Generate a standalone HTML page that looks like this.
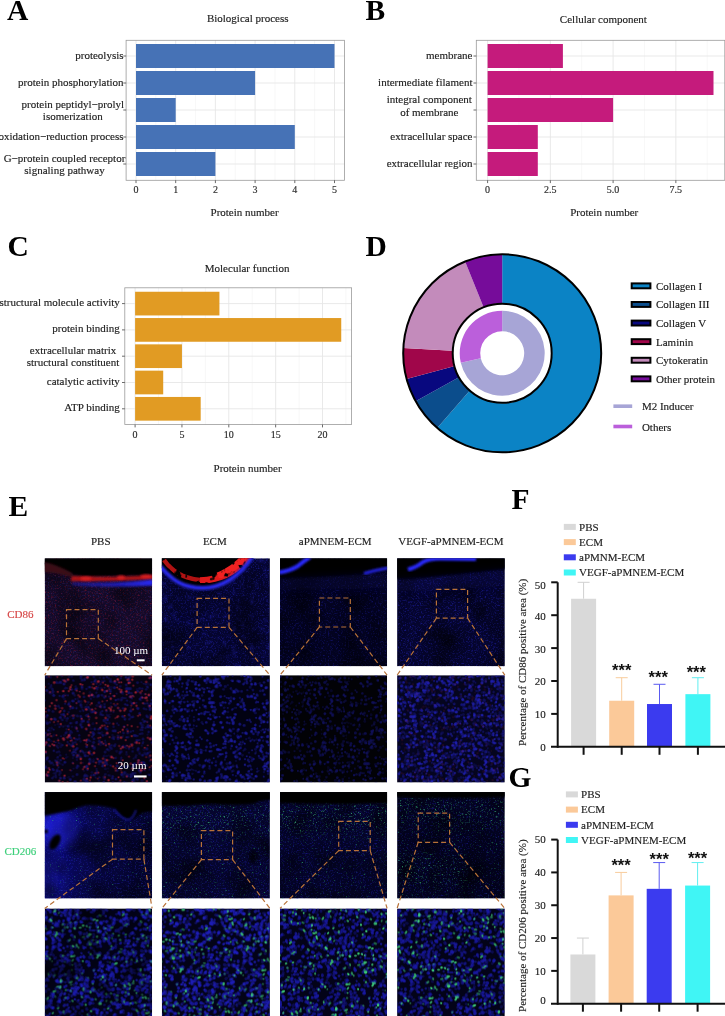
<!DOCTYPE html>
<html><head><meta charset="utf-8"><title>Figure</title>
<style>html,body{margin:0;padding:0;background:#fff;}svg{display:block;}</style></head>
<body><svg width="725" height="1016" viewBox="0 0 725 1016" font-family="'Liberation Serif', 'Times New Roman', serif">
<rect width="725" height="1016" fill="#fff"/>
<text x="7.00" y="20.00" font-size="29.5" font-weight="bold" fill="#000">A</text>
<rect x="126.1" y="40.3" width="218.29999999999998" height="140.0" fill="#fff"/>
<line x1="155.85" y1="40.3" x2="155.85" y2="180.3" stroke="#f2f2f2" stroke-width="0.6"/>
<line x1="195.55" y1="40.3" x2="195.55" y2="180.3" stroke="#f2f2f2" stroke-width="0.6"/>
<line x1="235.25" y1="40.3" x2="235.25" y2="180.3" stroke="#f2f2f2" stroke-width="0.6"/>
<line x1="274.95" y1="40.3" x2="274.95" y2="180.3" stroke="#f2f2f2" stroke-width="0.6"/>
<line x1="314.65" y1="40.3" x2="314.65" y2="180.3" stroke="#f2f2f2" stroke-width="0.6"/>
<line x1="136.00" y1="40.3" x2="136.00" y2="180.3" stroke="#e6e6e6" stroke-width="0.9"/>
<line x1="175.70" y1="40.3" x2="175.70" y2="180.3" stroke="#e6e6e6" stroke-width="0.9"/>
<line x1="215.40" y1="40.3" x2="215.40" y2="180.3" stroke="#e6e6e6" stroke-width="0.9"/>
<line x1="255.10" y1="40.3" x2="255.10" y2="180.3" stroke="#e6e6e6" stroke-width="0.9"/>
<line x1="294.80" y1="40.3" x2="294.80" y2="180.3" stroke="#e6e6e6" stroke-width="0.9"/>
<line x1="334.50" y1="40.3" x2="334.50" y2="180.3" stroke="#e6e6e6" stroke-width="0.9"/>
<line x1="126.1" y1="56.00" x2="344.4" y2="56.00" stroke="#e6e6e6" stroke-width="0.9"/>
<line x1="126.1" y1="83.00" x2="344.4" y2="83.00" stroke="#e6e6e6" stroke-width="0.9"/>
<line x1="126.1" y1="110.00" x2="344.4" y2="110.00" stroke="#e6e6e6" stroke-width="0.9"/>
<line x1="126.1" y1="137.00" x2="344.4" y2="137.00" stroke="#e6e6e6" stroke-width="0.9"/>
<line x1="126.1" y1="164.00" x2="344.4" y2="164.00" stroke="#e6e6e6" stroke-width="0.9"/>
<rect x="136.00" y="44.00" width="198.50" height="24.00" fill="#4672b6"/>
<rect x="136.00" y="71.00" width="119.10" height="24.00" fill="#4672b6"/>
<rect x="136.00" y="98.00" width="39.70" height="24.00" fill="#4672b6"/>
<rect x="136.00" y="125.00" width="158.80" height="24.00" fill="#4672b6"/>
<rect x="136.00" y="152.00" width="79.40" height="24.00" fill="#4672b6"/>
<rect x="126.1" y="40.3" width="218.29999999999998" height="140.0" fill="none" stroke="#9a9a9a" stroke-width="0.8"/>
<line x1="123.3" y1="56.00" x2="126.1" y2="56.00" stroke="#444" stroke-width="0.8"/>
<line x1="123.3" y1="83.00" x2="126.1" y2="83.00" stroke="#444" stroke-width="0.8"/>
<line x1="123.3" y1="110.00" x2="126.1" y2="110.00" stroke="#444" stroke-width="0.8"/>
<line x1="123.3" y1="137.00" x2="126.1" y2="137.00" stroke="#444" stroke-width="0.8"/>
<line x1="123.3" y1="164.00" x2="126.1" y2="164.00" stroke="#444" stroke-width="0.8"/>
<line x1="136.00" y1="180.3" x2="136.00" y2="183.10000000000002" stroke="#444" stroke-width="0.8"/>
<text x="136.00" y="193.30" font-size="10" text-anchor="middle" fill="#2a2a2a" stroke="#2a2a2a" stroke-width="0.15" >0</text>
<line x1="175.70" y1="180.3" x2="175.70" y2="183.10000000000002" stroke="#444" stroke-width="0.8"/>
<text x="175.70" y="193.30" font-size="10" text-anchor="middle" fill="#2a2a2a" stroke="#2a2a2a" stroke-width="0.15" >1</text>
<line x1="215.40" y1="180.3" x2="215.40" y2="183.10000000000002" stroke="#444" stroke-width="0.8"/>
<text x="215.40" y="193.30" font-size="10" text-anchor="middle" fill="#2a2a2a" stroke="#2a2a2a" stroke-width="0.15" >2</text>
<line x1="255.10" y1="180.3" x2="255.10" y2="183.10000000000002" stroke="#444" stroke-width="0.8"/>
<text x="255.10" y="193.30" font-size="10" text-anchor="middle" fill="#2a2a2a" stroke="#2a2a2a" stroke-width="0.15" >3</text>
<line x1="294.80" y1="180.3" x2="294.80" y2="183.10000000000002" stroke="#444" stroke-width="0.8"/>
<text x="294.80" y="193.30" font-size="10" text-anchor="middle" fill="#2a2a2a" stroke="#2a2a2a" stroke-width="0.15" >4</text>
<line x1="334.50" y1="180.3" x2="334.50" y2="183.10000000000002" stroke="#444" stroke-width="0.8"/>
<text x="334.50" y="193.30" font-size="10" text-anchor="middle" fill="#2a2a2a" stroke="#2a2a2a" stroke-width="0.15" >5</text>
<text x="123.50" y="58.50" font-size="11" text-anchor="end" fill="#222" stroke="#222" stroke-width="0.15" >proteolysis</text>
<text x="123.50" y="85.50" font-size="11" text-anchor="end" fill="#222" stroke="#222" stroke-width="0.15" >protein phosphorylation</text>
<text font-size="11" fill="#222" stroke="#222" stroke-width="0.15" text-anchor="middle"><tspan x="72.80" y="107.80">protein peptidyl−prolyl</tspan><tspan x="72.80" y="119.90">isomerization</tspan></text>
<text x="123.50" y="139.50" font-size="11" text-anchor="end" fill="#222" stroke="#222" stroke-width="0.15" >oxidation−reduction process</text>
<text font-size="11" fill="#222" stroke="#222" stroke-width="0.15" text-anchor="middle"><tspan x="64.50" y="161.80">G−protein coupled receptor</tspan><tspan x="64.50" y="173.90">signaling pathway</tspan></text>
<text x="247.70" y="22.30" font-size="11" text-anchor="middle" fill="#222" stroke="#222" stroke-width="0.15" >Biological process</text>
<text x="244.60" y="215.70" font-size="11" text-anchor="middle" fill="#222" stroke="#222" stroke-width="0.15" >Protein number</text>
<text x="365.50" y="19.50" font-size="29.5" font-weight="bold" fill="#000">B</text>
<rect x="476.3" y="40.3" width="248.49999999999994" height="140.0" fill="#fff"/>
<line x1="518.98" y1="40.3" x2="518.98" y2="180.3" stroke="#f2f2f2" stroke-width="0.6"/>
<line x1="581.73" y1="40.3" x2="581.73" y2="180.3" stroke="#f2f2f2" stroke-width="0.6"/>
<line x1="644.48" y1="40.3" x2="644.48" y2="180.3" stroke="#f2f2f2" stroke-width="0.6"/>
<line x1="707.23" y1="40.3" x2="707.23" y2="180.3" stroke="#f2f2f2" stroke-width="0.6"/>
<line x1="487.60" y1="40.3" x2="487.60" y2="180.3" stroke="#e6e6e6" stroke-width="0.9"/>
<line x1="550.35" y1="40.3" x2="550.35" y2="180.3" stroke="#e6e6e6" stroke-width="0.9"/>
<line x1="613.10" y1="40.3" x2="613.10" y2="180.3" stroke="#e6e6e6" stroke-width="0.9"/>
<line x1="675.85" y1="40.3" x2="675.85" y2="180.3" stroke="#e6e6e6" stroke-width="0.9"/>
<line x1="476.3" y1="56.00" x2="724.8" y2="56.00" stroke="#e6e6e6" stroke-width="0.9"/>
<line x1="476.3" y1="83.00" x2="724.8" y2="83.00" stroke="#e6e6e6" stroke-width="0.9"/>
<line x1="476.3" y1="110.00" x2="724.8" y2="110.00" stroke="#e6e6e6" stroke-width="0.9"/>
<line x1="476.3" y1="137.00" x2="724.8" y2="137.00" stroke="#e6e6e6" stroke-width="0.9"/>
<line x1="476.3" y1="164.00" x2="724.8" y2="164.00" stroke="#e6e6e6" stroke-width="0.9"/>
<rect x="487.60" y="44.00" width="75.30" height="24.00" fill="#c51b7c"/>
<rect x="487.60" y="71.00" width="225.90" height="24.00" fill="#c51b7c"/>
<rect x="487.60" y="98.00" width="125.50" height="24.00" fill="#c51b7c"/>
<rect x="487.60" y="125.00" width="50.20" height="24.00" fill="#c51b7c"/>
<rect x="487.60" y="152.00" width="50.20" height="24.00" fill="#c51b7c"/>
<rect x="476.3" y="40.3" width="248.49999999999994" height="140.0" fill="none" stroke="#9a9a9a" stroke-width="0.8"/>
<line x1="473.5" y1="56.00" x2="476.3" y2="56.00" stroke="#444" stroke-width="0.8"/>
<line x1="473.5" y1="83.00" x2="476.3" y2="83.00" stroke="#444" stroke-width="0.8"/>
<line x1="473.5" y1="110.00" x2="476.3" y2="110.00" stroke="#444" stroke-width="0.8"/>
<line x1="473.5" y1="137.00" x2="476.3" y2="137.00" stroke="#444" stroke-width="0.8"/>
<line x1="473.5" y1="164.00" x2="476.3" y2="164.00" stroke="#444" stroke-width="0.8"/>
<line x1="487.60" y1="180.3" x2="487.60" y2="183.10000000000002" stroke="#444" stroke-width="0.8"/>
<text x="487.60" y="193.30" font-size="10" text-anchor="middle" fill="#2a2a2a" stroke="#2a2a2a" stroke-width="0.15" >0</text>
<line x1="550.35" y1="180.3" x2="550.35" y2="183.10000000000002" stroke="#444" stroke-width="0.8"/>
<text x="550.35" y="193.30" font-size="10" text-anchor="middle" fill="#2a2a2a" stroke="#2a2a2a" stroke-width="0.15" >2.5</text>
<line x1="613.10" y1="180.3" x2="613.10" y2="183.10000000000002" stroke="#444" stroke-width="0.8"/>
<text x="613.10" y="193.30" font-size="10" text-anchor="middle" fill="#2a2a2a" stroke="#2a2a2a" stroke-width="0.15" >5.0</text>
<line x1="675.85" y1="180.3" x2="675.85" y2="183.10000000000002" stroke="#444" stroke-width="0.8"/>
<text x="675.85" y="193.30" font-size="10" text-anchor="middle" fill="#2a2a2a" stroke="#2a2a2a" stroke-width="0.15" >7.5</text>
<text x="472.50" y="58.50" font-size="11" text-anchor="end" fill="#222" stroke="#222" stroke-width="0.15" >membrane</text>
<text x="472.50" y="85.50" font-size="11" text-anchor="end" fill="#222" stroke="#222" stroke-width="0.15" >intermediate filament</text>
<text font-size="11" fill="#222" stroke="#222" stroke-width="0.15" text-anchor="middle"><tspan x="429.30" y="102.80">integral component</tspan><tspan x="429.30" y="115.60">of membrane</tspan></text>
<text x="472.50" y="139.50" font-size="11" text-anchor="end" fill="#222" stroke="#222" stroke-width="0.15" >extracellular space</text>
<text x="472.50" y="166.50" font-size="11" text-anchor="end" fill="#222" stroke="#222" stroke-width="0.15" >extracellular region</text>
<text x="603.40" y="22.50" font-size="11" text-anchor="middle" fill="#222" stroke="#222" stroke-width="0.15" >Cellular component</text>
<text x="604.20" y="215.70" font-size="11" text-anchor="middle" fill="#222" stroke="#222" stroke-width="0.15" >Protein number</text>
<text x="7.50" y="256.00" font-size="29.5" font-weight="bold" fill="#000">C</text>
<rect x="124.8" y="287.8" width="226.8" height="136.8" fill="#fff"/>
<line x1="158.52" y1="287.8" x2="158.52" y2="424.6" stroke="#f2f2f2" stroke-width="0.6"/>
<line x1="205.38" y1="287.8" x2="205.38" y2="424.6" stroke="#f2f2f2" stroke-width="0.6"/>
<line x1="252.22" y1="287.8" x2="252.22" y2="424.6" stroke="#f2f2f2" stroke-width="0.6"/>
<line x1="299.07" y1="287.8" x2="299.07" y2="424.6" stroke="#f2f2f2" stroke-width="0.6"/>
<line x1="345.92" y1="287.8" x2="345.92" y2="424.6" stroke="#f2f2f2" stroke-width="0.6"/>
<line x1="135.10" y1="287.8" x2="135.10" y2="424.6" stroke="#e6e6e6" stroke-width="0.9"/>
<line x1="181.95" y1="287.8" x2="181.95" y2="424.6" stroke="#e6e6e6" stroke-width="0.9"/>
<line x1="228.80" y1="287.8" x2="228.80" y2="424.6" stroke="#e6e6e6" stroke-width="0.9"/>
<line x1="275.65" y1="287.8" x2="275.65" y2="424.6" stroke="#e6e6e6" stroke-width="0.9"/>
<line x1="322.50" y1="287.8" x2="322.50" y2="424.6" stroke="#e6e6e6" stroke-width="0.9"/>
<line x1="124.8" y1="303.60" x2="351.6" y2="303.60" stroke="#e6e6e6" stroke-width="0.9"/>
<line x1="124.8" y1="329.90" x2="351.6" y2="329.90" stroke="#e6e6e6" stroke-width="0.9"/>
<line x1="124.8" y1="356.20" x2="351.6" y2="356.20" stroke="#e6e6e6" stroke-width="0.9"/>
<line x1="124.8" y1="382.50" x2="351.6" y2="382.50" stroke="#e6e6e6" stroke-width="0.9"/>
<line x1="124.8" y1="408.80" x2="351.6" y2="408.80" stroke="#e6e6e6" stroke-width="0.9"/>
<rect x="135.10" y="291.75" width="84.33" height="23.70" fill="#e19b23"/>
<rect x="135.10" y="318.05" width="206.14" height="23.70" fill="#e19b23"/>
<rect x="135.10" y="344.35" width="46.85" height="23.70" fill="#e19b23"/>
<rect x="135.10" y="370.65" width="28.11" height="23.70" fill="#e19b23"/>
<rect x="135.10" y="396.95" width="65.59" height="23.70" fill="#e19b23"/>
<rect x="124.8" y="287.8" width="226.8" height="136.8" fill="none" stroke="#9a9a9a" stroke-width="0.8"/>
<line x1="122.0" y1="303.60" x2="124.8" y2="303.60" stroke="#444" stroke-width="0.8"/>
<line x1="122.0" y1="329.90" x2="124.8" y2="329.90" stroke="#444" stroke-width="0.8"/>
<line x1="122.0" y1="356.20" x2="124.8" y2="356.20" stroke="#444" stroke-width="0.8"/>
<line x1="122.0" y1="382.50" x2="124.8" y2="382.50" stroke="#444" stroke-width="0.8"/>
<line x1="122.0" y1="408.80" x2="124.8" y2="408.80" stroke="#444" stroke-width="0.8"/>
<line x1="135.10" y1="424.6" x2="135.10" y2="427.40000000000003" stroke="#444" stroke-width="0.8"/>
<text x="135.10" y="437.60" font-size="10" text-anchor="middle" fill="#2a2a2a" stroke="#2a2a2a" stroke-width="0.15" >0</text>
<line x1="181.95" y1="424.6" x2="181.95" y2="427.40000000000003" stroke="#444" stroke-width="0.8"/>
<text x="181.95" y="437.60" font-size="10" text-anchor="middle" fill="#2a2a2a" stroke="#2a2a2a" stroke-width="0.15" >5</text>
<line x1="228.80" y1="424.6" x2="228.80" y2="427.40000000000003" stroke="#444" stroke-width="0.8"/>
<text x="228.80" y="437.60" font-size="10" text-anchor="middle" fill="#2a2a2a" stroke="#2a2a2a" stroke-width="0.15" >10</text>
<line x1="275.65" y1="424.6" x2="275.65" y2="427.40000000000003" stroke="#444" stroke-width="0.8"/>
<text x="275.65" y="437.60" font-size="10" text-anchor="middle" fill="#2a2a2a" stroke="#2a2a2a" stroke-width="0.15" >15</text>
<line x1="322.50" y1="424.6" x2="322.50" y2="427.40000000000003" stroke="#444" stroke-width="0.8"/>
<text x="322.50" y="437.60" font-size="10" text-anchor="middle" fill="#2a2a2a" stroke="#2a2a2a" stroke-width="0.15" >20</text>
<text x="119.80" y="306.10" font-size="11" text-anchor="end" fill="#222" stroke="#222" stroke-width="0.15" >structural molecule activity</text>
<text x="119.80" y="332.40" font-size="11" text-anchor="end" fill="#222" stroke="#222" stroke-width="0.15" >protein binding</text>
<text font-size="11" fill="#222" stroke="#222" stroke-width="0.15" text-anchor="middle"><tspan x="73.00" y="354.00">extracellular matrix</tspan><tspan x="73.00" y="366.10">structural constituent</tspan></text>
<text x="119.80" y="385.00" font-size="11" text-anchor="end" fill="#222" stroke="#222" stroke-width="0.15" >catalytic activity</text>
<text x="119.80" y="411.30" font-size="11" text-anchor="end" fill="#222" stroke="#222" stroke-width="0.15" >ATP binding</text>
<text x="247.10" y="272.40" font-size="11" text-anchor="middle" fill="#222" stroke="#222" stroke-width="0.15" >Molecular function</text>
<text x="247.60" y="472.00" font-size="11" text-anchor="middle" fill="#222" stroke="#222" stroke-width="0.15" >Protein number</text>
<text x="365.50" y="255.60" font-size="29.5" font-weight="bold" fill="#000">D</text>
<path d="M502.20,254.30 A99,99 0 1 1 437.25,428.02 L469.40,391.04 A50,50 0 1 0 502.20,303.30 Z" fill="#0b83c5"/>
<path d="M437.25,428.02 A99,99 0 0 1 415.61,401.30 L458.47,377.54 A50,50 0 0 0 469.40,391.04 Z" fill="#0b4d8c"/>
<path d="M415.61,401.30 A99,99 0 0 1 406.57,378.92 L453.90,366.24 A50,50 0 0 0 458.47,377.54 Z" fill="#08087f"/>
<path d="M406.57,378.92 A99,99 0 0 1 403.34,348.12 L452.27,350.68 A50,50 0 0 0 453.90,366.24 Z" fill="#a0064a"/>
<path d="M403.34,348.12 A99,99 0 0 1 465.11,261.51 L483.47,306.94 A50,50 0 0 0 452.27,350.68 Z" fill="#c38bbb"/>
<path d="M465.11,261.51 A99,99 0 0 1 502.20,254.30 L502.20,303.30 A50,50 0 0 0 483.47,306.94 Z" fill="#760c9a"/>
<circle cx="502.2" cy="353.3" r="99" fill="none" stroke="#000" stroke-width="2"/>
<circle cx="502.2" cy="353.3" r="49.5" fill="#fff" stroke="#000" stroke-width="2"/>
<path d="M502.20,310.80 A42.5,42.5 0 1 1 460.79,362.86 L480.76,358.25 A22,22 0 1 0 502.20,331.30 Z" fill="#a7a5d6"/>
<path d="M460.79,362.86 A42.5,42.5 0 0 1 502.20,310.80 L502.20,331.30 A22,22 0 0 0 480.76,358.25 Z" fill="#bb5fdb"/>
<rect x="631.7" y="283.40" width="18.7" height="4.9" fill="#0b83c5" stroke="#000" stroke-width="2"/>
<text x="656.00" y="289.80" font-size="11" text-anchor="start" fill="#1a1a1a" stroke="#1a1a1a" stroke-width="0.15" >Collagen I</text>
<rect x="631.7" y="302.00" width="18.7" height="4.9" fill="#0b4d8c" stroke="#000" stroke-width="2"/>
<text x="656.00" y="308.40" font-size="11" text-anchor="start" fill="#1a1a1a" stroke="#1a1a1a" stroke-width="0.15" >Collagen III</text>
<rect x="631.7" y="320.60" width="18.7" height="4.9" fill="#08087f" stroke="#000" stroke-width="2"/>
<text x="656.00" y="327.00" font-size="11" text-anchor="start" fill="#1a1a1a" stroke="#1a1a1a" stroke-width="0.15" >Collagen V</text>
<rect x="631.7" y="339.20" width="18.7" height="4.9" fill="#a0064a" stroke="#000" stroke-width="2"/>
<text x="656.00" y="345.60" font-size="11" text-anchor="start" fill="#1a1a1a" stroke="#1a1a1a" stroke-width="0.15" >Laminin</text>
<rect x="631.7" y="357.80" width="18.7" height="4.9" fill="#c38bbb" stroke="#000" stroke-width="2"/>
<text x="656.00" y="364.20" font-size="11" text-anchor="start" fill="#1a1a1a" stroke="#1a1a1a" stroke-width="0.15" >Cytokeratin</text>
<rect x="631.7" y="376.40" width="18.7" height="4.9" fill="#760c9a" stroke="#000" stroke-width="2"/>
<text x="656.00" y="382.80" font-size="11" text-anchor="start" fill="#1a1a1a" stroke="#1a1a1a" stroke-width="0.15" >Other protein</text>
<rect x="613.4" y="404.40" width="18.8" height="3.6" fill="#a7a5d6"/>
<text x="641.90" y="410.20" font-size="11" text-anchor="start" fill="#1a1a1a" stroke="#1a1a1a" stroke-width="0.15" >M2 Inducer</text>
<rect x="613.4" y="424.70" width="18.8" height="3.6" fill="#bb5fdb"/>
<text x="641.90" y="430.50" font-size="11" text-anchor="start" fill="#1a1a1a" stroke="#1a1a1a" stroke-width="0.15" >Others</text>
<text x="511.50" y="509.00" font-size="29.5" font-weight="bold" fill="#000">F</text>
<rect x="563.8" y="523.90" width="12" height="6" fill="#d9d9d9"/>
<text x="579.10" y="530.70" font-size="11" text-anchor="start" fill="#222" stroke="#222" stroke-width="0.15" >PBS</text>
<rect x="563.8" y="539.10" width="12" height="6" fill="#fbc999"/>
<text x="579.10" y="545.90" font-size="11" text-anchor="start" fill="#222" stroke="#222" stroke-width="0.15" >ECM</text>
<rect x="563.8" y="554.30" width="12" height="6" fill="#3b3bef"/>
<text x="579.10" y="561.10" font-size="11" text-anchor="start" fill="#222" stroke="#222" stroke-width="0.15" >aPMNM-ECM</text>
<rect x="563.8" y="569.50" width="12" height="6" fill="#40f5f5"/>
<text x="579.10" y="576.30" font-size="11" text-anchor="start" fill="#222" stroke="#222" stroke-width="0.15" >VEGF-aPMNEM-ECM</text>
<line x1="583.60" y1="582.30" x2="583.60" y2="598.75" stroke="#d0d0d0" stroke-width="1"/>
<line x1="577.60" y1="582.30" x2="589.60" y2="582.30" stroke="#d0d0d0" stroke-width="1"/>
<rect x="571.10" y="598.75" width="25" height="148.05" fill="#d9d9d9"/>
<line x1="621.70" y1="677.71" x2="621.70" y2="700.74" stroke="#f8cc9c" stroke-width="1"/>
<line x1="615.70" y1="677.71" x2="627.70" y2="677.71" stroke="#f8cc9c" stroke-width="1"/>
<rect x="609.20" y="700.74" width="25" height="46.06" fill="#fbc999"/>
<text x="621.70" y="676.30" font-family="&quot;Liberation Sans&quot;, Arial, sans-serif" font-weight="bold" font-size="16.5" text-anchor="middle" fill="#111">***</text>
<line x1="659.50" y1="684.29" x2="659.50" y2="704.03" stroke="#5a5af0" stroke-width="1"/>
<line x1="653.50" y1="684.29" x2="665.50" y2="684.29" stroke="#5a5af0" stroke-width="1"/>
<rect x="647.00" y="704.03" width="25" height="42.77" fill="#3b3bef"/>
<text x="658.20" y="683.30" font-family="&quot;Liberation Sans&quot;, Arial, sans-serif" font-weight="bold" font-size="16.5" text-anchor="middle" fill="#111">***</text>
<line x1="697.90" y1="677.71" x2="697.90" y2="694.16" stroke="#60eef0" stroke-width="1"/>
<line x1="691.90" y1="677.71" x2="703.90" y2="677.71" stroke="#60eef0" stroke-width="1"/>
<rect x="685.40" y="694.16" width="25" height="52.64" fill="#40f5f5"/>
<text x="696.30" y="678.30" font-family="&quot;Liberation Sans&quot;, Arial, sans-serif" font-weight="bold" font-size="16.5" text-anchor="middle" fill="#111">***</text>
<line x1="557.7" y1="582.30" x2="557.7" y2="747.80" stroke="#111" stroke-width="2"/>
<line x1="551" y1="746.80" x2="725" y2="746.80" stroke="#111" stroke-width="2"/>
<text x="545.80" y="750.60" font-size="11" text-anchor="end" fill="#222" stroke="#222" stroke-width="0.15" >0</text>
<line x1="551.2" y1="713.90" x2="557.7" y2="713.90" stroke="#111" stroke-width="2"/>
<text x="545.80" y="717.70" font-size="11" text-anchor="end" fill="#222" stroke="#222" stroke-width="0.15" >10</text>
<line x1="551.2" y1="681.00" x2="557.7" y2="681.00" stroke="#111" stroke-width="2"/>
<text x="545.80" y="684.80" font-size="11" text-anchor="end" fill="#222" stroke="#222" stroke-width="0.15" >20</text>
<line x1="551.2" y1="648.10" x2="557.7" y2="648.10" stroke="#111" stroke-width="2"/>
<text x="545.80" y="652.90" font-size="11" text-anchor="end" fill="#222" stroke="#222" stroke-width="0.15" >30</text>
<line x1="551.2" y1="615.20" x2="557.7" y2="615.20" stroke="#111" stroke-width="2"/>
<text x="545.80" y="620.40" font-size="11" text-anchor="end" fill="#222" stroke="#222" stroke-width="0.15" >40</text>
<line x1="551.2" y1="582.30" x2="557.7" y2="582.30" stroke="#111" stroke-width="2"/>
<text x="545.80" y="588.90" font-size="11" text-anchor="end" fill="#222" stroke="#222" stroke-width="0.15" >50</text>
<line x1="583.60" y1="746.80" x2="583.60" y2="754.80" stroke="#111" stroke-width="2"/>
<line x1="621.70" y1="746.80" x2="621.70" y2="754.80" stroke="#111" stroke-width="2"/>
<line x1="659.50" y1="746.80" x2="659.50" y2="754.80" stroke="#111" stroke-width="2"/>
<line x1="697.90" y1="746.80" x2="697.90" y2="754.80" stroke="#111" stroke-width="2"/>
<text transform="translate(526.3,662.40) rotate(-90)" font-size="11" text-anchor="middle" fill="#222" stroke="#222" stroke-width="0.15">Percentage of CD86 positive area (%)</text>
<text x="508.50" y="786.50" font-size="29.5" font-weight="bold" fill="#000">G</text>
<rect x="565.9" y="791.40" width="12" height="6" fill="#d9d9d9"/>
<text x="581.10" y="798.20" font-size="11" text-anchor="start" fill="#222" stroke="#222" stroke-width="0.15" >PBS</text>
<rect x="565.9" y="806.60" width="12" height="6" fill="#fbc999"/>
<text x="581.10" y="813.40" font-size="11" text-anchor="start" fill="#222" stroke="#222" stroke-width="0.15" >ECM</text>
<rect x="565.9" y="821.80" width="12" height="6" fill="#3b3bef"/>
<text x="581.10" y="828.60" font-size="11" text-anchor="start" fill="#222" stroke="#222" stroke-width="0.15" >aPMNEM-ECM</text>
<rect x="565.9" y="837.00" width="12" height="6" fill="#40f5f5"/>
<text x="581.10" y="843.80" font-size="11" text-anchor="start" fill="#222" stroke="#222" stroke-width="0.15" >VEGF-aPMNEM-ECM</text>
<line x1="582.90" y1="938.06" x2="582.90" y2="954.47" stroke="#d0d0d0" stroke-width="1"/>
<line x1="576.90" y1="938.06" x2="588.90" y2="938.06" stroke="#d0d0d0" stroke-width="1"/>
<rect x="570.40" y="954.47" width="25" height="49.23" fill="#d9d9d9"/>
<line x1="621.10" y1="872.42" x2="621.10" y2="895.39" stroke="#f8cc9c" stroke-width="1"/>
<line x1="615.10" y1="872.42" x2="627.10" y2="872.42" stroke="#f8cc9c" stroke-width="1"/>
<rect x="608.60" y="895.39" width="25" height="108.31" fill="#fbc999"/>
<text x="621.10" y="871.40" font-family="&quot;Liberation Sans&quot;, Arial, sans-serif" font-weight="bold" font-size="16.5" text-anchor="middle" fill="#111">***</text>
<line x1="659.20" y1="862.57" x2="659.20" y2="888.83" stroke="#5a5af0" stroke-width="1"/>
<line x1="653.20" y1="862.57" x2="665.20" y2="862.57" stroke="#5a5af0" stroke-width="1"/>
<rect x="646.70" y="888.83" width="25" height="114.87" fill="#3b3bef"/>
<text x="659.20" y="865.00" font-family="&quot;Liberation Sans&quot;, Arial, sans-serif" font-weight="bold" font-size="16.5" text-anchor="middle" fill="#111">***</text>
<line x1="697.60" y1="862.57" x2="697.60" y2="885.55" stroke="#60eef0" stroke-width="1"/>
<line x1="691.60" y1="862.57" x2="703.60" y2="862.57" stroke="#60eef0" stroke-width="1"/>
<rect x="685.10" y="885.55" width="25" height="118.15" fill="#40f5f5"/>
<text x="697.60" y="863.70" font-family="&quot;Liberation Sans&quot;, Arial, sans-serif" font-weight="bold" font-size="16.5" text-anchor="middle" fill="#111">***</text>
<line x1="557.7" y1="839.60" x2="557.7" y2="1004.70" stroke="#111" stroke-width="2"/>
<line x1="551" y1="1003.70" x2="725" y2="1003.70" stroke="#111" stroke-width="2"/>
<text x="545.80" y="1003.90" font-size="11" text-anchor="end" fill="#222" stroke="#222" stroke-width="0.15" >0</text>
<line x1="551.2" y1="970.88" x2="557.7" y2="970.88" stroke="#111" stroke-width="2"/>
<text x="545.80" y="974.68" font-size="11" text-anchor="end" fill="#222" stroke="#222" stroke-width="0.15" >10</text>
<line x1="551.2" y1="938.06" x2="557.7" y2="938.06" stroke="#111" stroke-width="2"/>
<text x="545.80" y="941.86" font-size="11" text-anchor="end" fill="#222" stroke="#222" stroke-width="0.15" >20</text>
<line x1="551.2" y1="905.24" x2="557.7" y2="905.24" stroke="#111" stroke-width="2"/>
<text x="545.80" y="909.04" font-size="11" text-anchor="end" fill="#222" stroke="#222" stroke-width="0.15" >30</text>
<line x1="551.2" y1="872.42" x2="557.7" y2="872.42" stroke="#111" stroke-width="2"/>
<text x="545.80" y="876.22" font-size="11" text-anchor="end" fill="#222" stroke="#222" stroke-width="0.15" >40</text>
<line x1="551.2" y1="839.60" x2="557.7" y2="839.60" stroke="#111" stroke-width="2"/>
<text x="545.80" y="843.40" font-size="11" text-anchor="end" fill="#222" stroke="#222" stroke-width="0.15" >50</text>
<line x1="582.90" y1="1003.70" x2="582.90" y2="1011.70" stroke="#111" stroke-width="2"/>
<line x1="621.10" y1="1003.70" x2="621.10" y2="1011.70" stroke="#111" stroke-width="2"/>
<line x1="659.20" y1="1003.70" x2="659.20" y2="1011.70" stroke="#111" stroke-width="2"/>
<line x1="697.60" y1="1003.70" x2="697.60" y2="1011.70" stroke="#111" stroke-width="2"/>
<text transform="translate(526.3,925.70) rotate(-90)" font-size="11" text-anchor="middle" fill="#222" stroke="#222" stroke-width="0.15">Percentage of CD206 positive area (%)</text>
<text x="8.50" y="515.90" font-size="29.5" font-weight="bold" fill="#000">E</text>
<text x="100.75" y="544.50" font-size="11" text-anchor="middle" fill="#222" stroke="#222" stroke-width="0.15" >PBS</text>
<text x="214.80" y="544.50" font-size="11" text-anchor="middle" fill="#222" stroke="#222" stroke-width="0.15" >ECM</text>
<text x="335.20" y="544.50" font-size="11" text-anchor="middle" fill="#222" stroke="#222" stroke-width="0.15" >aPMNEM-ECM</text>
<text x="450.90" y="544.50" font-size="11" text-anchor="middle" fill="#222" stroke="#222" stroke-width="0.15" >VEGF-aPMNEM-ECM</text>
<text x="7.20" y="618.30" font-size="11" text-anchor="start" fill="#d64545" stroke="#d64545" stroke-width="0.15" >CD86</text>
<text x="4.50" y="854.80" font-size="11" text-anchor="start" fill="#3ccf7a" stroke="#3ccf7a" stroke-width="0.15" >CD206</text>
<defs><filter id="blur1" x="-20%" y="-20%" width="140%" height="140%"><feGaussianBlur stdDeviation="1"/></filter><filter id="blur2" x="-20%" y="-20%" width="140%" height="140%"><feGaussianBlur stdDeviation="2.2"/></filter><filter id="blur6" x="-50%" y="-50%" width="200%" height="200%"><feGaussianBlur stdDeviation="8"/></filter><filter id="blur4" x="-50%" y="-50%" width="200%" height="200%"><feGaussianBlur stdDeviation="5"/></filter><linearGradient id="g20" x1="0" y1="0" x2="1" y2="0.2"><stop offset="0" stop-color="#0c0c80"/><stop offset="0.5" stop-color="#070748"/><stop offset="1" stop-color="#04042c"/></linearGradient><linearGradient id="bandg" x1="0" y1="0" x2="1" y2="0"><stop offset="0" stop-color="#2020c8" stop-opacity="0.45"/><stop offset="0.5" stop-color="#2020d0" stop-opacity="0.75"/><stop offset="1" stop-color="#2828f0"/></linearGradient><filter id="clump" x="-10%" y="-10%" width="120%" height="120%" color-interpolation-filters="sRGB"><feTurbulence type="fractalNoise" baseFrequency="0.17" numOctaves="2" seed="9" result="n"/><feColorMatrix in="n" type="matrix" values="0 0 0 0 0 0 0 0 0 0 0 0 0 0 0 6 0 0 0 -1.9" result="m"/><feComposite in="SourceGraphic" in2="m" operator="in" result="c"/><feGaussianBlur in="c" stdDeviation="0.7"/></filter><linearGradient id="fadeg" x1="0" y1="0" x2="0" y2="1"><stop offset="0" stop-color="#fff" stop-opacity="0"/><stop offset="0.2" stop-color="#fff"/><stop offset="0.5" stop-color="#fff"/><stop offset="1" stop-color="#fff" stop-opacity="0"/></linearGradient><mask id="fadem" maskContentUnits="objectBoundingBox"><rect width="1" height="1" fill="url(#fadeg)"/></mask><filter id="bdot" x="0" y="0" width="1" height="1"><feGaussianBlur stdDeviation="0.55"/></filter><clipPath id="c00"><rect x="44.7" y="558.3" width="107.40" height="107.90"/></clipPath><filter id="n1" x="0" y="0" width="1" height="1" color-interpolation-filters="sRGB"><feTurbulence type="fractalNoise" baseFrequency="0.6" numOctaves="2" seed="18"/><feColorMatrix type="matrix" values="0 0 0 0 0.188 0 0 0 0 0.188 0 0 0 0 0.627 1.3 0 0 0 -0.676"/><feGaussianBlur stdDeviation="0.5"/></filter><filter id="n2" x="0" y="0" width="1" height="1" color-interpolation-filters="sRGB"><feTurbulence type="fractalNoise" baseFrequency="0.6" numOctaves="2" seed="31"/><feColorMatrix type="matrix" values="0 0 0 0 0.627 0 0 0 0 0.094 0 0 0 0 0.188 1.8 0 0 0 -0.990"/><feGaussianBlur stdDeviation="0.5"/></filter><filter id="n3" x="0" y="0" width="1" height="1" color-interpolation-filters="sRGB"><feTurbulence type="fractalNoise" baseFrequency="0.035" numOctaves="2" seed="44"/><feColorMatrix type="matrix" values="0 0 0 0 0.0 0 0 0 0 0.0 0 0 0 0 0.0 1.4 0 0 0 -0.588"/><feGaussianBlur stdDeviation="1"/></filter><clipPath id="c01"><rect x="161.8" y="558.3" width="108.10" height="107.90"/></clipPath><filter id="n4" x="0" y="0" width="1" height="1" color-interpolation-filters="sRGB"><feTurbulence type="fractalNoise" baseFrequency="0.6" numOctaves="2" seed="57"/><feColorMatrix type="matrix" values="0 0 0 0 0.133 0 0 0 0 0.133 0 0 0 0 0.69 1.8 0 0 0 -0.900"/><feGaussianBlur stdDeviation="0.5"/></filter><filter id="n5" x="0" y="0" width="1" height="1" color-interpolation-filters="sRGB"><feTurbulence type="fractalNoise" baseFrequency="0.22" numOctaves="1" seed="70"/><feColorMatrix type="matrix" values="0 0 0 0 0.157 0 0 0 0 0.157 0 0 0 0 0.816 2.5 0 0 0 -1.500"/><feGaussianBlur stdDeviation="1.0"/></filter><filter id="n6" x="0" y="0" width="1" height="1" color-interpolation-filters="sRGB"><feTurbulence type="fractalNoise" baseFrequency="0.035" numOctaves="2" seed="83"/><feColorMatrix type="matrix" values="0 0 0 0 0.0 0 0 0 0 0.0 0 0 0 0 0.0 1.4 0 0 0 -0.588"/><feGaussianBlur stdDeviation="1"/></filter><clipPath id="c02"><rect x="280.0" y="558.3" width="107.10" height="107.90"/></clipPath><filter id="n7" x="0" y="0" width="1" height="1" color-interpolation-filters="sRGB"><feTurbulence type="fractalNoise" baseFrequency="0.6" numOctaves="2" seed="96"/><feColorMatrix type="matrix" values="0 0 0 0 0.11 0 0 0 0 0.11 0 0 0 0 0.596 1.6 0 0 0 -0.832"/><feGaussianBlur stdDeviation="0.5"/></filter><filter id="n8" x="0" y="0" width="1" height="1" color-interpolation-filters="sRGB"><feTurbulence type="fractalNoise" baseFrequency="0.035" numOctaves="2" seed="109"/><feColorMatrix type="matrix" values="0 0 0 0 0.0 0 0 0 0 0.0 0 0 0 0 0.0 1.4 0 0 0 -0.588"/><feGaussianBlur stdDeviation="1"/></filter><clipPath id="c03"><rect x="397.1" y="558.3" width="107.70" height="107.90"/></clipPath><filter id="n9" x="0" y="0" width="1" height="1" color-interpolation-filters="sRGB"><feTurbulence type="fractalNoise" baseFrequency="0.6" numOctaves="2" seed="122"/><feColorMatrix type="matrix" values="0 0 0 0 0.141 0 0 0 0 0.141 0 0 0 0 0.722 1.8 0 0 0 -0.900"/><feGaussianBlur stdDeviation="0.5"/></filter><filter id="n10" x="0" y="0" width="1" height="1" color-interpolation-filters="sRGB"><feTurbulence type="fractalNoise" baseFrequency="0.035" numOctaves="2" seed="135"/><feColorMatrix type="matrix" values="0 0 0 0 0.0 0 0 0 0 0.0 0 0 0 0 0.0 1.4 0 0 0 -0.588"/><feGaussianBlur stdDeviation="1"/></filter><clipPath id="c10"><rect x="44.7" y="675.2" width="107.40" height="107.40"/></clipPath><pattern id="dpb" width="108" height="108" patternUnits="userSpaceOnUse"><g fill="#1e1eb4"><circle cx="48.9" cy="60.5" r="1.5" opacity="0.60"/><circle cx="20.5" cy="86.8" r="1.2" opacity="0.70"/><circle cx="32.8" cy="9.8" r="1.4" opacity="0.75"/><circle cx="104.2" cy="70.6" r="1.3" opacity="0.40"/><circle cx="6.8" cy="3.9" r="1.4" opacity="0.69"/><circle cx="47.6" cy="91.0" r="1.2" opacity="0.72"/><circle cx="9.2" cy="70.7" r="1.1" opacity="0.66"/><circle cx="76.4" cy="34.0" r="1.0" opacity="0.49"/><circle cx="43.2" cy="91.4" r="1.1" opacity="0.92"/><circle cx="23.1" cy="100.1" r="0.9" opacity="0.54"/><circle cx="7.9" cy="68.0" r="1.4" opacity="0.48"/><circle cx="1.6" cy="44.3" r="1.5" opacity="0.39"/><circle cx="109.6" cy="44.3" r="1.5" opacity="0.39"/><circle cx="6.5" cy="86.1" r="1.0" opacity="0.66"/><circle cx="-1.6" cy="83.1" r="1.2" opacity="0.55"/><circle cx="106.4" cy="83.1" r="1.2" opacity="0.55"/><circle cx="0.1" cy="93.3" r="1.5" opacity="0.69"/><circle cx="108.1" cy="93.3" r="1.5" opacity="0.69"/><circle cx="22.8" cy="42.6" r="1.4" opacity="0.72"/><circle cx="23.0" cy="27.9" r="1.4" opacity="0.51"/><circle cx="8.0" cy="22.5" r="1.3" opacity="0.31"/><circle cx="48.9" cy="103.6" r="1.2" opacity="0.67"/><circle cx="67.7" cy="33.6" r="1.0" opacity="0.70"/><circle cx="79.9" cy="101.6" r="1.0" opacity="0.92"/><circle cx="8.5" cy="5.1" r="1.0" opacity="0.63"/><circle cx="27.8" cy="89.0" r="1.3" opacity="0.49"/><circle cx="13.7" cy="51.8" r="1.3" opacity="0.70"/><circle cx="99.1" cy="22.0" r="0.9" opacity="0.47"/><circle cx="5.0" cy="30.5" r="1.2" opacity="0.93"/><circle cx="96.2" cy="105.9" r="1.3" opacity="0.75"/><circle cx="63.7" cy="99.7" r="1.2" opacity="0.53"/><circle cx="2.3" cy="68.7" r="1.2" opacity="0.77"/><circle cx="8.1" cy="59.0" r="1.3" opacity="0.89"/><circle cx="85.7" cy="98.8" r="1.1" opacity="0.75"/><circle cx="102.0" cy="3.3" r="1.2" opacity="0.31"/><circle cx="62.9" cy="65.8" r="0.9" opacity="0.72"/><circle cx="78.6" cy="42.0" r="1.3" opacity="0.68"/><circle cx="9.0" cy="81.0" r="0.9" opacity="0.69"/><circle cx="103.4" cy="12.2" r="1.4" opacity="0.73"/><circle cx="39.7" cy="15.5" r="1.3" opacity="0.64"/><circle cx="71.3" cy="47.7" r="1.4" opacity="0.51"/><circle cx="68.5" cy="86.8" r="1.4" opacity="0.43"/><circle cx="63.0" cy="34.2" r="1.0" opacity="0.62"/><circle cx="76.8" cy="102.6" r="1.1" opacity="0.41"/><circle cx="100.0" cy="89.7" r="1.1" opacity="0.64"/><circle cx="48.9" cy="8.1" r="0.9" opacity="0.87"/><circle cx="61.6" cy="33.4" r="1.4" opacity="0.31"/><circle cx="20.5" cy="83.1" r="1.1" opacity="0.81"/><circle cx="12.5" cy="11.8" r="1.2" opacity="0.72"/><circle cx="73.9" cy="21.5" r="1.2" opacity="0.42"/><circle cx="57.8" cy="3.9" r="1.0" opacity="0.81"/><circle cx="54.0" cy="-0.3" r="1.0" opacity="0.85"/><circle cx="54.0" cy="107.7" r="1.0" opacity="0.85"/><circle cx="9.4" cy="100.7" r="1.3" opacity="0.38"/><circle cx="95.8" cy="0.7" r="1.2" opacity="0.72"/><circle cx="95.8" cy="108.7" r="1.2" opacity="0.72"/><circle cx="50.1" cy="70.3" r="1.0" opacity="0.77"/><circle cx="99.8" cy="13.3" r="1.0" opacity="0.55"/><circle cx="58.0" cy="85.4" r="1.1" opacity="0.89"/><circle cx="54.5" cy="4.0" r="1.1" opacity="0.57"/><circle cx="23.6" cy="93.7" r="1.2" opacity="0.32"/><circle cx="85.1" cy="15.2" r="1.0" opacity="0.64"/><circle cx="74.5" cy="102.1" r="1.2" opacity="0.92"/><circle cx="47.5" cy="60.3" r="1.4" opacity="0.66"/><circle cx="91.1" cy="60.5" r="1.1" opacity="0.55"/><circle cx="22.5" cy="91.9" r="1.5" opacity="0.64"/><circle cx="44.4" cy="12.3" r="0.9" opacity="0.55"/><circle cx="55.7" cy="43.3" r="1.4" opacity="0.67"/><circle cx="18.0" cy="100.5" r="1.2" opacity="0.90"/><circle cx="29.1" cy="51.1" r="1.0" opacity="0.58"/><circle cx="56.7" cy="11.7" r="1.2" opacity="0.32"/><circle cx="84.2" cy="2.5" r="1.0" opacity="0.45"/><circle cx="78.1" cy="26.4" r="1.2" opacity="0.62"/><circle cx="67.3" cy="77.5" r="1.3" opacity="0.87"/><circle cx="44.6" cy="57.2" r="1.0" opacity="0.43"/><circle cx="23.6" cy="23.3" r="1.2" opacity="0.68"/><circle cx="87.5" cy="97.5" r="1.1" opacity="0.50"/><circle cx="84.1" cy="21.0" r="1.0" opacity="0.88"/><circle cx="28.0" cy="10.5" r="1.4" opacity="0.57"/><circle cx="21.7" cy="67.8" r="1.4" opacity="0.36"/><circle cx="98.4" cy="104.6" r="1.0" opacity="0.63"/><circle cx="-0.2" cy="90.0" r="1.4" opacity="0.61"/><circle cx="107.8" cy="90.0" r="1.4" opacity="0.61"/><circle cx="66.2" cy="97.8" r="1.2" opacity="0.42"/><circle cx="90.7" cy="-1.0" r="1.5" opacity="0.36"/><circle cx="90.7" cy="107.0" r="1.5" opacity="0.36"/><circle cx="49.9" cy="82.6" r="1.1" opacity="0.60"/><circle cx="22.7" cy="40.3" r="1.3" opacity="0.33"/><circle cx="49.0" cy="79.8" r="1.1" opacity="0.43"/><circle cx="85.6" cy="35.0" r="1.0" opacity="0.85"/><circle cx="101.5" cy="61.5" r="1.0" opacity="0.68"/><circle cx="30.2" cy="12.6" r="1.3" opacity="0.40"/><circle cx="96.8" cy="95.0" r="1.3" opacity="0.80"/><circle cx="22.3" cy="20.0" r="1.4" opacity="0.50"/><circle cx="-1.0" cy="97.5" r="0.9" opacity="0.48"/><circle cx="107.0" cy="97.5" r="0.9" opacity="0.48"/><circle cx="36.5" cy="71.3" r="1.2" opacity="0.65"/><circle cx="69.4" cy="75.7" r="1.4" opacity="0.94"/><circle cx="11.7" cy="25.6" r="1.2" opacity="0.63"/><circle cx="40.6" cy="10.6" r="1.1" opacity="0.89"/><circle cx="44.9" cy="56.2" r="1.4" opacity="0.36"/><circle cx="8.2" cy="64.5" r="1.4" opacity="0.33"/><circle cx="41.7" cy="104.8" r="1.4" opacity="0.65"/><circle cx="102.1" cy="45.4" r="1.2" opacity="0.69"/><circle cx="52.2" cy="29.1" r="1.5" opacity="0.73"/><circle cx="1.5" cy="26.5" r="0.9" opacity="0.40"/><circle cx="5.7" cy="34.0" r="1.1" opacity="0.68"/><circle cx="7.9" cy="97.8" r="1.2" opacity="0.61"/><circle cx="4.9" cy="10.6" r="1.4" opacity="0.89"/><circle cx="65.2" cy="12.4" r="1.3" opacity="0.60"/><circle cx="38.5" cy="16.7" r="1.1" opacity="0.39"/><circle cx="28.3" cy="62.9" r="1.2" opacity="0.81"/><circle cx="102.9" cy="79.3" r="1.0" opacity="0.37"/><circle cx="67.5" cy="38.8" r="1.1" opacity="0.75"/><circle cx="20.5" cy="30.1" r="1.0" opacity="0.92"/><circle cx="98.9" cy="94.9" r="0.9" opacity="0.34"/><circle cx="2.9" cy="4.1" r="1.0" opacity="0.48"/><circle cx="17.4" cy="25.4" r="1.5" opacity="0.61"/><circle cx="37.1" cy="80.4" r="1.4" opacity="0.35"/><circle cx="90.5" cy="83.0" r="1.2" opacity="0.79"/><circle cx="39.8" cy="70.6" r="1.5" opacity="0.51"/><circle cx="46.2" cy="39.9" r="1.0" opacity="0.87"/><circle cx="46.7" cy="61.3" r="1.4" opacity="0.60"/><circle cx="8.2" cy="23.0" r="1.3" opacity="0.35"/><circle cx="35.4" cy="95.2" r="1.0" opacity="0.73"/><circle cx="34.8" cy="47.6" r="1.3" opacity="0.89"/><circle cx="47.3" cy="86.7" r="1.1" opacity="0.51"/><circle cx="26.8" cy="39.1" r="1.1" opacity="0.54"/><circle cx="86.0" cy="79.8" r="1.1" opacity="0.55"/><circle cx="60.8" cy="19.1" r="1.4" opacity="0.87"/><circle cx="23.9" cy="6.2" r="1.0" opacity="0.49"/><circle cx="6.9" cy="59.1" r="1.4" opacity="0.35"/><circle cx="97.1" cy="9.1" r="1.3" opacity="0.39"/><circle cx="45.6" cy="76.9" r="1.2" opacity="0.89"/><circle cx="42.6" cy="36.5" r="1.5" opacity="0.74"/><circle cx="86.9" cy="7.8" r="1.3" opacity="0.33"/><circle cx="37.7" cy="0.4" r="1.1" opacity="0.36"/><circle cx="37.7" cy="108.4" r="1.1" opacity="0.36"/><circle cx="69.1" cy="56.6" r="1.3" opacity="0.82"/><circle cx="98.9" cy="26.5" r="1.0" opacity="0.71"/><circle cx="22.1" cy="45.9" r="1.1" opacity="0.93"/><circle cx="78.9" cy="32.8" r="1.0" opacity="0.90"/><circle cx="1.9" cy="52.0" r="1.4" opacity="0.50"/><circle cx="109.9" cy="52.0" r="1.4" opacity="0.50"/><circle cx="23.5" cy="25.4" r="1.3" opacity="0.69"/><circle cx="96.6" cy="43.5" r="1.4" opacity="0.91"/><circle cx="51.8" cy="28.1" r="1.4" opacity="0.89"/><circle cx="83.3" cy="10.0" r="1.4" opacity="0.56"/><circle cx="86.6" cy="41.6" r="1.2" opacity="0.64"/><circle cx="71.0" cy="25.7" r="0.9" opacity="0.61"/><circle cx="77.0" cy="65.5" r="1.0" opacity="0.40"/><circle cx="98.1" cy="87.5" r="1.0" opacity="0.78"/><circle cx="57.7" cy="16.3" r="1.4" opacity="0.30"/><circle cx="88.8" cy="8.9" r="1.1" opacity="0.77"/><circle cx="74.9" cy="8.9" r="1.3" opacity="0.65"/><circle cx="85.2" cy="45.0" r="1.5" opacity="0.36"/><circle cx="4.0" cy="44.6" r="1.2" opacity="0.92"/><circle cx="33.6" cy="8.2" r="1.1" opacity="0.60"/><circle cx="8.0" cy="15.2" r="1.3" opacity="0.74"/><circle cx="70.6" cy="1.3" r="1.1" opacity="0.76"/><circle cx="70.6" cy="109.3" r="1.1" opacity="0.76"/><circle cx="12.2" cy="83.4" r="1.4" opacity="0.85"/><circle cx="16.4" cy="67.8" r="1.5" opacity="0.79"/><circle cx="60.0" cy="9.4" r="1.0" opacity="0.54"/><circle cx="102.1" cy="60.8" r="1.3" opacity="0.52"/><circle cx="11.0" cy="67.1" r="1.0" opacity="0.71"/><circle cx="43.4" cy="90.4" r="1.3" opacity="0.36"/><circle cx="-1.4" cy="46.9" r="1.4" opacity="0.52"/><circle cx="106.6" cy="46.9" r="1.4" opacity="0.52"/><circle cx="15.0" cy="22.2" r="1.0" opacity="0.75"/><circle cx="67.3" cy="78.5" r="1.3" opacity="0.51"/><circle cx="71.3" cy="65.7" r="0.9" opacity="0.52"/><circle cx="47.7" cy="60.2" r="1.0" opacity="0.52"/><circle cx="66.0" cy="17.1" r="1.4" opacity="0.89"/><circle cx="66.1" cy="55.5" r="1.2" opacity="0.43"/><circle cx="61.3" cy="2.9" r="1.3" opacity="0.80"/><circle cx="62.3" cy="75.3" r="1.1" opacity="0.90"/><circle cx="95.4" cy="48.8" r="1.3" opacity="0.46"/><circle cx="60.6" cy="60.5" r="1.1" opacity="0.89"/><circle cx="65.0" cy="13.2" r="1.4" opacity="0.49"/><circle cx="81.9" cy="39.2" r="1.0" opacity="0.69"/><circle cx="3.5" cy="19.4" r="1.5" opacity="0.91"/><circle cx="81.7" cy="91.5" r="1.4" opacity="0.70"/><circle cx="17.1" cy="44.5" r="0.9" opacity="0.64"/><circle cx="18.8" cy="56.1" r="1.1" opacity="0.67"/><circle cx="84.7" cy="77.9" r="1.4" opacity="0.56"/><circle cx="50.8" cy="44.4" r="1.3" opacity="0.75"/><circle cx="52.5" cy="-0.6" r="1.4" opacity="0.86"/><circle cx="52.5" cy="107.4" r="1.4" opacity="0.86"/><circle cx="12.7" cy="12.4" r="1.5" opacity="0.51"/><circle cx="97.7" cy="34.6" r="0.9" opacity="0.77"/><circle cx="64.5" cy="81.2" r="1.1" opacity="0.69"/><circle cx="91.2" cy="26.2" r="1.4" opacity="0.93"/><circle cx="56.8" cy="25.8" r="1.1" opacity="0.56"/><circle cx="-0.1" cy="78.9" r="1.4" opacity="0.54"/><circle cx="107.9" cy="78.9" r="1.4" opacity="0.54"/><circle cx="87.0" cy="24.0" r="1.3" opacity="0.67"/><circle cx="56.1" cy="14.0" r="1.4" opacity="0.67"/><circle cx="26.3" cy="32.3" r="1.1" opacity="0.34"/><circle cx="42.9" cy="38.5" r="1.3" opacity="0.33"/><circle cx="33.2" cy="53.8" r="1.5" opacity="0.94"/><circle cx="21.9" cy="92.8" r="1.3" opacity="0.34"/><circle cx="97.1" cy="1.7" r="1.3" opacity="0.75"/><circle cx="97.1" cy="109.7" r="1.3" opacity="0.75"/><circle cx="68.3" cy="20.7" r="1.4" opacity="0.33"/><circle cx="103.8" cy="29.6" r="1.2" opacity="0.87"/><circle cx="44.8" cy="18.3" r="1.4" opacity="0.38"/><circle cx="19.5" cy="25.4" r="1.3" opacity="0.81"/><circle cx="56.6" cy="12.5" r="1.2" opacity="0.94"/><circle cx="72.0" cy="29.9" r="1.3" opacity="0.36"/><circle cx="99.1" cy="8.0" r="1.4" opacity="0.30"/><circle cx="27.1" cy="86.7" r="1.0" opacity="0.49"/><circle cx="19.4" cy="79.3" r="0.9" opacity="0.81"/><circle cx="67.2" cy="99.0" r="1.3" opacity="0.30"/><circle cx="19.4" cy="60.0" r="1.3" opacity="0.53"/><circle cx="55.8" cy="54.6" r="1.4" opacity="0.74"/><circle cx="18.8" cy="84.2" r="1.0" opacity="0.70"/><circle cx="59.2" cy="27.7" r="1.3" opacity="0.77"/><circle cx="23.9" cy="62.6" r="1.2" opacity="0.32"/><circle cx="61.8" cy="94.3" r="1.0" opacity="0.40"/><circle cx="87.1" cy="54.4" r="1.3" opacity="0.86"/><circle cx="98.0" cy="61.4" r="1.2" opacity="0.81"/><circle cx="5.8" cy="45.9" r="1.3" opacity="0.83"/><circle cx="82.7" cy="53.8" r="1.3" opacity="0.63"/><circle cx="17.3" cy="74.6" r="1.4" opacity="0.81"/><circle cx="50.4" cy="75.5" r="1.3" opacity="0.92"/><circle cx="-1.5" cy="15.6" r="1.2" opacity="0.78"/><circle cx="106.5" cy="15.6" r="1.2" opacity="0.78"/><circle cx="44.3" cy="56.8" r="1.0" opacity="0.66"/><circle cx="104.9" cy="73.4" r="1.3" opacity="0.93"/><circle cx="27.3" cy="59.6" r="1.0" opacity="0.60"/><circle cx="33.4" cy="102.2" r="1.5" opacity="0.44"/><circle cx="70.2" cy="6.3" r="1.1" opacity="0.75"/><circle cx="99.8" cy="19.1" r="1.4" opacity="0.91"/><circle cx="84.4" cy="23.3" r="1.1" opacity="0.42"/><circle cx="51.9" cy="43.2" r="1.3" opacity="0.79"/><circle cx="-0.7" cy="73.4" r="1.4" opacity="0.43"/><circle cx="107.3" cy="73.4" r="1.4" opacity="0.43"/><circle cx="5.1" cy="29.9" r="1.5" opacity="0.70"/><circle cx="55.3" cy="61.3" r="1.3" opacity="0.44"/><circle cx="16.6" cy="101.2" r="1.1" opacity="0.80"/><circle cx="2.2" cy="34.8" r="1.1" opacity="0.35"/><circle cx="27.7" cy="94.9" r="1.3" opacity="0.50"/><circle cx="4.4" cy="16.3" r="1.3" opacity="0.32"/><circle cx="51.7" cy="75.0" r="1.2" opacity="0.66"/><circle cx="71.9" cy="15.9" r="1.0" opacity="0.48"/><circle cx="14.8" cy="55.8" r="1.1" opacity="0.37"/><circle cx="23.3" cy="4.4" r="0.9" opacity="0.71"/><circle cx="71.3" cy="7.2" r="1.4" opacity="0.66"/><circle cx="103.2" cy="93.8" r="1.0" opacity="0.71"/><circle cx="12.9" cy="53.2" r="1.2" opacity="0.90"/><circle cx="23.9" cy="100.0" r="1.0" opacity="0.80"/><circle cx="56.2" cy="80.2" r="1.4" opacity="0.82"/><circle cx="75.7" cy="59.7" r="1.3" opacity="0.31"/><circle cx="98.2" cy="98.5" r="1.1" opacity="0.55"/><circle cx="50.6" cy="35.2" r="1.1" opacity="0.32"/><circle cx="61.1" cy="28.3" r="1.3" opacity="0.42"/><circle cx="36.9" cy="97.0" r="0.9" opacity="0.76"/><circle cx="67.8" cy="67.0" r="1.1" opacity="0.57"/><circle cx="95.0" cy="41.2" r="1.4" opacity="0.32"/><circle cx="29.5" cy="53.5" r="1.2" opacity="0.31"/><circle cx="24.7" cy="73.5" r="1.0" opacity="0.30"/><circle cx="0.4" cy="59.1" r="1.4" opacity="0.80"/><circle cx="108.4" cy="59.1" r="1.4" opacity="0.80"/><circle cx="95.5" cy="74.6" r="1.4" opacity="0.47"/><circle cx="33.8" cy="77.3" r="1.3" opacity="0.75"/><circle cx="17.2" cy="67.1" r="1.2" opacity="0.67"/><circle cx="39.6" cy="72.1" r="1.2" opacity="0.72"/><circle cx="99.1" cy="79.7" r="1.4" opacity="0.94"/><circle cx="12.2" cy="48.8" r="1.4" opacity="0.61"/><circle cx="93.9" cy="5.8" r="1.1" opacity="0.63"/><circle cx="27.3" cy="68.6" r="1.1" opacity="0.74"/><circle cx="91.0" cy="89.5" r="1.2" opacity="0.57"/><circle cx="79.9" cy="29.0" r="1.0" opacity="0.43"/><circle cx="25.0" cy="19.9" r="0.9" opacity="0.68"/><circle cx="28.9" cy="29.3" r="1.1" opacity="0.73"/><circle cx="-1.2" cy="5.3" r="1.3" opacity="0.38"/><circle cx="106.8" cy="5.3" r="1.3" opacity="0.38"/><circle cx="38.5" cy="58.2" r="1.4" opacity="0.56"/><circle cx="92.4" cy="18.5" r="0.9" opacity="0.59"/><circle cx="30.6" cy="42.3" r="1.3" opacity="0.80"/><circle cx="72.9" cy="23.4" r="1.1" opacity="0.86"/><circle cx="60.1" cy="96.8" r="1.4" opacity="0.58"/><circle cx="29.2" cy="61.4" r="1.1" opacity="0.56"/><circle cx="52.1" cy="39.5" r="1.1" opacity="0.33"/><circle cx="72.4" cy="0.4" r="1.1" opacity="0.39"/><circle cx="72.4" cy="108.4" r="1.1" opacity="0.39"/><circle cx="52.3" cy="44.8" r="1.4" opacity="0.56"/><circle cx="66.6" cy="89.3" r="1.1" opacity="0.42"/><circle cx="-0.6" cy="47.9" r="1.4" opacity="0.77"/><circle cx="107.4" cy="47.9" r="1.4" opacity="0.77"/><circle cx="102.0" cy="58.2" r="1.3" opacity="0.48"/><circle cx="33.5" cy="55.5" r="0.9" opacity="0.44"/><circle cx="82.8" cy="28.6" r="1.0" opacity="0.90"/><circle cx="86.7" cy="89.4" r="1.4" opacity="0.94"/><circle cx="43.4" cy="76.2" r="1.1" opacity="0.89"/><circle cx="15.2" cy="35.0" r="1.3" opacity="0.63"/><circle cx="67.7" cy="48.6" r="1.1" opacity="0.34"/><circle cx="10.2" cy="36.2" r="1.3" opacity="0.44"/><circle cx="32.9" cy="22.2" r="1.1" opacity="0.40"/><circle cx="46.5" cy="1.0" r="1.2" opacity="0.56"/><circle cx="46.5" cy="109.0" r="1.2" opacity="0.56"/><circle cx="90.7" cy="82.2" r="0.9" opacity="0.41"/><circle cx="11.7" cy="-1.3" r="1.2" opacity="0.93"/><circle cx="11.7" cy="106.7" r="1.2" opacity="0.93"/><circle cx="84.3" cy="95.9" r="1.4" opacity="0.35"/><circle cx="95.2" cy="84.0" r="1.2" opacity="0.31"/><circle cx="40.8" cy="69.5" r="1.0" opacity="0.70"/><circle cx="45.8" cy="104.7" r="1.5" opacity="0.38"/><circle cx="47.1" cy="50.5" r="1.4" opacity="0.63"/><circle cx="61.9" cy="55.6" r="0.9" opacity="0.71"/><circle cx="5.0" cy="5.9" r="1.1" opacity="0.65"/><circle cx="79.7" cy="33.8" r="1.3" opacity="0.94"/><circle cx="81.3" cy="96.9" r="1.0" opacity="0.42"/><circle cx="89.6" cy="86.1" r="1.2" opacity="0.95"/><circle cx="76.9" cy="27.1" r="1.4" opacity="0.60"/><circle cx="21.2" cy="30.2" r="1.3" opacity="0.35"/><circle cx="94.7" cy="7.8" r="1.2" opacity="0.34"/><circle cx="86.1" cy="16.4" r="1.1" opacity="0.37"/><circle cx="103.2" cy="23.7" r="1.1" opacity="0.57"/><circle cx="91.7" cy="66.6" r="1.4" opacity="0.35"/><circle cx="57.5" cy="34.2" r="1.5" opacity="0.93"/><circle cx="40.8" cy="88.2" r="1.3" opacity="0.85"/><circle cx="65.1" cy="75.0" r="1.0" opacity="0.38"/><circle cx="4.5" cy="30.0" r="1.1" opacity="0.52"/><circle cx="21.2" cy="-0.6" r="1.3" opacity="0.78"/><circle cx="21.2" cy="107.4" r="1.3" opacity="0.78"/><circle cx="83.1" cy="21.6" r="0.9" opacity="0.47"/><circle cx="44.2" cy="49.3" r="1.2" opacity="0.91"/><circle cx="25.4" cy="62.6" r="1.1" opacity="0.87"/><circle cx="73.1" cy="49.1" r="1.5" opacity="0.55"/><circle cx="23.8" cy="69.1" r="1.1" opacity="0.52"/><circle cx="103.1" cy="31.6" r="1.3" opacity="0.74"/><circle cx="40.5" cy="64.1" r="1.4" opacity="0.55"/><circle cx="88.6" cy="91.8" r="1.3" opacity="0.65"/><circle cx="9.5" cy="39.3" r="1.1" opacity="0.77"/><circle cx="-1.1" cy="88.1" r="1.4" opacity="0.73"/><circle cx="106.9" cy="88.1" r="1.4" opacity="0.73"/><circle cx="39.1" cy="50.2" r="1.1" opacity="0.74"/><circle cx="105.5" cy="-0.8" r="1.1" opacity="0.84"/><circle cx="105.5" cy="107.2" r="1.1" opacity="0.84"/><circle cx="11.9" cy="6.2" r="1.5" opacity="0.73"/><circle cx="55.9" cy="63.1" r="1.2" opacity="0.84"/><circle cx="80.1" cy="9.0" r="1.0" opacity="0.72"/><circle cx="71.6" cy="104.7" r="1.2" opacity="0.87"/><circle cx="1.7" cy="92.8" r="1.5" opacity="0.88"/><circle cx="109.7" cy="92.8" r="1.5" opacity="0.88"/><circle cx="44.6" cy="60.6" r="1.5" opacity="0.80"/><circle cx="60.9" cy="7.3" r="1.0" opacity="0.73"/><circle cx="31.7" cy="84.0" r="1.0" opacity="0.57"/><circle cx="63.6" cy="18.4" r="1.0" opacity="0.39"/><circle cx="16.7" cy="104.8" r="1.2" opacity="0.56"/><circle cx="44.6" cy="1.2" r="1.0" opacity="0.83"/><circle cx="44.6" cy="109.2" r="1.0" opacity="0.83"/><circle cx="16.9" cy="57.4" r="0.9" opacity="0.37"/><circle cx="69.4" cy="91.5" r="0.9" opacity="0.57"/><circle cx="58.0" cy="71.0" r="1.2" opacity="0.88"/><circle cx="102.2" cy="61.3" r="1.2" opacity="0.89"/><circle cx="28.9" cy="64.8" r="1.0" opacity="0.35"/><circle cx="38.7" cy="46.5" r="1.2" opacity="0.33"/><circle cx="17.6" cy="41.3" r="1.1" opacity="0.83"/><circle cx="3.5" cy="38.8" r="1.5" opacity="0.64"/><circle cx="40.3" cy="64.1" r="1.0" opacity="0.75"/><circle cx="39.5" cy="64.6" r="1.1" opacity="0.50"/><circle cx="6.1" cy="19.8" r="1.0" opacity="0.79"/><circle cx="23.0" cy="63.7" r="1.4" opacity="0.91"/><circle cx="43.4" cy="30.9" r="1.3" opacity="0.36"/><circle cx="35.4" cy="34.3" r="1.4" opacity="0.81"/><circle cx="-0.0" cy="53.0" r="1.1" opacity="0.35"/><circle cx="108.0" cy="53.0" r="1.1" opacity="0.35"/><circle cx="69.0" cy="2.4" r="1.5" opacity="0.79"/><circle cx="89.0" cy="51.8" r="1.1" opacity="0.71"/><circle cx="18.6" cy="9.0" r="1.3" opacity="0.39"/><circle cx="47.2" cy="12.7" r="1.1" opacity="0.78"/><circle cx="103.3" cy="38.4" r="1.4" opacity="0.76"/><circle cx="33.5" cy="103.0" r="1.2" opacity="0.90"/><circle cx="35.0" cy="15.1" r="1.5" opacity="0.40"/><circle cx="3.4" cy="46.6" r="1.1" opacity="0.74"/><circle cx="47.2" cy="86.3" r="1.2" opacity="0.61"/><circle cx="83.5" cy="35.0" r="0.9" opacity="0.84"/><circle cx="63.9" cy="56.2" r="1.1" opacity="0.67"/><circle cx="83.3" cy="16.0" r="1.3" opacity="0.56"/><circle cx="25.2" cy="28.2" r="1.3" opacity="0.67"/><circle cx="86.7" cy="27.5" r="1.0" opacity="0.44"/><circle cx="60.4" cy="105.4" r="1.4" opacity="0.60"/><circle cx="20.1" cy="67.0" r="1.3" opacity="0.63"/><circle cx="38.0" cy="17.2" r="1.2" opacity="0.62"/><circle cx="87.0" cy="10.5" r="1.4" opacity="0.44"/><circle cx="79.7" cy="37.2" r="1.0" opacity="0.42"/><circle cx="74.4" cy="39.3" r="1.5" opacity="0.77"/><circle cx="11.9" cy="38.7" r="1.0" opacity="0.88"/><circle cx="27.3" cy="14.2" r="1.2" opacity="0.48"/><circle cx="101.9" cy="16.4" r="1.1" opacity="0.83"/><circle cx="65.8" cy="58.7" r="1.3" opacity="0.65"/><circle cx="83.7" cy="28.1" r="0.9" opacity="0.91"/><circle cx="25.2" cy="48.9" r="1.1" opacity="0.77"/><circle cx="29.2" cy="78.5" r="1.4" opacity="0.35"/><circle cx="101.6" cy="71.0" r="0.9" opacity="0.89"/><circle cx="103.8" cy="21.1" r="1.1" opacity="0.53"/><circle cx="71.8" cy="15.2" r="1.1" opacity="0.39"/><circle cx="58.6" cy="47.2" r="1.3" opacity="0.36"/><circle cx="53.9" cy="21.3" r="1.3" opacity="0.57"/><circle cx="74.9" cy="3.2" r="1.5" opacity="0.88"/><circle cx="27.7" cy="23.7" r="1.1" opacity="0.40"/><circle cx="92.7" cy="101.0" r="0.9" opacity="0.62"/><circle cx="61.7" cy="97.0" r="1.1" opacity="0.41"/><circle cx="103.6" cy="3.4" r="1.0" opacity="0.86"/><circle cx="44.7" cy="16.1" r="1.0" opacity="0.69"/><circle cx="87.2" cy="0.1" r="0.9" opacity="0.82"/><circle cx="87.2" cy="108.1" r="0.9" opacity="0.82"/><circle cx="44.0" cy="36.2" r="1.1" opacity="0.31"/><circle cx="5.2" cy="39.9" r="1.3" opacity="0.64"/><circle cx="25.3" cy="95.2" r="1.0" opacity="0.40"/><circle cx="23.9" cy="99.2" r="1.0" opacity="0.74"/><circle cx="56.5" cy="27.5" r="1.4" opacity="0.42"/><circle cx="55.0" cy="79.9" r="1.0" opacity="0.32"/><circle cx="8.5" cy="82.5" r="1.0" opacity="0.44"/><circle cx="40.0" cy="38.5" r="1.4" opacity="0.94"/><circle cx="45.3" cy="72.4" r="1.0" opacity="0.95"/><circle cx="60.7" cy="101.9" r="0.9" opacity="0.93"/><circle cx="53.9" cy="41.1" r="0.9" opacity="0.89"/><circle cx="17.3" cy="53.2" r="1.0" opacity="0.51"/><circle cx="15.3" cy="77.2" r="1.5" opacity="0.43"/><circle cx="25.6" cy="91.7" r="1.4" opacity="0.73"/><circle cx="99.8" cy="15.8" r="1.4" opacity="0.94"/><circle cx="5.3" cy="33.2" r="1.0" opacity="0.38"/><circle cx="88.1" cy="47.8" r="1.4" opacity="0.47"/><circle cx="24.1" cy="8.3" r="1.1" opacity="0.79"/><circle cx="20.1" cy="104.2" r="1.3" opacity="0.37"/><circle cx="49.7" cy="65.1" r="1.4" opacity="0.60"/><circle cx="105.6" cy="2.6" r="1.4" opacity="0.56"/><circle cx="4.9" cy="43.3" r="1.4" opacity="0.92"/><circle cx="86.3" cy="53.9" r="1.3" opacity="0.60"/><circle cx="18.0" cy="105.0" r="1.1" opacity="0.85"/><circle cx="51.1" cy="67.4" r="1.1" opacity="0.53"/><circle cx="66.1" cy="46.4" r="1.3" opacity="0.47"/><circle cx="25.2" cy="101.1" r="1.4" opacity="0.87"/><circle cx="60.6" cy="99.3" r="1.4" opacity="0.91"/><circle cx="63.0" cy="17.0" r="1.5" opacity="0.48"/><circle cx="0.3" cy="51.8" r="1.0" opacity="0.78"/><circle cx="108.3" cy="51.8" r="1.0" opacity="0.78"/><circle cx="40.9" cy="0.2" r="1.2" opacity="0.47"/><circle cx="40.9" cy="108.2" r="1.2" opacity="0.47"/><circle cx="61.4" cy="6.1" r="1.1" opacity="0.72"/><circle cx="104.8" cy="30.3" r="1.2" opacity="0.36"/><circle cx="63.0" cy="43.0" r="0.9" opacity="0.43"/><circle cx="46.0" cy="60.0" r="1.5" opacity="0.62"/><circle cx="34.1" cy="71.9" r="1.2" opacity="0.90"/><circle cx="90.1" cy="86.8" r="1.5" opacity="0.90"/><circle cx="87.4" cy="86.5" r="1.0" opacity="0.83"/><circle cx="4.8" cy="87.3" r="1.5" opacity="0.73"/><circle cx="65.9" cy="98.4" r="1.5" opacity="0.72"/><circle cx="17.3" cy="28.0" r="1.1" opacity="0.55"/><circle cx="75.0" cy="81.9" r="1.5" opacity="0.70"/><circle cx="6.3" cy="93.7" r="1.4" opacity="0.81"/><circle cx="28.6" cy="53.3" r="1.5" opacity="0.45"/><circle cx="2.5" cy="17.4" r="1.4" opacity="0.45"/><circle cx="75.0" cy="55.7" r="1.1" opacity="0.48"/><circle cx="28.8" cy="83.3" r="1.0" opacity="0.51"/><circle cx="31.4" cy="102.8" r="1.3" opacity="0.93"/><circle cx="11.8" cy="23.5" r="1.5" opacity="0.34"/><circle cx="5.4" cy="81.7" r="1.2" opacity="0.49"/><circle cx="26.1" cy="35.4" r="0.9" opacity="0.33"/><circle cx="92.9" cy="92.5" r="1.2" opacity="0.44"/><circle cx="99.0" cy="8.5" r="1.2" opacity="0.61"/><circle cx="59.9" cy="69.2" r="1.5" opacity="0.89"/><circle cx="45.3" cy="1.3" r="1.0" opacity="0.42"/><circle cx="45.3" cy="109.3" r="1.0" opacity="0.42"/><circle cx="16.2" cy="59.5" r="1.1" opacity="0.77"/><circle cx="29.0" cy="86.1" r="0.9" opacity="0.34"/><circle cx="102.8" cy="20.9" r="1.1" opacity="0.89"/><circle cx="29.1" cy="75.0" r="1.2" opacity="0.38"/><circle cx="84.7" cy="26.4" r="1.4" opacity="0.46"/><circle cx="5.0" cy="76.7" r="1.0" opacity="0.34"/><circle cx="41.4" cy="80.2" r="1.3" opacity="0.70"/><circle cx="92.0" cy="52.6" r="1.3" opacity="0.51"/><circle cx="36.3" cy="2.4" r="1.4" opacity="0.77"/><circle cx="93.9" cy="20.7" r="0.9" opacity="0.36"/><circle cx="39.5" cy="47.2" r="1.2" opacity="0.51"/><circle cx="94.2" cy="67.2" r="1.0" opacity="0.78"/><circle cx="49.1" cy="40.6" r="1.4" opacity="0.93"/><circle cx="95.7" cy="8.1" r="1.0" opacity="0.45"/><circle cx="70.8" cy="72.2" r="1.2" opacity="0.72"/><circle cx="58.2" cy="105.8" r="1.1" opacity="0.76"/><circle cx="37.2" cy="46.1" r="1.0" opacity="0.55"/><circle cx="-0.7" cy="21.2" r="1.4" opacity="0.34"/><circle cx="107.3" cy="21.2" r="1.4" opacity="0.34"/><circle cx="90.4" cy="42.3" r="1.3" opacity="0.76"/><circle cx="62.5" cy="27.2" r="1.3" opacity="0.66"/><circle cx="14.7" cy="84.3" r="1.1" opacity="0.77"/><circle cx="81.7" cy="37.1" r="1.5" opacity="0.51"/><circle cx="71.6" cy="31.2" r="1.4" opacity="0.57"/><circle cx="5.2" cy="50.0" r="1.2" opacity="0.59"/><circle cx="38.1" cy="82.0" r="0.9" opacity="0.50"/><circle cx="39.3" cy="23.3" r="1.3" opacity="0.40"/><circle cx="2.6" cy="40.4" r="1.3" opacity="0.40"/><circle cx="27.0" cy="19.2" r="1.0" opacity="0.36"/><circle cx="28.6" cy="52.8" r="1.3" opacity="0.32"/><circle cx="22.8" cy="76.0" r="1.3" opacity="0.52"/><circle cx="91.3" cy="75.7" r="0.9" opacity="0.90"/><circle cx="65.8" cy="-1.4" r="1.0" opacity="0.44"/><circle cx="65.8" cy="106.6" r="1.0" opacity="0.44"/><circle cx="69.9" cy="99.5" r="1.4" opacity="0.88"/><circle cx="98.9" cy="73.1" r="1.0" opacity="0.53"/><circle cx="83.1" cy="34.4" r="1.4" opacity="0.61"/><circle cx="77.6" cy="5.1" r="1.3" opacity="0.34"/><circle cx="101.6" cy="2.6" r="1.1" opacity="0.69"/><circle cx="64.8" cy="93.1" r="0.9" opacity="0.37"/><circle cx="66.4" cy="59.8" r="0.9" opacity="0.40"/><circle cx="50.5" cy="31.2" r="1.2" opacity="0.53"/><circle cx="99.8" cy="32.4" r="0.9" opacity="0.54"/><circle cx="29.0" cy="12.2" r="1.4" opacity="0.60"/><circle cx="58.9" cy="95.1" r="1.4" opacity="0.82"/><circle cx="26.4" cy="88.2" r="1.1" opacity="0.47"/><circle cx="57.6" cy="85.2" r="1.4" opacity="0.45"/><circle cx="42.3" cy="70.0" r="0.9" opacity="0.60"/><circle cx="93.8" cy="90.3" r="1.3" opacity="0.75"/><circle cx="9.8" cy="54.1" r="1.0" opacity="0.68"/><circle cx="8.0" cy="26.7" r="1.5" opacity="0.65"/><circle cx="4.2" cy="31.3" r="1.1" opacity="0.92"/><circle cx="1.4" cy="16.0" r="1.1" opacity="0.72"/><circle cx="109.4" cy="16.0" r="1.1" opacity="0.72"/><circle cx="-1.1" cy="96.8" r="1.3" opacity="0.66"/><circle cx="106.9" cy="96.8" r="1.3" opacity="0.66"/><circle cx="7.4" cy="80.4" r="1.0" opacity="0.62"/><circle cx="58.7" cy="36.4" r="1.2" opacity="0.71"/><circle cx="77.9" cy="99.9" r="1.3" opacity="0.46"/><circle cx="103.4" cy="60.3" r="1.0" opacity="0.71"/><circle cx="81.9" cy="6.2" r="0.9" opacity="0.82"/><circle cx="68.5" cy="79.9" r="1.4" opacity="0.72"/><circle cx="97.3" cy="80.1" r="1.1" opacity="0.37"/><circle cx="4.7" cy="60.8" r="1.1" opacity="0.84"/><circle cx="20.0" cy="53.5" r="1.5" opacity="0.46"/><circle cx="72.8" cy="7.1" r="1.0" opacity="0.45"/><circle cx="75.7" cy="105.8" r="1.3" opacity="0.71"/><circle cx="53.3" cy="6.4" r="1.2" opacity="0.55"/><circle cx="12.6" cy="38.9" r="1.3" opacity="0.66"/><circle cx="69.5" cy="65.7" r="1.0" opacity="0.31"/><circle cx="61.0" cy="25.8" r="1.0" opacity="0.77"/><circle cx="14.0" cy="41.4" r="1.0" opacity="0.58"/><circle cx="82.2" cy="78.0" r="0.9" opacity="0.84"/><circle cx="66.4" cy="96.8" r="1.0" opacity="0.72"/><circle cx="15.0" cy="37.0" r="1.5" opacity="0.82"/><circle cx="31.0" cy="20.6" r="1.0" opacity="0.43"/><circle cx="7.6" cy="89.3" r="1.4" opacity="0.57"/><circle cx="10.4" cy="0.6" r="1.1" opacity="0.94"/><circle cx="10.4" cy="108.6" r="1.1" opacity="0.94"/><circle cx="101.0" cy="45.7" r="1.4" opacity="0.85"/><circle cx="101.5" cy="14.3" r="1.1" opacity="0.76"/><circle cx="98.1" cy="4.4" r="1.1" opacity="0.49"/><circle cx="75.5" cy="99.9" r="1.0" opacity="0.56"/><circle cx="12.2" cy="105.8" r="1.3" opacity="0.86"/><circle cx="73.1" cy="62.3" r="1.4" opacity="0.88"/><circle cx="90.6" cy="70.8" r="1.5" opacity="0.39"/><circle cx="9.7" cy="83.9" r="1.3" opacity="0.58"/><circle cx="34.9" cy="65.5" r="1.0" opacity="0.59"/><circle cx="28.4" cy="39.5" r="1.3" opacity="0.42"/><circle cx="41.1" cy="65.6" r="1.3" opacity="0.37"/><circle cx="35.4" cy="29.7" r="1.5" opacity="0.71"/><circle cx="86.5" cy="19.2" r="1.2" opacity="0.61"/><circle cx="34.3" cy="42.9" r="1.1" opacity="0.78"/><circle cx="66.8" cy="98.8" r="1.3" opacity="0.92"/><circle cx="17.5" cy="3.8" r="1.1" opacity="0.42"/><circle cx="72.7" cy="38.7" r="1.3" opacity="0.54"/><circle cx="49.6" cy="89.0" r="1.3" opacity="0.66"/><circle cx="101.6" cy="6.2" r="1.3" opacity="0.61"/><circle cx="17.5" cy="6.9" r="1.2" opacity="0.38"/><circle cx="99.2" cy="40.3" r="1.3" opacity="0.54"/><circle cx="62.9" cy="93.2" r="1.3" opacity="0.93"/><circle cx="68.3" cy="50.6" r="0.9" opacity="0.61"/><circle cx="98.3" cy="16.9" r="1.1" opacity="0.65"/><circle cx="73.7" cy="-1.0" r="1.4" opacity="0.49"/><circle cx="73.7" cy="107.0" r="1.4" opacity="0.49"/><circle cx="45.4" cy="30.2" r="1.5" opacity="0.75"/><circle cx="51.8" cy="38.6" r="1.5" opacity="0.33"/><circle cx="103.9" cy="102.9" r="1.2" opacity="0.67"/><circle cx="82.5" cy="48.0" r="1.1" opacity="0.54"/><circle cx="78.7" cy="0.4" r="1.0" opacity="0.39"/><circle cx="78.7" cy="108.4" r="1.0" opacity="0.39"/><circle cx="96.2" cy="80.9" r="0.9" opacity="0.74"/><circle cx="19.8" cy="106.0" r="1.1" opacity="0.33"/><circle cx="84.3" cy="11.8" r="0.9" opacity="0.72"/><circle cx="89.5" cy="98.4" r="1.0" opacity="0.62"/><circle cx="22.5" cy="69.5" r="0.9" opacity="0.90"/><circle cx="19.5" cy="6.5" r="1.2" opacity="0.90"/><circle cx="25.8" cy="91.2" r="1.2" opacity="0.66"/><circle cx="59.6" cy="34.3" r="1.0" opacity="0.78"/><circle cx="72.8" cy="93.8" r="1.5" opacity="0.45"/><circle cx="10.3" cy="18.3" r="1.4" opacity="0.62"/><circle cx="21.4" cy="8.3" r="1.0" opacity="0.69"/><circle cx="75.9" cy="64.6" r="1.3" opacity="0.80"/><circle cx="43.9" cy="70.0" r="1.1" opacity="0.57"/><circle cx="27.0" cy="50.3" r="1.2" opacity="0.47"/><circle cx="91.1" cy="41.7" r="1.3" opacity="0.46"/><circle cx="104.7" cy="18.8" r="1.4" opacity="0.68"/><circle cx="15.4" cy="68.9" r="1.4" opacity="0.35"/><circle cx="24.4" cy="94.8" r="1.1" opacity="0.61"/><circle cx="100.7" cy="87.1" r="1.1" opacity="0.61"/><circle cx="86.7" cy="35.2" r="1.0" opacity="0.38"/><circle cx="59.8" cy="26.2" r="1.2" opacity="0.62"/><circle cx="45.5" cy="38.2" r="1.5" opacity="0.53"/><circle cx="62.0" cy="13.6" r="1.4" opacity="0.36"/><circle cx="54.4" cy="19.3" r="1.3" opacity="0.49"/><circle cx="96.9" cy="103.3" r="1.4" opacity="0.72"/><circle cx="72.3" cy="17.1" r="1.2" opacity="0.57"/><circle cx="65.7" cy="88.7" r="1.4" opacity="0.59"/><circle cx="93.1" cy="103.9" r="1.4" opacity="0.37"/><circle cx="61.0" cy="30.2" r="1.4" opacity="0.52"/><circle cx="0.1" cy="59.2" r="1.0" opacity="0.87"/><circle cx="108.1" cy="59.2" r="1.0" opacity="0.87"/><circle cx="70.0" cy="72.1" r="1.4" opacity="0.42"/><circle cx="22.0" cy="49.9" r="1.1" opacity="0.74"/><circle cx="64.4" cy="61.2" r="1.2" opacity="0.62"/><circle cx="90.2" cy="41.0" r="1.0" opacity="0.84"/><circle cx="75.9" cy="94.2" r="1.2" opacity="0.68"/><circle cx="17.8" cy="25.0" r="1.4" opacity="0.89"/><circle cx="98.1" cy="9.8" r="1.1" opacity="0.85"/><circle cx="47.2" cy="49.3" r="1.2" opacity="0.54"/><circle cx="102.7" cy="94.6" r="1.5" opacity="0.75"/><circle cx="41.8" cy="38.8" r="0.9" opacity="0.35"/><circle cx="90.5" cy="3.3" r="1.1" opacity="0.54"/><circle cx="6.4" cy="74.1" r="1.3" opacity="0.52"/><circle cx="1.6" cy="82.7" r="1.0" opacity="0.77"/><circle cx="21.6" cy="40.9" r="1.2" opacity="0.36"/><circle cx="48.8" cy="38.4" r="1.2" opacity="0.82"/><circle cx="99.4" cy="64.9" r="1.5" opacity="0.91"/><circle cx="21.7" cy="86.9" r="1.0" opacity="0.50"/><circle cx="73.5" cy="22.0" r="1.4" opacity="0.86"/><circle cx="31.9" cy="98.6" r="1.4" opacity="0.56"/><circle cx="7.7" cy="26.5" r="1.3" opacity="0.52"/><circle cx="83.7" cy="33.2" r="1.1" opacity="0.49"/><circle cx="31.4" cy="1.8" r="1.3" opacity="0.52"/><circle cx="10.0" cy="67.2" r="0.9" opacity="0.79"/><circle cx="3.2" cy="51.9" r="0.9" opacity="0.87"/><circle cx="57.9" cy="17.6" r="1.2" opacity="0.56"/><circle cx="53.3" cy="37.1" r="1.4" opacity="0.63"/><circle cx="96.5" cy="78.4" r="1.3" opacity="0.60"/><circle cx="90.3" cy="55.7" r="1.5" opacity="0.90"/><circle cx="58.0" cy="60.3" r="1.4" opacity="0.69"/><circle cx="102.4" cy="17.8" r="1.2" opacity="0.39"/><circle cx="12.1" cy="68.5" r="1.4" opacity="0.58"/><circle cx="94.9" cy="83.9" r="1.1" opacity="0.35"/><circle cx="63.6" cy="75.7" r="0.9" opacity="0.59"/><circle cx="11.3" cy="95.6" r="1.5" opacity="0.38"/><circle cx="59.7" cy="54.1" r="1.0" opacity="0.55"/><circle cx="47.0" cy="64.4" r="1.5" opacity="0.91"/><circle cx="24.7" cy="26.4" r="1.2" opacity="0.72"/><circle cx="70.9" cy="31.8" r="1.3" opacity="0.38"/><circle cx="71.1" cy="10.8" r="1.0" opacity="0.35"/><circle cx="11.1" cy="104.4" r="1.5" opacity="0.77"/><circle cx="82.9" cy="55.0" r="1.1" opacity="0.64"/><circle cx="80.1" cy="14.7" r="1.1" opacity="0.92"/><circle cx="102.6" cy="99.9" r="1.4" opacity="0.85"/><circle cx="73.5" cy="95.3" r="1.5" opacity="0.78"/><circle cx="6.6" cy="78.9" r="1.2" opacity="0.88"/><circle cx="92.3" cy="21.5" r="1.1" opacity="0.58"/><circle cx="82.2" cy="40.9" r="1.3" opacity="0.56"/><circle cx="48.7" cy="73.5" r="1.2" opacity="0.37"/><circle cx="99.3" cy="90.2" r="1.0" opacity="0.93"/><circle cx="98.6" cy="73.1" r="0.9" opacity="0.86"/><circle cx="66.3" cy="38.3" r="1.1" opacity="0.35"/><circle cx="91.7" cy="59.4" r="0.9" opacity="0.60"/><circle cx="103.6" cy="87.8" r="1.5" opacity="0.60"/><circle cx="65.0" cy="18.4" r="1.4" opacity="0.54"/><circle cx="89.7" cy="67.5" r="1.5" opacity="0.69"/><circle cx="-1.0" cy="49.9" r="1.4" opacity="0.56"/><circle cx="107.0" cy="49.9" r="1.4" opacity="0.56"/><circle cx="99.1" cy="6.5" r="1.2" opacity="0.51"/><circle cx="62.2" cy="80.4" r="1.3" opacity="0.36"/><circle cx="86.6" cy="36.7" r="1.5" opacity="0.43"/><circle cx="35.0" cy="56.5" r="1.1" opacity="0.75"/><circle cx="66.0" cy="75.3" r="1.1" opacity="0.57"/><circle cx="-0.5" cy="14.4" r="1.1" opacity="0.55"/><circle cx="107.5" cy="14.4" r="1.1" opacity="0.55"/><circle cx="80.8" cy="90.7" r="1.5" opacity="0.80"/><circle cx="11.7" cy="47.3" r="1.2" opacity="0.55"/><circle cx="6.4" cy="47.6" r="1.4" opacity="0.78"/><circle cx="23.6" cy="32.7" r="1.3" opacity="0.51"/><circle cx="-1.0" cy="96.0" r="1.5" opacity="0.46"/><circle cx="107.0" cy="96.0" r="1.5" opacity="0.46"/><circle cx="64.8" cy="87.5" r="1.2" opacity="0.63"/><circle cx="77.5" cy="56.9" r="0.9" opacity="0.82"/><circle cx="92.6" cy="53.5" r="1.2" opacity="0.47"/><circle cx="99.9" cy="73.2" r="1.0" opacity="0.77"/><circle cx="77.7" cy="90.8" r="1.0" opacity="0.64"/><circle cx="74.3" cy="31.7" r="1.0" opacity="0.56"/><circle cx="10.8" cy="9.8" r="1.5" opacity="0.80"/><circle cx="17.6" cy="5.3" r="1.3" opacity="0.70"/><circle cx="29.3" cy="9.1" r="0.9" opacity="0.85"/><circle cx="45.4" cy="39.7" r="1.5" opacity="0.50"/><circle cx="46.5" cy="50.0" r="1.1" opacity="0.70"/><circle cx="75.8" cy="25.1" r="1.3" opacity="0.84"/><circle cx="31.9" cy="54.3" r="1.2" opacity="0.37"/><circle cx="5.5" cy="39.8" r="1.4" opacity="0.34"/><circle cx="0.3" cy="99.1" r="1.4" opacity="0.86"/><circle cx="108.3" cy="99.1" r="1.4" opacity="0.86"/><circle cx="25.8" cy="92.1" r="1.0" opacity="0.53"/><circle cx="47.7" cy="87.3" r="1.1" opacity="0.83"/><circle cx="89.0" cy="28.6" r="1.2" opacity="0.54"/><circle cx="102.4" cy="75.0" r="1.0" opacity="0.43"/><circle cx="24.1" cy="-1.3" r="1.2" opacity="0.52"/><circle cx="24.1" cy="106.7" r="1.2" opacity="0.52"/><circle cx="13.0" cy="101.0" r="1.4" opacity="0.87"/><circle cx="18.4" cy="78.4" r="1.5" opacity="0.44"/><circle cx="50.8" cy="37.4" r="1.4" opacity="0.84"/><circle cx="1.6" cy="30.6" r="0.9" opacity="0.47"/><circle cx="14.8" cy="32.8" r="1.0" opacity="0.62"/><circle cx="73.6" cy="87.3" r="1.2" opacity="0.89"/><circle cx="34.2" cy="21.8" r="1.2" opacity="0.60"/><circle cx="31.3" cy="46.6" r="1.4" opacity="0.93"/><circle cx="32.7" cy="59.6" r="1.5" opacity="0.88"/><circle cx="15.7" cy="61.5" r="0.9" opacity="0.60"/><circle cx="51.8" cy="22.5" r="1.0" opacity="0.55"/><circle cx="102.3" cy="13.2" r="1.3" opacity="0.84"/><circle cx="14.8" cy="54.9" r="1.3" opacity="0.37"/><circle cx="65.9" cy="93.6" r="1.2" opacity="0.40"/><circle cx="63.2" cy="69.8" r="1.3" opacity="0.33"/><circle cx="10.4" cy="80.9" r="1.0" opacity="0.34"/><circle cx="60.4" cy="44.2" r="1.5" opacity="0.43"/><circle cx="44.5" cy="10.0" r="1.4" opacity="0.56"/><circle cx="62.2" cy="26.6" r="1.3" opacity="0.89"/><circle cx="78.6" cy="60.7" r="1.1" opacity="0.43"/><circle cx="22.8" cy="59.4" r="1.0" opacity="0.66"/><circle cx="4.0" cy="79.3" r="1.4" opacity="0.68"/><circle cx="10.8" cy="83.9" r="1.0" opacity="0.79"/><circle cx="95.6" cy="0.1" r="1.3" opacity="0.77"/><circle cx="95.6" cy="108.1" r="1.3" opacity="0.77"/><circle cx="101.0" cy="67.2" r="1.2" opacity="0.51"/><circle cx="30.7" cy="-1.1" r="1.1" opacity="0.41"/><circle cx="30.7" cy="106.9" r="1.1" opacity="0.41"/><circle cx="3.0" cy="39.6" r="1.2" opacity="0.85"/><circle cx="96.2" cy="88.6" r="0.9" opacity="0.41"/><circle cx="25.5" cy="13.3" r="1.2" opacity="0.88"/><circle cx="2.3" cy="42.8" r="1.5" opacity="0.61"/><circle cx="9.2" cy="24.6" r="1.1" opacity="0.43"/><circle cx="19.3" cy="77.4" r="1.3" opacity="0.74"/><circle cx="50.9" cy="15.2" r="1.2" opacity="0.64"/><circle cx="79.2" cy="63.2" r="1.5" opacity="0.70"/><circle cx="31.1" cy="40.2" r="1.2" opacity="0.78"/><circle cx="38.5" cy="15.8" r="1.2" opacity="0.64"/><circle cx="41.5" cy="9.4" r="0.9" opacity="0.68"/><circle cx="24.8" cy="82.8" r="1.5" opacity="0.62"/><circle cx="59.2" cy="72.0" r="1.2" opacity="0.36"/><circle cx="46.2" cy="104.8" r="1.2" opacity="0.41"/><circle cx="32.2" cy="2.9" r="1.0" opacity="0.83"/><circle cx="55.8" cy="-0.3" r="1.0" opacity="0.86"/><circle cx="55.8" cy="107.7" r="1.0" opacity="0.86"/><circle cx="98.1" cy="48.4" r="1.3" opacity="0.60"/><circle cx="39.9" cy="30.9" r="1.4" opacity="0.70"/><circle cx="0.4" cy="61.0" r="1.2" opacity="0.42"/><circle cx="108.4" cy="61.0" r="1.2" opacity="0.42"/><circle cx="29.3" cy="59.1" r="1.4" opacity="0.33"/><circle cx="37.2" cy="53.3" r="1.2" opacity="0.44"/><circle cx="65.0" cy="29.2" r="1.3" opacity="0.61"/><circle cx="25.6" cy="105.5" r="1.2" opacity="0.52"/><circle cx="53.7" cy="-0.8" r="1.3" opacity="0.70"/><circle cx="53.7" cy="107.2" r="1.3" opacity="0.70"/><circle cx="42.5" cy="45.7" r="1.0" opacity="0.89"/><circle cx="102.6" cy="80.2" r="1.0" opacity="0.94"/><circle cx="94.4" cy="98.0" r="1.5" opacity="0.81"/><circle cx="91.1" cy="2.1" r="1.0" opacity="0.31"/><circle cx="51.2" cy="88.7" r="1.3" opacity="0.77"/><circle cx="98.3" cy="72.7" r="1.0" opacity="0.54"/><circle cx="44.8" cy="46.2" r="1.0" opacity="0.40"/><circle cx="29.5" cy="63.5" r="1.0" opacity="0.46"/><circle cx="42.9" cy="11.0" r="0.9" opacity="0.91"/><circle cx="36.0" cy="-0.4" r="1.2" opacity="0.63"/><circle cx="36.0" cy="107.6" r="1.2" opacity="0.63"/><circle cx="80.2" cy="-1.0" r="1.4" opacity="0.37"/><circle cx="80.2" cy="107.0" r="1.4" opacity="0.37"/><circle cx="21.2" cy="28.4" r="1.4" opacity="0.59"/><circle cx="93.2" cy="59.9" r="1.0" opacity="0.77"/><circle cx="84.8" cy="26.8" r="1.4" opacity="0.37"/><circle cx="24.1" cy="67.4" r="1.1" opacity="0.31"/><circle cx="48.9" cy="83.0" r="1.2" opacity="0.56"/><circle cx="83.4" cy="35.2" r="1.1" opacity="0.34"/><circle cx="23.6" cy="38.2" r="1.4" opacity="0.50"/><circle cx="79.1" cy="27.4" r="1.1" opacity="0.46"/><circle cx="77.2" cy="58.5" r="1.2" opacity="0.54"/><circle cx="53.1" cy="27.3" r="1.1" opacity="0.92"/><circle cx="16.8" cy="68.0" r="1.0" opacity="0.44"/><circle cx="14.7" cy="60.2" r="1.1" opacity="0.77"/><circle cx="71.6" cy="4.9" r="1.4" opacity="0.34"/><circle cx="82.9" cy="25.3" r="1.2" opacity="0.82"/><circle cx="56.4" cy="24.2" r="1.4" opacity="0.49"/><circle cx="49.7" cy="68.7" r="1.2" opacity="0.72"/><circle cx="39.5" cy="21.6" r="1.0" opacity="0.86"/><circle cx="57.0" cy="63.3" r="0.9" opacity="0.49"/><circle cx="59.3" cy="65.6" r="1.2" opacity="0.46"/><circle cx="0.7" cy="14.9" r="1.2" opacity="0.63"/><circle cx="108.7" cy="14.9" r="1.2" opacity="0.63"/><circle cx="68.3" cy="81.6" r="1.4" opacity="0.83"/><circle cx="48.5" cy="48.2" r="1.3" opacity="0.50"/><circle cx="25.1" cy="86.7" r="1.2" opacity="0.48"/><circle cx="51.4" cy="102.7" r="1.0" opacity="0.89"/><circle cx="30.2" cy="2.1" r="1.4" opacity="0.34"/><circle cx="72.8" cy="89.0" r="1.4" opacity="0.42"/><circle cx="81.6" cy="24.3" r="1.1" opacity="0.78"/><circle cx="48.8" cy="82.8" r="1.5" opacity="0.69"/><circle cx="45.3" cy="101.2" r="1.3" opacity="0.67"/><circle cx="56.3" cy="80.9" r="0.9" opacity="0.86"/><circle cx="5.0" cy="102.0" r="1.2" opacity="0.43"/><circle cx="14.6" cy="64.6" r="1.1" opacity="0.68"/><circle cx="38.0" cy="62.7" r="1.0" opacity="0.46"/><circle cx="69.1" cy="49.1" r="1.3" opacity="0.83"/><circle cx="71.1" cy="30.9" r="1.4" opacity="0.53"/><circle cx="21.1" cy="46.8" r="1.1" opacity="0.36"/><circle cx="41.6" cy="40.9" r="1.1" opacity="0.54"/><circle cx="71.3" cy="31.3" r="1.4" opacity="0.47"/><circle cx="95.0" cy="76.2" r="1.4" opacity="0.89"/><circle cx="18.2" cy="49.5" r="0.9" opacity="0.67"/><circle cx="0.8" cy="81.5" r="0.9" opacity="0.57"/><circle cx="108.8" cy="81.5" r="0.9" opacity="0.57"/><circle cx="68.3" cy="15.9" r="1.3" opacity="0.45"/><circle cx="62.3" cy="80.6" r="1.0" opacity="0.64"/><circle cx="37.6" cy="26.2" r="1.2" opacity="0.74"/><circle cx="89.0" cy="68.4" r="1.4" opacity="0.83"/><circle cx="67.2" cy="67.8" r="1.1" opacity="0.45"/><circle cx="12.3" cy="2.8" r="1.2" opacity="0.79"/><circle cx="99.6" cy="52.4" r="1.2" opacity="0.74"/><circle cx="84.8" cy="54.7" r="1.2" opacity="0.54"/><circle cx="42.1" cy="89.3" r="1.0" opacity="0.58"/><circle cx="76.8" cy="49.2" r="1.4" opacity="0.47"/><circle cx="79.1" cy="64.9" r="1.2" opacity="0.41"/><circle cx="-0.1" cy="57.5" r="0.9" opacity="0.67"/><circle cx="107.9" cy="57.5" r="0.9" opacity="0.67"/><circle cx="51.7" cy="30.9" r="1.4" opacity="0.64"/><circle cx="50.5" cy="39.5" r="1.3" opacity="0.55"/><circle cx="58.8" cy="101.6" r="1.2" opacity="0.74"/><circle cx="85.9" cy="67.8" r="1.0" opacity="0.89"/><circle cx="22.5" cy="52.9" r="1.2" opacity="0.64"/><circle cx="80.0" cy="67.3" r="1.5" opacity="0.93"/><circle cx="79.3" cy="83.2" r="1.5" opacity="0.55"/><circle cx="2.8" cy="50.6" r="1.1" opacity="0.66"/><circle cx="54.7" cy="74.7" r="0.9" opacity="0.73"/><circle cx="84.8" cy="31.1" r="0.9" opacity="0.88"/><circle cx="55.7" cy="4.2" r="1.3" opacity="0.84"/><circle cx="51.1" cy="11.7" r="1.4" opacity="0.41"/><circle cx="28.8" cy="20.1" r="1.0" opacity="0.33"/><circle cx="22.8" cy="78.9" r="1.3" opacity="0.90"/><circle cx="70.1" cy="50.3" r="1.3" opacity="0.78"/><circle cx="30.6" cy="9.2" r="1.3" opacity="0.34"/><circle cx="18.9" cy="86.2" r="1.3" opacity="0.71"/><circle cx="78.7" cy="61.0" r="1.3" opacity="0.55"/><circle cx="68.0" cy="24.8" r="0.9" opacity="0.84"/><circle cx="86.9" cy="42.2" r="1.2" opacity="0.84"/><circle cx="79.8" cy="40.5" r="1.0" opacity="0.58"/><circle cx="92.2" cy="104.8" r="1.4" opacity="0.67"/><circle cx="61.0" cy="91.5" r="1.2" opacity="0.60"/><circle cx="48.2" cy="68.8" r="1.4" opacity="0.68"/><circle cx="47.4" cy="53.5" r="1.4" opacity="0.80"/><circle cx="66.9" cy="103.7" r="1.2" opacity="0.77"/><circle cx="-1.0" cy="76.7" r="1.5" opacity="0.85"/><circle cx="107.0" cy="76.7" r="1.5" opacity="0.85"/><circle cx="59.6" cy="34.6" r="0.9" opacity="0.81"/><circle cx="84.9" cy="6.8" r="1.1" opacity="0.60"/><circle cx="68.1" cy="38.8" r="1.2" opacity="0.44"/><circle cx="65.3" cy="58.6" r="0.9" opacity="0.66"/><circle cx="13.9" cy="60.1" r="1.2" opacity="0.47"/><circle cx="106.0" cy="20.8" r="1.2" opacity="0.54"/><circle cx="54.6" cy="40.7" r="1.3" opacity="0.70"/><circle cx="85.6" cy="38.7" r="1.1" opacity="0.71"/><circle cx="99.2" cy="72.7" r="1.5" opacity="0.79"/><circle cx="53.2" cy="40.4" r="1.5" opacity="0.46"/><circle cx="32.2" cy="0.9" r="1.5" opacity="0.55"/><circle cx="32.2" cy="108.9" r="1.5" opacity="0.55"/><circle cx="91.5" cy="97.4" r="1.1" opacity="0.34"/><circle cx="10.3" cy="66.7" r="1.3" opacity="0.78"/><circle cx="101.7" cy="98.9" r="1.2" opacity="0.36"/><circle cx="7.8" cy="23.2" r="1.2" opacity="0.86"/><circle cx="8.8" cy="46.7" r="1.1" opacity="0.92"/><circle cx="12.9" cy="11.1" r="1.5" opacity="0.44"/><circle cx="23.4" cy="16.0" r="1.4" opacity="0.66"/><circle cx="64.9" cy="88.4" r="0.9" opacity="0.58"/><circle cx="67.1" cy="21.3" r="1.2" opacity="0.31"/><circle cx="34.1" cy="43.0" r="1.3" opacity="0.68"/><circle cx="42.4" cy="98.2" r="1.2" opacity="0.69"/><circle cx="31.4" cy="67.8" r="1.0" opacity="0.89"/></g></pattern><pattern id="q1" href="#dpb" patternTransform="translate(81.7 736.2)"/><pattern id="dpr" width="108" height="108" patternUnits="userSpaceOnUse"><g fill="#d02838"><circle cx="102.6" cy="68.8" r="0.9" opacity="0.81"/><circle cx="27.5" cy="68.0" r="1.1" opacity="0.50"/><circle cx="3.0" cy="75.0" r="1.2" opacity="0.90"/><circle cx="85.3" cy="73.5" r="1.1" opacity="0.75"/><circle cx="43.2" cy="52.4" r="0.9" opacity="0.64"/><circle cx="94.7" cy="103.6" r="0.9" opacity="0.98"/><circle cx="45.7" cy="46.1" r="0.9" opacity="0.88"/><circle cx="1.9" cy="48.4" r="1.0" opacity="0.62"/><circle cx="54.0" cy="86.6" r="1.0" opacity="0.88"/><circle cx="15.3" cy="13.9" r="1.2" opacity="0.91"/><circle cx="77.6" cy="27.2" r="1.0" opacity="0.90"/><circle cx="78.4" cy="74.8" r="1.2" opacity="0.85"/><circle cx="87.6" cy="100.0" r="1.0" opacity="0.68"/><circle cx="20.5" cy="54.1" r="1.0" opacity="0.86"/><circle cx="34.5" cy="19.1" r="1.2" opacity="0.75"/><circle cx="12.0" cy="74.5" r="1.3" opacity="0.55"/><circle cx="89.4" cy="17.5" r="1.1" opacity="0.63"/><circle cx="28.1" cy="91.9" r="1.0" opacity="0.97"/><circle cx="4.0" cy="40.7" r="1.1" opacity="0.89"/><circle cx="78.0" cy="63.4" r="1.2" opacity="0.96"/><circle cx="31.5" cy="66.4" r="1.2" opacity="0.65"/><circle cx="85.5" cy="105.5" r="0.8" opacity="0.81"/><circle cx="78.4" cy="30.3" r="0.9" opacity="0.59"/><circle cx="66.0" cy="39.9" r="0.8" opacity="0.69"/><circle cx="13.3" cy="55.5" r="1.3" opacity="0.68"/><circle cx="2.6" cy="94.3" r="1.2" opacity="0.87"/><circle cx="98.3" cy="54.8" r="1.1" opacity="0.90"/><circle cx="58.9" cy="-0.6" r="0.8" opacity="0.62"/><circle cx="58.9" cy="107.4" r="0.8" opacity="0.62"/><circle cx="5.6" cy="21.5" r="1.1" opacity="0.86"/><circle cx="6.6" cy="19.7" r="1.3" opacity="0.79"/><circle cx="69.7" cy="103.0" r="1.1" opacity="0.96"/><circle cx="75.5" cy="20.3" r="1.2" opacity="0.93"/><circle cx="103.2" cy="14.8" r="1.0" opacity="0.54"/><circle cx="1.6" cy="91.3" r="1.1" opacity="0.71"/><circle cx="109.6" cy="91.3" r="1.1" opacity="0.71"/><circle cx="29.0" cy="56.2" r="0.8" opacity="0.89"/><circle cx="-0.6" cy="43.6" r="0.8" opacity="0.76"/><circle cx="107.4" cy="43.6" r="0.8" opacity="0.76"/><circle cx="56.7" cy="48.3" r="1.2" opacity="0.70"/><circle cx="22.6" cy="79.7" r="1.0" opacity="0.61"/><circle cx="52.1" cy="69.2" r="1.1" opacity="0.61"/><circle cx="89.6" cy="48.3" r="0.9" opacity="0.86"/><circle cx="31.4" cy="36.5" r="0.9" opacity="0.79"/><circle cx="92.4" cy="73.4" r="1.2" opacity="0.58"/><circle cx="14.3" cy="20.3" r="1.0" opacity="0.75"/><circle cx="1.9" cy="3.0" r="1.0" opacity="0.71"/><circle cx="66.1" cy="1.5" r="1.1" opacity="0.71"/><circle cx="66.1" cy="109.5" r="1.1" opacity="0.71"/><circle cx="91.6" cy="12.2" r="1.0" opacity="0.61"/><circle cx="77.1" cy="79.5" r="1.0" opacity="0.99"/><circle cx="81.6" cy="57.0" r="1.0" opacity="0.55"/><circle cx="-0.2" cy="88.2" r="0.9" opacity="0.99"/><circle cx="107.8" cy="88.2" r="0.9" opacity="0.99"/><circle cx="96.3" cy="71.0" r="1.3" opacity="0.84"/><circle cx="2.5" cy="101.2" r="0.9" opacity="0.89"/><circle cx="9.6" cy="98.2" r="1.2" opacity="0.50"/><circle cx="18.9" cy="37.7" r="1.0" opacity="0.52"/><circle cx="78.2" cy="46.2" r="1.2" opacity="0.57"/><circle cx="96.5" cy="43.9" r="1.3" opacity="0.81"/><circle cx="36.5" cy="86.4" r="1.0" opacity="0.93"/><circle cx="8.6" cy="98.8" r="1.1" opacity="0.59"/><circle cx="14.0" cy="95.3" r="1.3" opacity="0.68"/><circle cx="62.4" cy="74.3" r="1.0" opacity="0.68"/><circle cx="-1.3" cy="14.8" r="1.0" opacity="0.58"/><circle cx="106.7" cy="14.8" r="1.0" opacity="0.58"/><circle cx="84.3" cy="77.0" r="1.0" opacity="0.72"/><circle cx="13.0" cy="47.1" r="1.0" opacity="0.88"/><circle cx="95.5" cy="21.0" r="1.0" opacity="0.65"/><circle cx="-0.9" cy="98.3" r="1.2" opacity="0.99"/><circle cx="107.1" cy="98.3" r="1.2" opacity="0.99"/><circle cx="78.2" cy="6.6" r="1.2" opacity="0.96"/><circle cx="26.3" cy="8.8" r="1.1" opacity="0.67"/><circle cx="13.8" cy="98.7" r="1.0" opacity="0.54"/><circle cx="19.3" cy="26.7" r="0.9" opacity="0.79"/><circle cx="85.8" cy="34.0" r="1.0" opacity="0.72"/><circle cx="30.1" cy="5.7" r="1.3" opacity="0.84"/><circle cx="56.8" cy="24.9" r="0.9" opacity="0.69"/><circle cx="4.0" cy="58.2" r="1.2" opacity="0.64"/><circle cx="106.4" cy="106.3" r="0.9" opacity="0.95"/><circle cx="83.3" cy="63.7" r="1.2" opacity="0.92"/><circle cx="9.1" cy="42.2" r="1.1" opacity="0.67"/><circle cx="103.6" cy="6.8" r="1.1" opacity="0.97"/><circle cx="98.4" cy="0.1" r="0.9" opacity="0.55"/><circle cx="98.4" cy="108.1" r="0.9" opacity="0.55"/><circle cx="70.3" cy="73.8" r="1.3" opacity="0.57"/><circle cx="78.9" cy="64.7" r="1.1" opacity="0.51"/><circle cx="40.5" cy="30.1" r="1.3" opacity="0.79"/><circle cx="58.0" cy="40.3" r="0.9" opacity="0.92"/><circle cx="35.5" cy="53.2" r="1.2" opacity="0.75"/><circle cx="72.2" cy="80.1" r="0.9" opacity="0.76"/><circle cx="87.0" cy="89.6" r="1.0" opacity="0.52"/><circle cx="23.6" cy="8.4" r="0.9" opacity="0.97"/><circle cx="59.6" cy="0.4" r="0.9" opacity="0.87"/><circle cx="59.6" cy="108.4" r="0.9" opacity="0.87"/><circle cx="104.1" cy="99.9" r="1.2" opacity="0.66"/><circle cx="97.2" cy="104.8" r="1.2" opacity="0.89"/><circle cx="81.4" cy="106.2" r="1.0" opacity="0.52"/><circle cx="94.1" cy="76.6" r="1.0" opacity="0.97"/><circle cx="82.6" cy="102.9" r="1.2" opacity="0.72"/><circle cx="91.6" cy="1.3" r="1.0" opacity="0.65"/><circle cx="91.6" cy="109.3" r="1.0" opacity="0.65"/><circle cx="13.5" cy="92.8" r="0.8" opacity="0.84"/><circle cx="59.5" cy="80.9" r="1.0" opacity="0.54"/><circle cx="79.9" cy="88.4" r="1.1" opacity="0.84"/><circle cx="17.0" cy="3.2" r="1.2" opacity="0.91"/><circle cx="17.8" cy="16.7" r="1.1" opacity="0.81"/><circle cx="53.5" cy="69.7" r="0.8" opacity="0.71"/><circle cx="98.9" cy="47.9" r="1.0" opacity="0.62"/><circle cx="66.7" cy="66.4" r="1.2" opacity="0.53"/><circle cx="102.6" cy="34.7" r="1.1" opacity="0.71"/><circle cx="53.3" cy="86.6" r="0.8" opacity="0.58"/><circle cx="2.5" cy="2.4" r="1.0" opacity="0.69"/><circle cx="25.9" cy="80.1" r="1.0" opacity="0.88"/><circle cx="10.3" cy="67.5" r="1.1" opacity="0.63"/><circle cx="43.4" cy="56.1" r="1.2" opacity="0.84"/><circle cx="1.6" cy="21.6" r="1.2" opacity="0.80"/><circle cx="109.6" cy="21.6" r="1.2" opacity="0.80"/><circle cx="75.5" cy="39.8" r="1.2" opacity="0.75"/><circle cx="97.8" cy="91.0" r="1.2" opacity="0.92"/><circle cx="46.3" cy="73.5" r="1.2" opacity="0.60"/><circle cx="60.8" cy="104.0" r="0.9" opacity="0.65"/><circle cx="92.8" cy="54.3" r="0.9" opacity="0.69"/><circle cx="3.0" cy="83.3" r="1.0" opacity="0.67"/><circle cx="19.3" cy="73.4" r="1.1" opacity="0.70"/><circle cx="54.4" cy="27.1" r="0.8" opacity="0.60"/><circle cx="13.6" cy="79.5" r="1.1" opacity="0.82"/><circle cx="54.8" cy="12.2" r="1.2" opacity="0.60"/><circle cx="0.6" cy="0.0" r="1.1" opacity="0.75"/><circle cx="0.6" cy="108.0" r="1.1" opacity="0.75"/><circle cx="108.6" cy="0.0" r="1.1" opacity="0.75"/><circle cx="108.6" cy="108.0" r="1.1" opacity="0.75"/><circle cx="50.1" cy="34.9" r="1.1" opacity="0.82"/><circle cx="2.1" cy="59.5" r="1.1" opacity="0.82"/><circle cx="37.1" cy="45.5" r="1.2" opacity="0.51"/><circle cx="66.0" cy="55.2" r="0.9" opacity="0.58"/><circle cx="59.8" cy="106.0" r="1.2" opacity="0.77"/><circle cx="37.4" cy="83.0" r="1.2" opacity="0.89"/><circle cx="38.9" cy="80.4" r="1.0" opacity="0.85"/><circle cx="43.3" cy="32.9" r="0.9" opacity="0.72"/><circle cx="10.5" cy="57.5" r="1.2" opacity="0.71"/><circle cx="32.2" cy="27.2" r="0.9" opacity="0.78"/><circle cx="4.2" cy="57.7" r="0.9" opacity="0.70"/><circle cx="22.3" cy="81.3" r="1.3" opacity="0.94"/><circle cx="24.2" cy="14.1" r="1.1" opacity="0.67"/><circle cx="85.5" cy="28.7" r="1.3" opacity="0.59"/><circle cx="76.2" cy="89.4" r="1.0" opacity="0.82"/><circle cx="7.9" cy="5.5" r="0.8" opacity="0.91"/><circle cx="53.1" cy="50.6" r="1.3" opacity="0.58"/><circle cx="59.6" cy="17.2" r="1.0" opacity="0.91"/><circle cx="62.5" cy="26.5" r="1.3" opacity="0.55"/><circle cx="5.9" cy="26.6" r="0.9" opacity="0.92"/><circle cx="91.2" cy="52.7" r="1.0" opacity="0.61"/><circle cx="39.2" cy="57.0" r="1.0" opacity="0.65"/><circle cx="5.4" cy="37.8" r="0.9" opacity="0.96"/><circle cx="48.9" cy="23.0" r="1.3" opacity="0.56"/><circle cx="98.4" cy="18.8" r="1.1" opacity="0.79"/><circle cx="65.8" cy="14.1" r="1.0" opacity="0.57"/><circle cx="92.3" cy="101.5" r="0.9" opacity="0.73"/><circle cx="63.3" cy="48.9" r="1.0" opacity="0.69"/><circle cx="21.6" cy="3.4" r="1.2" opacity="0.64"/><circle cx="76.5" cy="55.8" r="0.9" opacity="0.95"/><circle cx="26.0" cy="58.6" r="0.9" opacity="0.97"/><circle cx="45.8" cy="11.0" r="1.2" opacity="0.60"/><circle cx="21.4" cy="25.7" r="1.0" opacity="0.71"/><circle cx="106.1" cy="28.2" r="0.9" opacity="0.76"/><circle cx="60.9" cy="51.3" r="1.0" opacity="0.57"/><circle cx="33.7" cy="1.9" r="0.9" opacity="0.62"/><circle cx="38.2" cy="95.4" r="0.9" opacity="0.61"/><circle cx="32.2" cy="70.7" r="1.1" opacity="0.83"/><circle cx="73.3" cy="51.2" r="0.9" opacity="0.93"/><circle cx="33.3" cy="27.5" r="1.2" opacity="0.82"/><circle cx="94.9" cy="7.1" r="0.8" opacity="0.80"/><circle cx="30.8" cy="78.2" r="0.9" opacity="0.88"/><circle cx="91.4" cy="36.6" r="1.2" opacity="0.76"/><circle cx="69.1" cy="7.7" r="1.1" opacity="0.71"/><circle cx="13.0" cy="36.9" r="1.2" opacity="0.61"/><circle cx="93.9" cy="36.3" r="1.1" opacity="0.53"/><circle cx="52.6" cy="1.9" r="1.2" opacity="0.95"/><circle cx="39.4" cy="2.9" r="1.1" opacity="0.55"/><circle cx="92.3" cy="69.5" r="1.2" opacity="0.64"/><circle cx="99.5" cy="4.5" r="0.8" opacity="0.94"/><circle cx="84.6" cy="83.9" r="1.1" opacity="0.56"/><circle cx="70.1" cy="91.4" r="0.9" opacity="0.78"/><circle cx="51.9" cy="93.4" r="1.3" opacity="0.70"/><circle cx="62.6" cy="57.3" r="1.2" opacity="0.80"/><circle cx="7.7" cy="2.2" r="1.2" opacity="1.00"/><circle cx="104.9" cy="81.6" r="0.9" opacity="0.66"/><circle cx="43.5" cy="101.4" r="1.3" opacity="0.78"/><circle cx="46.6" cy="95.8" r="0.9" opacity="0.90"/><circle cx="1.4" cy="42.7" r="0.8" opacity="0.95"/><circle cx="0.3" cy="101.3" r="0.9" opacity="0.83"/><circle cx="108.3" cy="101.3" r="0.9" opacity="0.83"/><circle cx="102.4" cy="77.3" r="1.1" opacity="0.91"/><circle cx="44.2" cy="16.5" r="1.1" opacity="0.67"/><circle cx="34.2" cy="105.7" r="1.0" opacity="0.72"/><circle cx="13.3" cy="98.6" r="1.0" opacity="0.81"/><circle cx="105.9" cy="73.9" r="0.9" opacity="0.83"/><circle cx="49.9" cy="21.8" r="0.9" opacity="0.94"/><circle cx="79.8" cy="43.3" r="1.1" opacity="0.65"/><circle cx="94.3" cy="88.0" r="1.0" opacity="0.63"/><circle cx="23.2" cy="1.8" r="1.0" opacity="0.69"/><circle cx="87.6" cy="48.9" r="1.1" opacity="0.53"/><circle cx="65.9" cy="38.4" r="0.8" opacity="0.57"/><circle cx="-0.7" cy="27.3" r="1.2" opacity="0.67"/><circle cx="107.3" cy="27.3" r="1.2" opacity="0.67"/><circle cx="104.8" cy="79.3" r="1.2" opacity="0.60"/><circle cx="30.5" cy="97.0" r="1.1" opacity="0.71"/><circle cx="17.9" cy="53.4" r="1.3" opacity="0.81"/><circle cx="51.2" cy="80.9" r="0.8" opacity="0.84"/><circle cx="75.2" cy="54.7" r="0.9" opacity="0.52"/><circle cx="13.0" cy="56.5" r="1.2" opacity="0.58"/><circle cx="35.0" cy="62.7" r="1.2" opacity="0.79"/><circle cx="31.1" cy="16.8" r="1.0" opacity="0.94"/><circle cx="12.5" cy="16.4" r="1.0" opacity="0.59"/><circle cx="87.5" cy="100.5" r="1.3" opacity="0.82"/><circle cx="7.0" cy="51.0" r="1.1" opacity="0.73"/><circle cx="2.5" cy="48.5" r="1.2" opacity="0.69"/><circle cx="101.4" cy="93.9" r="1.0" opacity="0.66"/><circle cx="25.6" cy="88.8" r="1.0" opacity="0.94"/><circle cx="4.0" cy="71.1" r="0.9" opacity="0.94"/><circle cx="81.2" cy="5.7" r="1.3" opacity="0.87"/><circle cx="101.0" cy="17.9" r="0.9" opacity="0.69"/><circle cx="95.2" cy="56.3" r="0.9" opacity="0.79"/><circle cx="31.5" cy="49.9" r="1.3" opacity="0.87"/><circle cx="39.2" cy="17.2" r="1.1" opacity="0.64"/><circle cx="78.1" cy="35.9" r="1.3" opacity="0.87"/><circle cx="74.7" cy="12.6" r="1.1" opacity="0.69"/><circle cx="34.3" cy="55.7" r="1.1" opacity="0.77"/><circle cx="81.4" cy="20.5" r="1.1" opacity="0.94"/><circle cx="8.8" cy="35.9" r="0.9" opacity="0.70"/><circle cx="39.6" cy="44.6" r="0.8" opacity="0.57"/><circle cx="40.4" cy="47.0" r="1.1" opacity="0.67"/><circle cx="100.8" cy="67.9" r="1.3" opacity="0.91"/><circle cx="91.4" cy="0.6" r="1.1" opacity="0.89"/><circle cx="91.4" cy="108.6" r="1.1" opacity="0.89"/><circle cx="72.9" cy="4.3" r="1.2" opacity="0.52"/><circle cx="41.1" cy="14.0" r="1.3" opacity="0.68"/><circle cx="54.6" cy="6.5" r="0.8" opacity="0.54"/><circle cx="32.8" cy="76.7" r="0.9" opacity="0.73"/><circle cx="84.7" cy="19.5" r="1.1" opacity="0.52"/><circle cx="41.5" cy="55.1" r="0.9" opacity="0.88"/><circle cx="76.8" cy="96.2" r="1.3" opacity="0.98"/><circle cx="103.0" cy="21.5" r="0.9" opacity="0.67"/><circle cx="2.2" cy="80.5" r="0.9" opacity="0.64"/><circle cx="8.0" cy="87.4" r="1.1" opacity="0.67"/><circle cx="73.8" cy="77.5" r="0.9" opacity="0.84"/><circle cx="75.3" cy="51.3" r="1.1" opacity="0.97"/><circle cx="100.3" cy="21.5" r="1.1" opacity="0.74"/><circle cx="28.4" cy="11.4" r="1.1" opacity="0.58"/><circle cx="32.1" cy="96.4" r="1.2" opacity="0.80"/><circle cx="59.2" cy="61.5" r="0.9" opacity="0.58"/><circle cx="27.5" cy="100.8" r="1.2" opacity="0.69"/><circle cx="58.0" cy="2.1" r="1.0" opacity="0.82"/><circle cx="0.5" cy="56.8" r="1.1" opacity="0.59"/><circle cx="108.5" cy="56.8" r="1.1" opacity="0.59"/><circle cx="96.3" cy="11.5" r="0.8" opacity="0.94"/><circle cx="69.0" cy="2.5" r="0.8" opacity="0.92"/><circle cx="73.2" cy="78.5" r="0.9" opacity="0.54"/><circle cx="35.0" cy="22.6" r="0.9" opacity="0.75"/><circle cx="22.7" cy="73.7" r="1.0" opacity="0.96"/><circle cx="100.0" cy="9.5" r="1.2" opacity="0.84"/><circle cx="81.0" cy="14.2" r="1.1" opacity="0.81"/><circle cx="87.6" cy="83.6" r="1.0" opacity="0.77"/><circle cx="53.5" cy="99.4" r="1.2" opacity="0.83"/><circle cx="26.9" cy="5.0" r="0.9" opacity="0.76"/><circle cx="89.6" cy="38.4" r="1.0" opacity="0.99"/><circle cx="74.0" cy="11.4" r="0.9" opacity="0.74"/><circle cx="8.3" cy="56.5" r="0.8" opacity="0.85"/><circle cx="83.6" cy="-0.8" r="1.2" opacity="0.92"/><circle cx="83.6" cy="107.2" r="1.2" opacity="0.92"/><circle cx="70.9" cy="29.7" r="0.9" opacity="1.00"/><circle cx="104.5" cy="29.1" r="0.9" opacity="0.53"/><circle cx="47.1" cy="2.7" r="0.9" opacity="0.89"/><circle cx="9.9" cy="101.9" r="1.1" opacity="0.99"/><circle cx="54.7" cy="100.6" r="1.0" opacity="0.62"/><circle cx="47.3" cy="32.3" r="1.0" opacity="0.65"/><circle cx="47.5" cy="51.2" r="1.0" opacity="0.89"/><circle cx="32.2" cy="29.2" r="1.2" opacity="0.98"/><circle cx="69.7" cy="61.9" r="0.8" opacity="0.59"/><circle cx="51.4" cy="19.1" r="1.3" opacity="0.61"/><circle cx="29.1" cy="48.6" r="1.2" opacity="0.65"/><circle cx="71.8" cy="103.6" r="0.9" opacity="0.83"/><circle cx="87.0" cy="70.0" r="1.1" opacity="0.78"/><circle cx="67.6" cy="6.2" r="1.1" opacity="0.57"/><circle cx="70.1" cy="69.7" r="1.3" opacity="0.91"/><circle cx="76.0" cy="50.3" r="0.9" opacity="0.86"/><circle cx="-0.8" cy="48.1" r="0.9" opacity="0.51"/><circle cx="107.2" cy="48.1" r="0.9" opacity="0.51"/><circle cx="27.7" cy="8.5" r="1.2" opacity="1.00"/><circle cx="79.5" cy="15.6" r="0.9" opacity="0.51"/><circle cx="84.7" cy="23.7" r="1.2" opacity="0.88"/><circle cx="96.2" cy="1.9" r="1.1" opacity="0.89"/><circle cx="81.9" cy="93.8" r="0.9" opacity="0.60"/><circle cx="96.8" cy="37.3" r="0.9" opacity="0.75"/><circle cx="79.2" cy="91.2" r="0.9" opacity="0.71"/><circle cx="19.1" cy="75.3" r="0.8" opacity="0.92"/><circle cx="56.1" cy="56.3" r="1.1" opacity="0.87"/><circle cx="94.9" cy="28.8" r="1.3" opacity="0.68"/><circle cx="19.9" cy="71.2" r="1.3" opacity="0.70"/><circle cx="48.6" cy="91.6" r="1.1" opacity="0.82"/><circle cx="35.7" cy="85.0" r="0.8" opacity="0.88"/><circle cx="44.7" cy="19.5" r="1.2" opacity="0.70"/><circle cx="2.6" cy="0.9" r="1.1" opacity="0.73"/><circle cx="2.6" cy="108.9" r="1.1" opacity="0.73"/><circle cx="14.6" cy="104.6" r="1.0" opacity="0.74"/><circle cx="59.7" cy="51.8" r="0.8" opacity="0.86"/><circle cx="11.9" cy="7.5" r="1.3" opacity="0.72"/><circle cx="46.8" cy="76.3" r="1.0" opacity="0.65"/><circle cx="52.5" cy="49.2" r="1.2" opacity="0.79"/><circle cx="-0.7" cy="18.8" r="1.2" opacity="0.60"/><circle cx="107.3" cy="18.8" r="1.2" opacity="0.60"/><circle cx="13.9" cy="6.6" r="0.8" opacity="0.82"/><circle cx="38.3" cy="78.9" r="1.0" opacity="0.64"/><circle cx="28.4" cy="33.0" r="0.8" opacity="0.62"/><circle cx="15.0" cy="7.4" r="0.9" opacity="0.57"/><circle cx="56.9" cy="93.2" r="1.2" opacity="0.53"/><circle cx="57.3" cy="98.4" r="1.2" opacity="0.95"/><circle cx="87.8" cy="55.1" r="0.9" opacity="0.59"/><circle cx="100.0" cy="20.1" r="1.2" opacity="0.85"/><circle cx="11.4" cy="101.7" r="0.9" opacity="0.88"/><circle cx="58.2" cy="46.4" r="1.3" opacity="0.93"/></g></pattern><pattern id="q2" href="#dpr" patternTransform="translate(118.7 689.2)"/><clipPath id="c11"><rect x="161.8" y="675.2" width="108.10" height="107.40"/></clipPath><pattern id="q3" href="#dpb" patternTransform="translate(164.8 750.2)"/><clipPath id="c12"><rect x="280.0" y="675.2" width="107.10" height="107.40"/></clipPath><pattern id="q4" href="#dpb" patternTransform="translate(320.0 703.2)"/><clipPath id="c13"><rect x="397.1" y="675.2" width="107.70" height="107.40"/></clipPath><pattern id="q5" href="#dpb" patternTransform="translate(474.1 764.2)"/><pattern id="q6" href="#dpb" patternTransform="translate(403.1 717.2)"/><pattern id="q7" href="#dpr" patternTransform="translate(440.1 778.2)"/><clipPath id="c20"><rect x="44.7" y="792.1" width="107.40" height="106.50"/></clipPath><filter id="n11" x="0" y="0" width="1" height="1" color-interpolation-filters="sRGB"><feTurbulence type="fractalNoise" baseFrequency="0.6" numOctaves="2" seed="148"/><feColorMatrix type="matrix" values="0 0 0 0 0.165 0 0 0 0 0.165 0 0 0 0 0.816 1.6 0 0 0 -0.848"/><feGaussianBlur stdDeviation="0.5"/></filter><filter id="n12" x="0" y="0" width="1" height="1" color-interpolation-filters="sRGB"><feTurbulence type="fractalNoise" baseFrequency="0.5" numOctaves="2" seed="161"/><feColorMatrix type="matrix" values="0 0 0 0 0.188 0 0 0 0 0.753 0 0 0 0 0.439 4 0 0 0 -2.800"/><feGaussianBlur stdDeviation="0.5"/></filter><filter id="n13" x="0" y="0" width="1" height="1" color-interpolation-filters="sRGB"><feTurbulence type="fractalNoise" baseFrequency="0.035" numOctaves="2" seed="174"/><feColorMatrix type="matrix" values="0 0 0 0 0.0 0 0 0 0 0.0 0 0 0 0 0.0 1.4 0 0 0 -0.588"/><feGaussianBlur stdDeviation="1"/></filter><clipPath id="c21"><rect x="161.8" y="792.1" width="108.10" height="106.50"/></clipPath><filter id="n14" x="0" y="0" width="1" height="1" color-interpolation-filters="sRGB"><feTurbulence type="fractalNoise" baseFrequency="0.6" numOctaves="2" seed="187"/><feColorMatrix type="matrix" values="0 0 0 0 0.141 0 0 0 0 0.141 0 0 0 0 0.753 1.6 0 0 0 -0.832"/><feGaussianBlur stdDeviation="0.5"/></filter><filter id="n15" x="0" y="0" width="1" height="1" color-interpolation-filters="sRGB"><feTurbulence type="fractalNoise" baseFrequency="0.5" numOctaves="2" seed="200"/><feColorMatrix type="matrix" values="0 0 0 0 0.188 0 0 0 0 0.753 0 0 0 0 0.439 4 0 0 0 -2.720"/><feGaussianBlur stdDeviation="0.5"/></filter><filter id="n16" x="0" y="0" width="1" height="1" color-interpolation-filters="sRGB"><feTurbulence type="fractalNoise" baseFrequency="0.035" numOctaves="2" seed="213"/><feColorMatrix type="matrix" values="0 0 0 0 0.0 0 0 0 0 0.0 0 0 0 0 0.0 1.4 0 0 0 -0.588"/><feGaussianBlur stdDeviation="1"/></filter><filter id="n17" x="0" y="0" width="1" height="1" color-interpolation-filters="sRGB"><feTurbulence type="fractalNoise" baseFrequency="0.55" numOctaves="2" seed="226"/><feColorMatrix type="matrix" values="0 0 0 0 0.251 0 0 0 0 0.753 0 0 0 0 0.502 3 0 0 0 -1.890"/><feGaussianBlur stdDeviation="0.5"/></filter><clipPath id="c22"><rect x="280.0" y="792.1" width="107.10" height="106.50"/></clipPath><filter id="n18" x="0" y="0" width="1" height="1" color-interpolation-filters="sRGB"><feTurbulence type="fractalNoise" baseFrequency="0.6" numOctaves="2" seed="239"/><feColorMatrix type="matrix" values="0 0 0 0 0.141 0 0 0 0 0.141 0 0 0 0 0.753 1.6 0 0 0 -0.848"/><feGaussianBlur stdDeviation="0.5"/></filter><filter id="n19" x="0" y="0" width="1" height="1" color-interpolation-filters="sRGB"><feTurbulence type="fractalNoise" baseFrequency="0.5" numOctaves="2" seed="252"/><feColorMatrix type="matrix" values="0 0 0 0 0.188 0 0 0 0 0.753 0 0 0 0 0.439 4 0 0 0 -2.720"/><feGaussianBlur stdDeviation="0.5"/></filter><filter id="n20" x="0" y="0" width="1" height="1" color-interpolation-filters="sRGB"><feTurbulence type="fractalNoise" baseFrequency="0.035" numOctaves="2" seed="265"/><feColorMatrix type="matrix" values="0 0 0 0 0.0 0 0 0 0 0.0 0 0 0 0 0.0 1.4 0 0 0 -0.588"/><feGaussianBlur stdDeviation="1"/></filter><filter id="n21" x="0" y="0" width="1" height="1" color-interpolation-filters="sRGB"><feTurbulence type="fractalNoise" baseFrequency="0.55" numOctaves="2" seed="278"/><feColorMatrix type="matrix" values="0 0 0 0 0.251 0 0 0 0 0.753 0 0 0 0 0.502 3 0 0 0 -1.860"/><feGaussianBlur stdDeviation="0.5"/></filter><clipPath id="c23"><rect x="397.1" y="792.1" width="107.70" height="106.50"/></clipPath><filter id="n22" x="0" y="0" width="1" height="1" color-interpolation-filters="sRGB"><feTurbulence type="fractalNoise" baseFrequency="0.6" numOctaves="2" seed="291"/><feColorMatrix type="matrix" values="0 0 0 0 0.125 0 0 0 0 0.125 0 0 0 0 0.69 1.6 0 0 0 -0.864"/><feGaussianBlur stdDeviation="0.5"/></filter><filter id="n23" x="0" y="0" width="1" height="1" color-interpolation-filters="sRGB"><feTurbulence type="fractalNoise" baseFrequency="0.5" numOctaves="2" seed="304"/><feColorMatrix type="matrix" values="0 0 0 0 0.188 0 0 0 0 0.753 0 0 0 0 0.439 4 0 0 0 -2.680"/><feGaussianBlur stdDeviation="0.5"/></filter><filter id="n24" x="0" y="0" width="1" height="1" color-interpolation-filters="sRGB"><feTurbulence type="fractalNoise" baseFrequency="0.035" numOctaves="2" seed="317"/><feColorMatrix type="matrix" values="0 0 0 0 0.0 0 0 0 0 0.0 0 0 0 0 0.0 1.4 0 0 0 -0.588"/><feGaussianBlur stdDeviation="1"/></filter><filter id="n25" x="0" y="0" width="1" height="1" color-interpolation-filters="sRGB"><feTurbulence type="fractalNoise" baseFrequency="0.55" numOctaves="2" seed="330"/><feColorMatrix type="matrix" values="0 0 0 0 0.251 0 0 0 0 0.753 0 0 0 0 0.502 3 0 0 0 -1.890"/><feGaussianBlur stdDeviation="0.5"/></filter><filter id="n26" x="0" y="0" width="1" height="1" color-interpolation-filters="sRGB"><feTurbulence type="fractalNoise" baseFrequency="0.55" numOctaves="2" seed="343"/><feColorMatrix type="matrix" values="0 0 0 0 0.251 0 0 0 0 0.753 0 0 0 0 0.502 3 0 0 0 -1.890"/><feGaussianBlur stdDeviation="0.5"/></filter><clipPath id="c30"><rect x="44.7" y="908.4" width="107.40" height="107.60"/></clipPath><pattern id="dpb4" width="108" height="108" patternUnits="userSpaceOnUse"><g fill="#1c1cbc"><ellipse cx="51.0" cy="25.7" rx="1.3" ry="1.1" transform="rotate(121 51.0 25.7)" opacity="0.82"/><ellipse cx="72.5" cy="0.7" rx="1.6" ry="1.3" transform="rotate(57 72.5 0.7)" opacity="0.75"/><ellipse cx="72.5" cy="108.7" rx="1.6" ry="1.3" transform="rotate(57 72.5 108.7)" opacity="0.75"/><ellipse cx="54.7" cy="95.6" rx="1.7" ry="1.4" transform="rotate(61 54.7 95.6)" opacity="0.33"/><ellipse cx="20.3" cy="23.5" rx="1.5" ry="1.4" transform="rotate(79 20.3 23.5)" opacity="0.88"/><ellipse cx="89.7" cy="4.8" rx="1.2" ry="1.0" transform="rotate(73 89.7 4.8)" opacity="0.95"/><ellipse cx="93.0" cy="32.8" rx="1.3" ry="1.0" transform="rotate(102 93.0 32.8)" opacity="0.86"/><ellipse cx="6.0" cy="6.9" rx="1.4" ry="1.4" transform="rotate(19 6.0 6.9)" opacity="0.71"/><ellipse cx="74.4" cy="38.8" rx="1.4" ry="1.1" transform="rotate(136 74.4 38.8)" opacity="0.63"/><ellipse cx="13.6" cy="48.4" rx="1.5" ry="1.4" transform="rotate(154 13.6 48.4)" opacity="0.53"/><ellipse cx="51.0" cy="101.7" rx="1.5" ry="1.2" transform="rotate(142 51.0 101.7)" opacity="0.45"/><ellipse cx="25.5" cy="32.3" rx="1.3" ry="1.3" transform="rotate(141 25.5 32.3)" opacity="0.34"/><ellipse cx="4.8" cy="0.3" rx="1.4" ry="1.4" transform="rotate(32 4.8 0.3)" opacity="0.44"/><ellipse cx="4.8" cy="108.3" rx="1.4" ry="1.4" transform="rotate(32 4.8 108.3)" opacity="0.44"/><ellipse cx="70.8" cy="80.2" rx="1.7" ry="1.6" transform="rotate(6 70.8 80.2)" opacity="0.93"/><ellipse cx="74.8" cy="84.0" rx="1.4" ry="1.4" transform="rotate(90 74.8 84.0)" opacity="0.51"/><ellipse cx="87.7" cy="84.9" rx="1.7" ry="1.4" transform="rotate(151 87.7 84.9)" opacity="0.66"/><ellipse cx="58.5" cy="90.6" rx="1.4" ry="1.2" transform="rotate(50 58.5 90.6)" opacity="0.53"/><ellipse cx="30.1" cy="77.1" rx="1.8" ry="1.6" transform="rotate(127 30.1 77.1)" opacity="0.59"/><ellipse cx="51.9" cy="63.1" rx="1.6" ry="1.6" transform="rotate(163 51.9 63.1)" opacity="0.74"/><ellipse cx="42.2" cy="70.2" rx="1.2" ry="1.0" transform="rotate(84 42.2 70.2)" opacity="0.44"/><ellipse cx="14.6" cy="41.8" rx="1.4" ry="1.3" transform="rotate(64 14.6 41.8)" opacity="0.34"/><ellipse cx="-1.2" cy="23.5" rx="1.7" ry="1.3" transform="rotate(78 -1.2 23.5)" opacity="0.53"/><ellipse cx="106.8" cy="23.5" rx="1.7" ry="1.3" transform="rotate(78 106.8 23.5)" opacity="0.53"/><ellipse cx="22.3" cy="46.2" rx="1.2" ry="1.1" transform="rotate(73 22.3 46.2)" opacity="0.91"/><ellipse cx="60.3" cy="4.6" rx="2.2" ry="1.7" transform="rotate(4 60.3 4.6)" opacity="0.58"/><ellipse cx="82.8" cy="74.8" rx="1.4" ry="1.1" transform="rotate(11 82.8 74.8)" opacity="0.76"/><ellipse cx="29.2" cy="21.9" rx="1.6" ry="1.5" transform="rotate(169 29.2 21.9)" opacity="0.57"/><ellipse cx="43.7" cy="93.9" rx="1.5" ry="1.2" transform="rotate(8 43.7 93.9)" opacity="0.84"/><ellipse cx="50.8" cy="68.0" rx="1.3" ry="1.0" transform="rotate(22 50.8 68.0)" opacity="0.67"/><ellipse cx="93.0" cy="87.0" rx="1.8" ry="1.6" transform="rotate(152 93.0 87.0)" opacity="0.77"/><ellipse cx="36.2" cy="78.2" rx="1.2" ry="1.1" transform="rotate(117 36.2 78.2)" opacity="0.31"/><ellipse cx="59.0" cy="47.0" rx="1.7" ry="1.4" transform="rotate(131 59.0 47.0)" opacity="0.76"/><ellipse cx="76.6" cy="26.4" rx="1.0" ry="1.0" transform="rotate(129 76.6 26.4)" opacity="0.38"/><ellipse cx="28.8" cy="97.9" rx="1.3" ry="1.3" transform="rotate(99 28.8 97.9)" opacity="0.45"/><ellipse cx="38.8" cy="52.3" rx="1.4" ry="1.2" transform="rotate(31 38.8 52.3)" opacity="0.39"/><ellipse cx="100.4" cy="32.6" rx="1.8" ry="1.7" transform="rotate(64 100.4 32.6)" opacity="0.37"/><ellipse cx="26.0" cy="104.7" rx="1.8" ry="1.4" transform="rotate(168 26.0 104.7)" opacity="0.82"/><ellipse cx="38.8" cy="77.9" rx="1.1" ry="1.1" transform="rotate(166 38.8 77.9)" opacity="0.95"/><ellipse cx="43.6" cy="6.6" rx="1.6" ry="1.3" transform="rotate(88 43.6 6.6)" opacity="0.73"/><ellipse cx="9.3" cy="96.0" rx="1.5" ry="1.2" transform="rotate(33 9.3 96.0)" opacity="0.41"/><ellipse cx="70.2" cy="68.7" rx="1.1" ry="1.0" transform="rotate(143 70.2 68.7)" opacity="0.63"/><ellipse cx="6.0" cy="97.2" rx="1.8" ry="1.5" transform="rotate(43 6.0 97.2)" opacity="0.83"/><ellipse cx="35.9" cy="5.6" rx="1.5" ry="1.4" transform="rotate(65 35.9 5.6)" opacity="0.86"/><ellipse cx="71.9" cy="105.5" rx="1.5" ry="1.4" transform="rotate(31 71.9 105.5)" opacity="0.59"/><ellipse cx="13.4" cy="36.9" rx="1.9" ry="1.6" transform="rotate(160 13.4 36.9)" opacity="0.33"/><ellipse cx="25.6" cy="41.5" rx="1.0" ry="1.0" transform="rotate(74 25.6 41.5)" opacity="0.73"/><ellipse cx="23.6" cy="86.7" rx="1.3" ry="1.0" transform="rotate(64 23.6 86.7)" opacity="0.65"/><ellipse cx="61.1" cy="37.0" rx="1.8" ry="1.6" transform="rotate(68 61.1 37.0)" opacity="0.43"/><ellipse cx="6.6" cy="53.0" rx="1.4" ry="1.3" transform="rotate(127 6.6 53.0)" opacity="0.49"/><ellipse cx="18.9" cy="97.6" rx="1.3" ry="1.1" transform="rotate(171 18.9 97.6)" opacity="0.68"/><ellipse cx="76.7" cy="44.9" rx="1.7" ry="1.4" transform="rotate(143 76.7 44.9)" opacity="0.68"/><ellipse cx="22.1" cy="21.3" rx="2.1" ry="1.7" transform="rotate(10 22.1 21.3)" opacity="0.66"/><ellipse cx="6.2" cy="4.2" rx="1.6" ry="1.4" transform="rotate(152 6.2 4.2)" opacity="0.61"/><ellipse cx="96.8" cy="100.2" rx="1.7" ry="1.5" transform="rotate(117 96.8 100.2)" opacity="0.59"/><ellipse cx="25.4" cy="3.5" rx="1.7" ry="1.6" transform="rotate(113 25.4 3.5)" opacity="0.38"/><ellipse cx="27.6" cy="106.3" rx="1.1" ry="1.0" transform="rotate(168 27.6 106.3)" opacity="0.44"/><ellipse cx="72.5" cy="33.3" rx="1.3" ry="1.1" transform="rotate(164 72.5 33.3)" opacity="0.74"/><ellipse cx="91.2" cy="69.0" rx="1.6" ry="1.4" transform="rotate(89 91.2 69.0)" opacity="0.49"/><ellipse cx="18.1" cy="41.4" rx="2.1" ry="1.7" transform="rotate(17 18.1 41.4)" opacity="0.93"/><ellipse cx="17.0" cy="94.5" rx="2.0" ry="1.6" transform="rotate(17 17.0 94.5)" opacity="0.43"/><ellipse cx="97.0" cy="10.0" rx="1.2" ry="1.1" transform="rotate(89 97.0 10.0)" opacity="0.82"/><ellipse cx="51.9" cy="7.3" rx="2.1" ry="1.7" transform="rotate(160 51.9 7.3)" opacity="0.54"/><ellipse cx="7.6" cy="44.5" rx="1.3" ry="1.3" transform="rotate(56 7.6 44.5)" opacity="0.45"/><ellipse cx="60.8" cy="102.4" rx="1.9" ry="1.7" transform="rotate(106 60.8 102.4)" opacity="0.91"/><ellipse cx="1.6" cy="58.1" rx="1.9" ry="1.5" transform="rotate(165 1.6 58.1)" opacity="0.88"/><ellipse cx="109.6" cy="58.1" rx="1.9" ry="1.5" transform="rotate(165 109.6 58.1)" opacity="0.88"/><ellipse cx="57.5" cy="29.4" rx="1.7" ry="1.4" transform="rotate(163 57.5 29.4)" opacity="0.70"/><ellipse cx="9.7" cy="5.6" rx="1.2" ry="1.0" transform="rotate(159 9.7 5.6)" opacity="0.74"/><ellipse cx="84.7" cy="30.0" rx="1.5" ry="1.2" transform="rotate(144 84.7 30.0)" opacity="0.74"/><ellipse cx="24.7" cy="12.3" rx="1.9" ry="1.5" transform="rotate(47 24.7 12.3)" opacity="0.94"/><ellipse cx="0.9" cy="16.8" rx="1.8" ry="1.4" transform="rotate(7 0.9 16.8)" opacity="0.65"/><ellipse cx="108.9" cy="16.8" rx="1.8" ry="1.4" transform="rotate(7 108.9 16.8)" opacity="0.65"/><ellipse cx="74.5" cy="91.5" rx="1.3" ry="1.3" transform="rotate(57 74.5 91.5)" opacity="0.92"/><ellipse cx="83.4" cy="-1.6" rx="1.7" ry="1.6" transform="rotate(163 83.4 -1.6)" opacity="0.81"/><ellipse cx="83.4" cy="106.4" rx="1.7" ry="1.6" transform="rotate(163 83.4 106.4)" opacity="0.81"/><ellipse cx="54.1" cy="67.2" rx="2.0" ry="1.6" transform="rotate(27 54.1 67.2)" opacity="0.82"/><ellipse cx="69.9" cy="105.3" rx="1.7" ry="1.6" transform="rotate(128 69.9 105.3)" opacity="0.82"/><ellipse cx="79.3" cy="84.3" rx="1.8" ry="1.5" transform="rotate(47 79.3 84.3)" opacity="0.39"/><ellipse cx="105.4" cy="36.5" rx="1.6" ry="1.4" transform="rotate(163 105.4 36.5)" opacity="0.55"/><ellipse cx="36.5" cy="83.4" rx="1.6" ry="1.4" transform="rotate(145 36.5 83.4)" opacity="0.71"/><ellipse cx="-1.5" cy="55.9" rx="1.7" ry="1.6" transform="rotate(28 -1.5 55.9)" opacity="0.93"/><ellipse cx="106.5" cy="55.9" rx="1.7" ry="1.6" transform="rotate(28 106.5 55.9)" opacity="0.93"/><ellipse cx="41.6" cy="88.3" rx="1.4" ry="1.2" transform="rotate(89 41.6 88.3)" opacity="0.55"/><ellipse cx="19.1" cy="50.5" rx="1.5" ry="1.3" transform="rotate(163 19.1 50.5)" opacity="0.91"/><ellipse cx="51.0" cy="104.9" rx="1.7" ry="1.4" transform="rotate(142 51.0 104.9)" opacity="0.73"/><ellipse cx="58.3" cy="34.8" rx="1.1" ry="1.0" transform="rotate(95 58.3 34.8)" opacity="0.90"/><ellipse cx="72.7" cy="52.2" rx="1.5" ry="1.4" transform="rotate(114 72.7 52.2)" opacity="0.86"/><ellipse cx="6.6" cy="49.9" rx="1.7" ry="1.3" transform="rotate(108 6.6 49.9)" opacity="0.63"/><ellipse cx="-0.9" cy="5.0" rx="1.3" ry="1.3" transform="rotate(52 -0.9 5.0)" opacity="0.53"/><ellipse cx="107.1" cy="5.0" rx="1.3" ry="1.3" transform="rotate(52 107.1 5.0)" opacity="0.53"/><ellipse cx="60.8" cy="59.4" rx="1.4" ry="1.3" transform="rotate(8 60.8 59.4)" opacity="0.95"/><ellipse cx="40.9" cy="15.5" rx="1.3" ry="1.2" transform="rotate(63 40.9 15.5)" opacity="0.86"/><ellipse cx="38.0" cy="0.6" rx="1.3" ry="1.2" transform="rotate(24 38.0 0.6)" opacity="0.50"/><ellipse cx="38.0" cy="108.6" rx="1.3" ry="1.2" transform="rotate(24 38.0 108.6)" opacity="0.50"/><ellipse cx="101.4" cy="28.4" rx="1.7" ry="1.6" transform="rotate(16 101.4 28.4)" opacity="0.46"/><ellipse cx="43.5" cy="83.9" rx="1.4" ry="1.1" transform="rotate(79 43.5 83.9)" opacity="0.84"/><ellipse cx="99.1" cy="50.4" rx="1.8" ry="1.4" transform="rotate(22 99.1 50.4)" opacity="0.35"/><ellipse cx="26.6" cy="90.7" rx="1.2" ry="1.1" transform="rotate(145 26.6 90.7)" opacity="0.61"/><ellipse cx="93.0" cy="14.4" rx="1.5" ry="1.4" transform="rotate(19 93.0 14.4)" opacity="0.61"/><ellipse cx="85.2" cy="48.3" rx="1.5" ry="1.4" transform="rotate(48 85.2 48.3)" opacity="0.73"/><ellipse cx="24.2" cy="35.9" rx="1.5" ry="1.4" transform="rotate(65 24.2 35.9)" opacity="0.48"/><ellipse cx="100.6" cy="35.1" rx="1.3" ry="1.1" transform="rotate(136 100.6 35.1)" opacity="0.33"/><ellipse cx="90.9" cy="31.6" rx="1.8" ry="1.4" transform="rotate(44 90.9 31.6)" opacity="0.67"/><ellipse cx="15.5" cy="43.6" rx="1.7" ry="1.6" transform="rotate(138 15.5 43.6)" opacity="0.32"/><ellipse cx="51.1" cy="33.7" rx="1.9" ry="1.6" transform="rotate(137 51.1 33.7)" opacity="0.92"/><ellipse cx="16.6" cy="58.8" rx="1.4" ry="1.2" transform="rotate(119 16.6 58.8)" opacity="0.30"/><ellipse cx="24.6" cy="5.7" rx="1.7" ry="1.4" transform="rotate(167 24.6 5.7)" opacity="0.41"/><ellipse cx="70.6" cy="32.1" rx="2.1" ry="1.6" transform="rotate(149 70.6 32.1)" opacity="0.74"/><ellipse cx="101.1" cy="102.1" rx="1.7" ry="1.6" transform="rotate(86 101.1 102.1)" opacity="0.84"/><ellipse cx="46.3" cy="74.1" rx="1.3" ry="1.2" transform="rotate(54 46.3 74.1)" opacity="0.69"/><ellipse cx="93.9" cy="11.4" rx="2.0" ry="1.6" transform="rotate(47 93.9 11.4)" opacity="0.86"/><ellipse cx="1.6" cy="61.1" rx="1.7" ry="1.7" transform="rotate(146 1.6 61.1)" opacity="0.85"/><ellipse cx="109.6" cy="61.1" rx="1.7" ry="1.7" transform="rotate(146 109.6 61.1)" opacity="0.85"/><ellipse cx="47.8" cy="9.8" rx="1.5" ry="1.5" transform="rotate(156 47.8 9.8)" opacity="0.75"/><ellipse cx="92.6" cy="101.3" rx="1.8" ry="1.4" transform="rotate(57 92.6 101.3)" opacity="0.89"/><ellipse cx="9.1" cy="81.7" rx="1.3" ry="1.1" transform="rotate(21 9.1 81.7)" opacity="0.86"/><ellipse cx="58.4" cy="59.0" rx="1.6" ry="1.5" transform="rotate(118 58.4 59.0)" opacity="0.64"/><ellipse cx="-0.9" cy="69.1" rx="1.5" ry="1.4" transform="rotate(35 -0.9 69.1)" opacity="0.71"/><ellipse cx="107.1" cy="69.1" rx="1.5" ry="1.4" transform="rotate(35 107.1 69.1)" opacity="0.71"/><ellipse cx="45.9" cy="78.1" rx="2.0" ry="1.6" transform="rotate(56 45.9 78.1)" opacity="0.69"/><ellipse cx="62.1" cy="16.0" rx="1.2" ry="1.1" transform="rotate(132 62.1 16.0)" opacity="0.83"/><ellipse cx="68.5" cy="31.3" rx="1.6" ry="1.3" transform="rotate(98 68.5 31.3)" opacity="0.48"/><ellipse cx="96.9" cy="84.6" rx="1.4" ry="1.4" transform="rotate(121 96.9 84.6)" opacity="0.60"/><ellipse cx="25.9" cy="25.4" rx="1.3" ry="1.0" transform="rotate(92 25.9 25.4)" opacity="0.53"/><ellipse cx="92.1" cy="79.4" rx="1.8" ry="1.5" transform="rotate(80 92.1 79.4)" opacity="0.36"/><ellipse cx="4.4" cy="84.4" rx="1.8" ry="1.6" transform="rotate(27 4.4 84.4)" opacity="0.82"/><ellipse cx="68.3" cy="36.7" rx="1.8" ry="1.6" transform="rotate(49 68.3 36.7)" opacity="0.61"/><ellipse cx="40.6" cy="68.2" rx="2.1" ry="1.6" transform="rotate(67 40.6 68.2)" opacity="0.94"/><ellipse cx="26.2" cy="44.3" rx="1.4" ry="1.2" transform="rotate(42 26.2 44.3)" opacity="0.75"/><ellipse cx="100.5" cy="40.6" rx="1.9" ry="1.6" transform="rotate(3 100.5 40.6)" opacity="0.88"/><ellipse cx="105.4" cy="1.0" rx="1.5" ry="1.4" transform="rotate(92 105.4 1.0)" opacity="0.92"/><ellipse cx="105.4" cy="109.0" rx="1.5" ry="1.4" transform="rotate(92 105.4 109.0)" opacity="0.92"/><ellipse cx="36.1" cy="86.8" rx="1.6" ry="1.6" transform="rotate(132 36.1 86.8)" opacity="0.73"/><ellipse cx="14.4" cy="17.5" rx="1.1" ry="1.0" transform="rotate(102 14.4 17.5)" opacity="0.65"/><ellipse cx="53.4" cy="9.7" rx="1.7" ry="1.4" transform="rotate(54 53.4 9.7)" opacity="0.33"/><ellipse cx="23.5" cy="84.6" rx="1.7" ry="1.5" transform="rotate(74 23.5 84.6)" opacity="0.65"/><ellipse cx="27.2" cy="77.7" rx="1.2" ry="1.1" transform="rotate(54 27.2 77.7)" opacity="0.85"/><ellipse cx="40.5" cy="81.3" rx="1.7" ry="1.6" transform="rotate(101 40.5 81.3)" opacity="0.71"/><ellipse cx="53.4" cy="47.0" rx="1.5" ry="1.4" transform="rotate(159 53.4 47.0)" opacity="0.36"/><ellipse cx="68.2" cy="34.4" rx="1.8" ry="1.6" transform="rotate(10 68.2 34.4)" opacity="0.49"/><ellipse cx="92.0" cy="30.3" rx="1.8" ry="1.7" transform="rotate(131 92.0 30.3)" opacity="0.44"/><ellipse cx="10.1" cy="8.4" rx="1.5" ry="1.3" transform="rotate(40 10.1 8.4)" opacity="0.66"/><ellipse cx="47.0" cy="73.0" rx="1.8" ry="1.6" transform="rotate(120 47.0 73.0)" opacity="0.47"/><ellipse cx="16.8" cy="99.2" rx="2.0" ry="1.6" transform="rotate(69 16.8 99.2)" opacity="0.89"/><ellipse cx="96.0" cy="52.8" rx="1.5" ry="1.2" transform="rotate(8 96.0 52.8)" opacity="0.38"/><ellipse cx="41.2" cy="27.5" rx="1.8" ry="1.6" transform="rotate(91 41.2 27.5)" opacity="0.40"/><ellipse cx="55.1" cy="31.6" rx="1.7" ry="1.4" transform="rotate(103 55.1 31.6)" opacity="0.52"/><ellipse cx="86.6" cy="83.6" rx="1.3" ry="1.1" transform="rotate(162 86.6 83.6)" opacity="0.48"/><ellipse cx="26.1" cy="96.1" rx="1.4" ry="1.4" transform="rotate(168 26.1 96.1)" opacity="0.64"/><ellipse cx="58.1" cy="35.0" rx="1.0" ry="1.0" transform="rotate(89 58.1 35.0)" opacity="0.89"/><ellipse cx="97.4" cy="17.2" rx="1.3" ry="1.1" transform="rotate(108 97.4 17.2)" opacity="0.55"/><ellipse cx="26.0" cy="79.6" rx="1.3" ry="1.1" transform="rotate(142 26.0 79.6)" opacity="0.50"/><ellipse cx="104.5" cy="64.9" rx="1.4" ry="1.2" transform="rotate(42 104.5 64.9)" opacity="0.39"/><ellipse cx="13.7" cy="41.4" rx="1.3" ry="1.1" transform="rotate(113 13.7 41.4)" opacity="0.71"/><ellipse cx="54.4" cy="98.1" rx="1.4" ry="1.2" transform="rotate(55 54.4 98.1)" opacity="0.79"/><ellipse cx="99.2" cy="20.9" rx="1.4" ry="1.3" transform="rotate(151 99.2 20.9)" opacity="0.61"/><ellipse cx="3.8" cy="97.4" rx="1.3" ry="1.2" transform="rotate(110 3.8 97.4)" opacity="0.95"/><ellipse cx="29.1" cy="27.3" rx="1.5" ry="1.4" transform="rotate(77 29.1 27.3)" opacity="0.38"/><ellipse cx="36.2" cy="32.7" rx="1.6" ry="1.3" transform="rotate(33 36.2 32.7)" opacity="0.80"/><ellipse cx="6.5" cy="-0.4" rx="1.4" ry="1.3" transform="rotate(70 6.5 -0.4)" opacity="0.84"/><ellipse cx="6.5" cy="107.6" rx="1.4" ry="1.3" transform="rotate(70 6.5 107.6)" opacity="0.84"/><ellipse cx="6.5" cy="97.1" rx="1.8" ry="1.6" transform="rotate(32 6.5 97.1)" opacity="0.31"/><ellipse cx="36.6" cy="90.7" rx="1.9" ry="1.6" transform="rotate(51 36.6 90.7)" opacity="0.80"/><ellipse cx="18.3" cy="0.3" rx="1.9" ry="1.6" transform="rotate(128 18.3 0.3)" opacity="0.33"/><ellipse cx="18.3" cy="108.3" rx="1.9" ry="1.6" transform="rotate(128 18.3 108.3)" opacity="0.33"/><ellipse cx="16.8" cy="103.7" rx="1.8" ry="1.7" transform="rotate(48 16.8 103.7)" opacity="0.34"/><ellipse cx="4.1" cy="30.4" rx="1.7" ry="1.6" transform="rotate(33 4.1 30.4)" opacity="0.43"/><ellipse cx="-1.1" cy="-1.3" rx="1.1" ry="1.1" transform="rotate(30 -1.1 -1.3)" opacity="0.39"/><ellipse cx="-1.1" cy="106.7" rx="1.1" ry="1.1" transform="rotate(30 -1.1 106.7)" opacity="0.39"/><ellipse cx="106.9" cy="-1.3" rx="1.1" ry="1.1" transform="rotate(30 106.9 -1.3)" opacity="0.39"/><ellipse cx="106.9" cy="106.7" rx="1.1" ry="1.1" transform="rotate(30 106.9 106.7)" opacity="0.39"/><ellipse cx="86.4" cy="54.3" rx="1.9" ry="1.5" transform="rotate(48 86.4 54.3)" opacity="0.50"/><ellipse cx="59.3" cy="17.0" rx="1.1" ry="1.0" transform="rotate(9 59.3 17.0)" opacity="0.42"/><ellipse cx="38.4" cy="68.9" rx="1.6" ry="1.2" transform="rotate(109 38.4 68.9)" opacity="0.87"/><ellipse cx="44.3" cy="99.4" rx="2.0" ry="1.7" transform="rotate(77 44.3 99.4)" opacity="0.48"/><ellipse cx="91.2" cy="96.9" rx="1.9" ry="1.5" transform="rotate(64 91.2 96.9)" opacity="0.59"/><ellipse cx="70.9" cy="22.1" rx="2.0" ry="1.7" transform="rotate(48 70.9 22.1)" opacity="0.56"/><ellipse cx="33.8" cy="75.8" rx="1.7" ry="1.5" transform="rotate(86 33.8 75.8)" opacity="0.80"/><ellipse cx="59.2" cy="23.0" rx="1.9" ry="1.7" transform="rotate(88 59.2 23.0)" opacity="0.70"/><ellipse cx="15.5" cy="22.9" rx="1.2" ry="1.1" transform="rotate(52 15.5 22.9)" opacity="0.64"/><ellipse cx="95.1" cy="20.7" rx="1.7" ry="1.4" transform="rotate(11 95.1 20.7)" opacity="0.68"/><ellipse cx="37.7" cy="102.1" rx="1.3" ry="1.1" transform="rotate(85 37.7 102.1)" opacity="0.50"/><ellipse cx="48.6" cy="17.8" rx="1.3" ry="1.2" transform="rotate(142 48.6 17.8)" opacity="0.54"/><ellipse cx="-1.7" cy="67.2" rx="1.4" ry="1.3" transform="rotate(24 -1.7 67.2)" opacity="0.54"/><ellipse cx="106.3" cy="67.2" rx="1.4" ry="1.3" transform="rotate(24 106.3 67.2)" opacity="0.54"/><ellipse cx="92.4" cy="42.0" rx="2.0" ry="1.5" transform="rotate(155 92.4 42.0)" opacity="0.53"/><ellipse cx="98.0" cy="38.9" rx="1.6" ry="1.5" transform="rotate(45 98.0 38.9)" opacity="0.87"/><ellipse cx="105.4" cy="102.4" rx="1.8" ry="1.7" transform="rotate(5 105.4 102.4)" opacity="0.83"/><ellipse cx="47.6" cy="22.6" rx="1.4" ry="1.1" transform="rotate(79 47.6 22.6)" opacity="0.90"/><ellipse cx="69.2" cy="15.7" rx="1.4" ry="1.1" transform="rotate(17 69.2 15.7)" opacity="0.36"/><ellipse cx="1.8" cy="39.2" rx="1.5" ry="1.4" transform="rotate(109 1.8 39.2)" opacity="0.70"/><ellipse cx="109.8" cy="39.2" rx="1.5" ry="1.4" transform="rotate(109 109.8 39.2)" opacity="0.70"/><ellipse cx="57.3" cy="83.3" rx="1.7" ry="1.3" transform="rotate(18 57.3 83.3)" opacity="0.33"/><ellipse cx="18.3" cy="81.7" rx="2.0" ry="1.5" transform="rotate(35 18.3 81.7)" opacity="0.53"/><ellipse cx="76.4" cy="39.0" rx="1.4" ry="1.1" transform="rotate(165 76.4 39.0)" opacity="0.51"/><ellipse cx="50.9" cy="61.6" rx="1.3" ry="1.1" transform="rotate(54 50.9 61.6)" opacity="0.52"/><ellipse cx="13.3" cy="105.0" rx="1.3" ry="1.1" transform="rotate(33 13.3 105.0)" opacity="0.43"/><ellipse cx="1.6" cy="104.9" rx="1.7" ry="1.5" transform="rotate(80 1.6 104.9)" opacity="0.46"/><ellipse cx="109.6" cy="104.9" rx="1.7" ry="1.5" transform="rotate(80 109.6 104.9)" opacity="0.46"/><ellipse cx="61.2" cy="62.4" rx="1.4" ry="1.4" transform="rotate(126 61.2 62.4)" opacity="0.39"/><ellipse cx="58.1" cy="55.7" rx="1.4" ry="1.1" transform="rotate(124 58.1 55.7)" opacity="0.32"/><ellipse cx="20.4" cy="67.6" rx="1.4" ry="1.1" transform="rotate(7 20.4 67.6)" opacity="0.51"/><ellipse cx="1.3" cy="84.2" rx="1.6" ry="1.5" transform="rotate(89 1.3 84.2)" opacity="0.75"/><ellipse cx="109.3" cy="84.2" rx="1.6" ry="1.5" transform="rotate(89 109.3 84.2)" opacity="0.75"/><ellipse cx="85.1" cy="36.2" rx="1.9" ry="1.5" transform="rotate(157 85.1 36.2)" opacity="0.87"/><ellipse cx="28.4" cy="16.9" rx="1.3" ry="1.1" transform="rotate(86 28.4 16.9)" opacity="0.37"/><ellipse cx="37.5" cy="53.3" rx="1.3" ry="1.0" transform="rotate(162 37.5 53.3)" opacity="0.43"/><ellipse cx="4.8" cy="79.8" rx="1.1" ry="1.1" transform="rotate(174 4.8 79.8)" opacity="0.60"/><ellipse cx="46.8" cy="56.4" rx="1.7" ry="1.3" transform="rotate(4 46.8 56.4)" opacity="0.80"/><ellipse cx="95.6" cy="9.0" rx="1.9" ry="1.5" transform="rotate(108 95.6 9.0)" opacity="0.80"/><ellipse cx="99.4" cy="74.3" rx="1.9" ry="1.6" transform="rotate(112 99.4 74.3)" opacity="0.91"/><ellipse cx="101.7" cy="74.1" rx="2.1" ry="1.7" transform="rotate(130 101.7 74.1)" opacity="0.78"/><ellipse cx="99.0" cy="5.1" rx="1.5" ry="1.3" transform="rotate(26 99.0 5.1)" opacity="0.58"/><ellipse cx="9.4" cy="88.7" rx="1.8" ry="1.5" transform="rotate(58 9.4 88.7)" opacity="0.74"/><ellipse cx="-0.1" cy="6.6" rx="2.1" ry="1.6" transform="rotate(151 -0.1 6.6)" opacity="0.75"/><ellipse cx="107.9" cy="6.6" rx="2.1" ry="1.6" transform="rotate(151 107.9 6.6)" opacity="0.75"/><ellipse cx="63.8" cy="27.8" rx="1.4" ry="1.3" transform="rotate(116 63.8 27.8)" opacity="0.45"/><ellipse cx="63.2" cy="85.7" rx="2.0" ry="1.7" transform="rotate(52 63.2 85.7)" opacity="0.89"/><ellipse cx="83.8" cy="89.9" rx="1.8" ry="1.7" transform="rotate(92 83.8 89.9)" opacity="0.65"/><ellipse cx="34.9" cy="96.0" rx="1.6" ry="1.3" transform="rotate(107 34.9 96.0)" opacity="0.35"/><ellipse cx="53.0" cy="104.3" rx="1.4" ry="1.3" transform="rotate(63 53.0 104.3)" opacity="0.75"/><ellipse cx="51.2" cy="98.6" rx="1.6" ry="1.5" transform="rotate(167 51.2 98.6)" opacity="0.66"/><ellipse cx="89.8" cy="100.1" rx="2.0" ry="1.6" transform="rotate(132 89.8 100.1)" opacity="0.32"/><ellipse cx="76.9" cy="78.5" rx="1.9" ry="1.5" transform="rotate(61 76.9 78.5)" opacity="0.43"/><ellipse cx="103.1" cy="58.4" rx="1.1" ry="1.1" transform="rotate(15 103.1 58.4)" opacity="0.70"/><ellipse cx="0.9" cy="66.7" rx="1.4" ry="1.4" transform="rotate(79 0.9 66.7)" opacity="0.89"/><ellipse cx="108.9" cy="66.7" rx="1.4" ry="1.4" transform="rotate(79 108.9 66.7)" opacity="0.89"/><ellipse cx="81.1" cy="12.9" rx="1.4" ry="1.3" transform="rotate(105 81.1 12.9)" opacity="0.80"/><ellipse cx="74.4" cy="67.0" rx="1.4" ry="1.3" transform="rotate(15 74.4 67.0)" opacity="0.65"/><ellipse cx="80.1" cy="47.7" rx="1.7" ry="1.7" transform="rotate(3 80.1 47.7)" opacity="0.80"/><ellipse cx="47.6" cy="41.0" rx="1.9" ry="1.5" transform="rotate(130 47.6 41.0)" opacity="0.71"/><ellipse cx="73.0" cy="100.9" rx="1.8" ry="1.6" transform="rotate(52 73.0 100.9)" opacity="0.48"/><ellipse cx="7.5" cy="5.6" rx="1.4" ry="1.3" transform="rotate(179 7.5 5.6)" opacity="0.77"/><ellipse cx="63.7" cy="78.4" rx="1.5" ry="1.2" transform="rotate(159 63.7 78.4)" opacity="0.38"/><ellipse cx="64.5" cy="13.7" rx="1.2" ry="1.0" transform="rotate(22 64.5 13.7)" opacity="0.63"/><ellipse cx="60.8" cy="55.9" rx="1.3" ry="1.1" transform="rotate(68 60.8 55.9)" opacity="0.51"/><ellipse cx="63.9" cy="76.6" rx="1.9" ry="1.7" transform="rotate(141 63.9 76.6)" opacity="0.74"/><ellipse cx="86.8" cy="78.3" rx="1.7" ry="1.7" transform="rotate(168 86.8 78.3)" opacity="0.89"/><ellipse cx="61.6" cy="103.9" rx="1.3" ry="1.3" transform="rotate(127 61.6 103.9)" opacity="0.87"/><ellipse cx="102.3" cy="95.0" rx="1.1" ry="1.1" transform="rotate(24 102.3 95.0)" opacity="0.30"/><ellipse cx="34.9" cy="61.5" rx="1.5" ry="1.3" transform="rotate(16 34.9 61.5)" opacity="0.57"/><ellipse cx="41.6" cy="67.0" rx="1.9" ry="1.5" transform="rotate(56 41.6 67.0)" opacity="0.57"/><ellipse cx="2.9" cy="24.7" rx="1.6" ry="1.4" transform="rotate(152 2.9 24.7)" opacity="0.88"/><ellipse cx="58.0" cy="66.6" rx="1.5" ry="1.5" transform="rotate(129 58.0 66.6)" opacity="0.71"/><ellipse cx="57.3" cy="27.4" rx="1.8" ry="1.6" transform="rotate(87 57.3 27.4)" opacity="0.35"/><ellipse cx="61.8" cy="42.1" rx="1.4" ry="1.1" transform="rotate(174 61.8 42.1)" opacity="0.54"/><ellipse cx="-1.5" cy="48.6" rx="1.5" ry="1.2" transform="rotate(8 -1.5 48.6)" opacity="0.39"/><ellipse cx="106.5" cy="48.6" rx="1.5" ry="1.2" transform="rotate(8 106.5 48.6)" opacity="0.39"/><ellipse cx="76.3" cy="92.6" rx="1.9" ry="1.6" transform="rotate(62 76.3 92.6)" opacity="0.31"/><ellipse cx="22.9" cy="53.1" rx="1.8" ry="1.5" transform="rotate(145 22.9 53.1)" opacity="0.44"/><ellipse cx="17.0" cy="89.4" rx="1.7" ry="1.5" transform="rotate(116 17.0 89.4)" opacity="0.66"/><ellipse cx="62.2" cy="104.7" rx="1.8" ry="1.5" transform="rotate(89 62.2 104.7)" opacity="0.78"/><ellipse cx="22.4" cy="25.3" rx="1.3" ry="1.0" transform="rotate(67 22.4 25.3)" opacity="0.73"/><ellipse cx="67.9" cy="22.3" rx="1.8" ry="1.5" transform="rotate(72 67.9 22.3)" opacity="0.46"/><ellipse cx="28.0" cy="43.7" rx="1.7" ry="1.6" transform="rotate(35 28.0 43.7)" opacity="0.76"/><ellipse cx="63.2" cy="39.2" rx="1.4" ry="1.2" transform="rotate(150 63.2 39.2)" opacity="0.70"/><ellipse cx="92.0" cy="5.3" rx="1.8" ry="1.5" transform="rotate(81 92.0 5.3)" opacity="0.84"/><ellipse cx="14.4" cy="52.0" rx="1.9" ry="1.5" transform="rotate(23 14.4 52.0)" opacity="0.60"/><ellipse cx="71.7" cy="52.7" rx="1.2" ry="1.1" transform="rotate(173 71.7 52.7)" opacity="0.62"/><ellipse cx="56.9" cy="29.2" rx="1.7" ry="1.4" transform="rotate(86 56.9 29.2)" opacity="0.53"/><ellipse cx="83.1" cy="20.8" rx="1.4" ry="1.3" transform="rotate(89 83.1 20.8)" opacity="0.38"/><ellipse cx="98.7" cy="33.4" rx="1.7" ry="1.6" transform="rotate(158 98.7 33.4)" opacity="0.61"/><ellipse cx="95.6" cy="11.2" rx="1.8" ry="1.6" transform="rotate(25 95.6 11.2)" opacity="0.51"/><ellipse cx="65.5" cy="65.9" rx="1.2" ry="1.0" transform="rotate(8 65.5 65.9)" opacity="0.89"/><ellipse cx="70.2" cy="76.6" rx="1.3" ry="1.0" transform="rotate(60 70.2 76.6)" opacity="0.89"/><ellipse cx="99.7" cy="37.1" rx="1.4" ry="1.1" transform="rotate(173 99.7 37.1)" opacity="0.58"/><ellipse cx="28.6" cy="70.4" rx="1.5" ry="1.4" transform="rotate(151 28.6 70.4)" opacity="0.59"/><ellipse cx="94.1" cy="45.8" rx="1.9" ry="1.6" transform="rotate(52 94.1 45.8)" opacity="0.67"/><ellipse cx="15.9" cy="20.4" rx="1.5" ry="1.4" transform="rotate(0 15.9 20.4)" opacity="0.53"/><ellipse cx="20.5" cy="61.9" rx="1.4" ry="1.1" transform="rotate(107 20.5 61.9)" opacity="0.82"/><ellipse cx="64.8" cy="2.8" rx="1.2" ry="1.1" transform="rotate(177 64.8 2.8)" opacity="0.64"/><ellipse cx="53.6" cy="26.4" rx="1.5" ry="1.4" transform="rotate(122 53.6 26.4)" opacity="0.91"/><ellipse cx="65.1" cy="20.8" rx="1.3" ry="1.1" transform="rotate(118 65.1 20.8)" opacity="0.59"/><ellipse cx="53.6" cy="68.4" rx="1.5" ry="1.3" transform="rotate(34 53.6 68.4)" opacity="0.45"/><ellipse cx="87.0" cy="102.2" rx="1.6" ry="1.3" transform="rotate(125 87.0 102.2)" opacity="0.59"/><ellipse cx="73.1" cy="39.0" rx="2.2" ry="1.7" transform="rotate(101 73.1 39.0)" opacity="0.60"/><ellipse cx="89.5" cy="32.8" rx="1.3" ry="1.2" transform="rotate(110 89.5 32.8)" opacity="0.91"/><ellipse cx="52.1" cy="43.4" rx="1.1" ry="1.0" transform="rotate(155 52.1 43.4)" opacity="0.94"/><ellipse cx="41.4" cy="37.2" rx="1.7" ry="1.5" transform="rotate(174 41.4 37.2)" opacity="0.66"/><ellipse cx="86.6" cy="11.0" rx="1.8" ry="1.5" transform="rotate(37 86.6 11.0)" opacity="0.72"/><ellipse cx="80.3" cy="70.4" rx="1.7" ry="1.4" transform="rotate(31 80.3 70.4)" opacity="0.66"/><ellipse cx="44.1" cy="55.6" rx="1.1" ry="1.1" transform="rotate(179 44.1 55.6)" opacity="0.64"/><ellipse cx="64.2" cy="65.4" rx="1.7" ry="1.6" transform="rotate(164 64.2 65.4)" opacity="0.83"/><ellipse cx="80.5" cy="49.2" rx="1.4" ry="1.3" transform="rotate(90 80.5 49.2)" opacity="0.79"/><ellipse cx="93.8" cy="21.5" rx="1.2" ry="1.1" transform="rotate(150 93.8 21.5)" opacity="0.47"/><ellipse cx="42.3" cy="33.7" rx="1.6" ry="1.5" transform="rotate(23 42.3 33.7)" opacity="0.47"/><ellipse cx="34.4" cy="77.6" rx="1.6" ry="1.4" transform="rotate(86 34.4 77.6)" opacity="0.30"/><ellipse cx="65.8" cy="12.7" rx="1.3" ry="1.3" transform="rotate(122 65.8 12.7)" opacity="0.53"/><ellipse cx="26.3" cy="59.9" rx="1.9" ry="1.5" transform="rotate(155 26.3 59.9)" opacity="0.86"/><ellipse cx="68.1" cy="82.4" rx="1.4" ry="1.3" transform="rotate(3 68.1 82.4)" opacity="0.72"/><ellipse cx="69.4" cy="32.1" rx="1.5" ry="1.3" transform="rotate(179 69.4 32.1)" opacity="0.65"/><ellipse cx="27.4" cy="17.2" rx="1.3" ry="1.3" transform="rotate(80 27.4 17.2)" opacity="0.50"/><ellipse cx="13.3" cy="26.4" rx="2.1" ry="1.6" transform="rotate(168 13.3 26.4)" opacity="0.50"/><ellipse cx="36.0" cy="66.9" rx="1.5" ry="1.2" transform="rotate(71 36.0 66.9)" opacity="0.70"/><ellipse cx="17.1" cy="12.6" rx="1.1" ry="1.1" transform="rotate(50 17.1 12.6)" opacity="0.35"/><ellipse cx="49.9" cy="53.3" rx="1.6" ry="1.6" transform="rotate(97 49.9 53.3)" opacity="0.67"/><ellipse cx="83.5" cy="97.1" rx="1.7" ry="1.7" transform="rotate(103 83.5 97.1)" opacity="0.41"/><ellipse cx="85.4" cy="33.0" rx="1.2" ry="1.1" transform="rotate(112 85.4 33.0)" opacity="0.73"/><ellipse cx="5.3" cy="15.6" rx="2.0" ry="1.6" transform="rotate(130 5.3 15.6)" opacity="0.44"/><ellipse cx="49.2" cy="46.3" rx="1.6" ry="1.3" transform="rotate(133 49.2 46.3)" opacity="0.40"/><ellipse cx="91.1" cy="24.4" rx="1.7" ry="1.5" transform="rotate(142 91.1 24.4)" opacity="0.71"/><ellipse cx="77.7" cy="54.1" rx="1.4" ry="1.3" transform="rotate(90 77.7 54.1)" opacity="0.93"/><ellipse cx="88.2" cy="21.1" rx="2.0" ry="1.5" transform="rotate(138 88.2 21.1)" opacity="0.67"/><ellipse cx="50.7" cy="90.2" rx="1.4" ry="1.2" transform="rotate(98 50.7 90.2)" opacity="0.69"/><ellipse cx="64.4" cy="100.5" rx="1.3" ry="1.3" transform="rotate(140 64.4 100.5)" opacity="0.43"/><ellipse cx="12.3" cy="31.4" rx="1.9" ry="1.6" transform="rotate(100 12.3 31.4)" opacity="0.34"/><ellipse cx="56.8" cy="20.4" rx="1.3" ry="1.1" transform="rotate(81 56.8 20.4)" opacity="0.41"/><ellipse cx="59.9" cy="7.9" rx="1.8" ry="1.7" transform="rotate(14 59.9 7.9)" opacity="0.51"/><ellipse cx="81.7" cy="6.1" rx="1.4" ry="1.1" transform="rotate(9 81.7 6.1)" opacity="0.95"/><ellipse cx="88.6" cy="99.3" rx="1.8" ry="1.6" transform="rotate(163 88.6 99.3)" opacity="0.59"/><ellipse cx="48.5" cy="11.0" rx="1.8" ry="1.4" transform="rotate(162 48.5 11.0)" opacity="0.37"/><ellipse cx="28.6" cy="96.7" rx="1.8" ry="1.4" transform="rotate(58 28.6 96.7)" opacity="0.67"/><ellipse cx="11.3" cy="88.7" rx="1.3" ry="1.2" transform="rotate(179 11.3 88.7)" opacity="0.54"/><ellipse cx="41.3" cy="41.3" rx="1.7" ry="1.4" transform="rotate(76 41.3 41.3)" opacity="0.34"/><ellipse cx="47.9" cy="54.1" rx="1.3" ry="1.2" transform="rotate(139 47.9 54.1)" opacity="0.90"/><ellipse cx="15.5" cy="35.3" rx="2.0" ry="1.6" transform="rotate(54 15.5 35.3)" opacity="0.63"/><ellipse cx="22.9" cy="55.3" rx="1.3" ry="1.2" transform="rotate(99 22.9 55.3)" opacity="0.88"/><ellipse cx="59.1" cy="27.3" rx="2.0" ry="1.6" transform="rotate(59 59.1 27.3)" opacity="0.85"/><ellipse cx="38.0" cy="90.3" rx="2.0" ry="1.6" transform="rotate(151 38.0 90.3)" opacity="0.56"/><ellipse cx="24.3" cy="59.5" rx="2.0" ry="1.6" transform="rotate(77 24.3 59.5)" opacity="0.45"/><ellipse cx="-0.8" cy="62.7" rx="2.1" ry="1.7" transform="rotate(3 -0.8 62.7)" opacity="0.86"/><ellipse cx="107.2" cy="62.7" rx="2.1" ry="1.7" transform="rotate(3 107.2 62.7)" opacity="0.86"/><ellipse cx="56.1" cy="79.7" rx="1.8" ry="1.7" transform="rotate(130 56.1 79.7)" opacity="0.44"/><ellipse cx="57.1" cy="24.3" rx="1.6" ry="1.5" transform="rotate(13 57.1 24.3)" opacity="0.65"/><ellipse cx="30.0" cy="14.8" rx="1.9" ry="1.5" transform="rotate(108 30.0 14.8)" opacity="0.57"/><ellipse cx="32.6" cy="41.0" rx="2.1" ry="1.6" transform="rotate(63 32.6 41.0)" opacity="0.79"/><ellipse cx="51.9" cy="16.6" rx="1.7" ry="1.6" transform="rotate(21 51.9 16.6)" opacity="0.52"/><ellipse cx="3.4" cy="87.1" rx="1.6" ry="1.5" transform="rotate(147 3.4 87.1)" opacity="0.94"/><ellipse cx="78.2" cy="13.2" rx="1.4" ry="1.4" transform="rotate(17 78.2 13.2)" opacity="0.72"/><ellipse cx="81.8" cy="26.4" rx="1.3" ry="1.0" transform="rotate(10 81.8 26.4)" opacity="0.35"/><ellipse cx="87.9" cy="15.9" rx="1.1" ry="1.1" transform="rotate(118 87.9 15.9)" opacity="0.70"/><ellipse cx="102.9" cy="76.5" rx="1.1" ry="1.1" transform="rotate(156 102.9 76.5)" opacity="0.57"/><ellipse cx="32.6" cy="11.8" rx="1.7" ry="1.6" transform="rotate(22 32.6 11.8)" opacity="0.82"/><ellipse cx="87.8" cy="11.1" rx="1.5" ry="1.2" transform="rotate(33 87.8 11.1)" opacity="0.58"/><ellipse cx="83.8" cy="24.3" rx="1.4" ry="1.1" transform="rotate(150 83.8 24.3)" opacity="0.40"/><ellipse cx="86.7" cy="27.0" rx="1.5" ry="1.2" transform="rotate(114 86.7 27.0)" opacity="0.66"/><ellipse cx="91.6" cy="84.3" rx="1.8" ry="1.4" transform="rotate(127 91.6 84.3)" opacity="0.76"/><ellipse cx="18.5" cy="24.4" rx="1.4" ry="1.3" transform="rotate(48 18.5 24.4)" opacity="0.93"/><ellipse cx="31.8" cy="76.5" rx="1.9" ry="1.6" transform="rotate(152 31.8 76.5)" opacity="0.94"/><ellipse cx="1.5" cy="13.1" rx="2.0" ry="1.7" transform="rotate(125 1.5 13.1)" opacity="0.37"/><ellipse cx="109.5" cy="13.1" rx="2.0" ry="1.7" transform="rotate(125 109.5 13.1)" opacity="0.37"/><ellipse cx="56.4" cy="49.9" rx="1.4" ry="1.1" transform="rotate(109 56.4 49.9)" opacity="0.90"/><ellipse cx="42.1" cy="51.9" rx="1.4" ry="1.4" transform="rotate(152 42.1 51.9)" opacity="0.36"/><ellipse cx="3.4" cy="38.8" rx="1.9" ry="1.6" transform="rotate(61 3.4 38.8)" opacity="0.69"/><ellipse cx="27.9" cy="21.8" rx="1.3" ry="1.1" transform="rotate(172 27.9 21.8)" opacity="0.87"/><ellipse cx="74.6" cy="55.9" rx="1.4" ry="1.1" transform="rotate(160 74.6 55.9)" opacity="0.76"/><ellipse cx="0.8" cy="63.1" rx="2.1" ry="1.7" transform="rotate(155 0.8 63.1)" opacity="0.36"/><ellipse cx="108.8" cy="63.1" rx="2.1" ry="1.7" transform="rotate(155 108.8 63.1)" opacity="0.36"/><ellipse cx="97.4" cy="30.1" rx="1.4" ry="1.2" transform="rotate(90 97.4 30.1)" opacity="0.47"/><ellipse cx="-1.3" cy="76.9" rx="1.5" ry="1.4" transform="rotate(164 -1.3 76.9)" opacity="0.80"/><ellipse cx="106.7" cy="76.9" rx="1.5" ry="1.4" transform="rotate(164 106.7 76.9)" opacity="0.80"/><ellipse cx="41.7" cy="46.3" rx="1.3" ry="1.0" transform="rotate(50 41.7 46.3)" opacity="0.35"/><ellipse cx="66.7" cy="62.0" rx="1.9" ry="1.5" transform="rotate(146 66.7 62.0)" opacity="0.77"/><ellipse cx="90.1" cy="22.0" rx="1.5" ry="1.3" transform="rotate(145 90.1 22.0)" opacity="0.67"/><ellipse cx="17.9" cy="50.2" rx="1.9" ry="1.5" transform="rotate(67 17.9 50.2)" opacity="0.42"/><ellipse cx="29.3" cy="61.2" rx="1.5" ry="1.2" transform="rotate(100 29.3 61.2)" opacity="0.93"/><ellipse cx="48.2" cy="29.2" rx="1.5" ry="1.2" transform="rotate(103 48.2 29.2)" opacity="0.89"/><ellipse cx="93.3" cy="61.8" rx="1.6" ry="1.5" transform="rotate(30 93.3 61.8)" opacity="0.32"/><ellipse cx="68.1" cy="27.2" rx="1.6" ry="1.5" transform="rotate(179 68.1 27.2)" opacity="0.45"/><ellipse cx="20.3" cy="86.5" rx="2.0" ry="1.7" transform="rotate(45 20.3 86.5)" opacity="0.71"/><ellipse cx="95.0" cy="2.9" rx="1.7" ry="1.7" transform="rotate(7 95.0 2.9)" opacity="0.70"/><ellipse cx="24.1" cy="16.2" rx="2.0" ry="1.5" transform="rotate(82 24.1 16.2)" opacity="0.52"/><ellipse cx="53.3" cy="-0.1" rx="1.8" ry="1.6" transform="rotate(77 53.3 -0.1)" opacity="0.39"/><ellipse cx="53.3" cy="107.9" rx="1.8" ry="1.6" transform="rotate(77 53.3 107.9)" opacity="0.39"/><ellipse cx="26.8" cy="79.9" rx="1.4" ry="1.2" transform="rotate(32 26.8 79.9)" opacity="0.31"/><ellipse cx="56.7" cy="62.1" rx="1.3" ry="1.2" transform="rotate(164 56.7 62.1)" opacity="0.59"/><ellipse cx="32.4" cy="101.3" rx="1.1" ry="1.0" transform="rotate(44 32.4 101.3)" opacity="0.67"/><ellipse cx="0.6" cy="31.4" rx="1.2" ry="1.1" transform="rotate(101 0.6 31.4)" opacity="0.87"/><ellipse cx="108.6" cy="31.4" rx="1.2" ry="1.1" transform="rotate(101 108.6 31.4)" opacity="0.87"/><ellipse cx="11.1" cy="24.3" rx="1.9" ry="1.5" transform="rotate(98 11.1 24.3)" opacity="0.57"/><ellipse cx="39.1" cy="24.4" rx="1.7" ry="1.4" transform="rotate(60 39.1 24.4)" opacity="0.42"/><ellipse cx="96.4" cy="68.1" rx="1.7" ry="1.5" transform="rotate(53 96.4 68.1)" opacity="0.70"/><ellipse cx="64.0" cy="56.5" rx="1.6" ry="1.4" transform="rotate(157 64.0 56.5)" opacity="0.54"/><ellipse cx="95.0" cy="38.2" rx="1.2" ry="1.1" transform="rotate(163 95.0 38.2)" opacity="0.89"/><ellipse cx="33.7" cy="55.1" rx="2.1" ry="1.6" transform="rotate(98 33.7 55.1)" opacity="0.68"/><ellipse cx="-1.6" cy="95.2" rx="1.5" ry="1.2" transform="rotate(158 -1.6 95.2)" opacity="0.42"/><ellipse cx="106.4" cy="95.2" rx="1.5" ry="1.2" transform="rotate(158 106.4 95.2)" opacity="0.42"/><ellipse cx="44.0" cy="88.6" rx="1.5" ry="1.5" transform="rotate(96 44.0 88.6)" opacity="0.83"/><ellipse cx="94.9" cy="25.3" rx="2.0" ry="1.6" transform="rotate(28 94.9 25.3)" opacity="0.47"/><ellipse cx="89.7" cy="10.3" rx="1.2" ry="1.1" transform="rotate(97 89.7 10.3)" opacity="0.66"/><ellipse cx="22.3" cy="53.9" rx="1.5" ry="1.3" transform="rotate(17 22.3 53.9)" opacity="0.50"/><ellipse cx="61.4" cy="1.0" rx="1.7" ry="1.7" transform="rotate(4 61.4 1.0)" opacity="0.42"/><ellipse cx="61.4" cy="109.0" rx="1.7" ry="1.7" transform="rotate(4 61.4 109.0)" opacity="0.42"/><ellipse cx="10.9" cy="62.3" rx="2.1" ry="1.7" transform="rotate(118 10.9 62.3)" opacity="0.95"/><ellipse cx="101.2" cy="43.1" rx="1.9" ry="1.5" transform="rotate(152 101.2 43.1)" opacity="0.86"/><ellipse cx="40.4" cy="58.9" rx="1.2" ry="1.1" transform="rotate(47 40.4 58.9)" opacity="0.45"/><ellipse cx="83.1" cy="20.0" rx="1.7" ry="1.5" transform="rotate(125 83.1 20.0)" opacity="0.60"/><ellipse cx="45.6" cy="11.0" rx="1.2" ry="1.0" transform="rotate(35 45.6 11.0)" opacity="0.88"/><ellipse cx="70.9" cy="88.2" rx="1.6" ry="1.3" transform="rotate(45 70.9 88.2)" opacity="0.58"/><ellipse cx="30.0" cy="60.9" rx="1.7" ry="1.4" transform="rotate(86 30.0 60.9)" opacity="0.83"/><ellipse cx="43.5" cy="12.3" rx="1.6" ry="1.4" transform="rotate(92 43.5 12.3)" opacity="0.49"/><ellipse cx="91.7" cy="73.3" rx="1.9" ry="1.7" transform="rotate(44 91.7 73.3)" opacity="0.59"/><ellipse cx="100.0" cy="6.9" rx="1.7" ry="1.7" transform="rotate(43 100.0 6.9)" opacity="0.77"/><ellipse cx="89.0" cy="53.6" rx="1.3" ry="1.1" transform="rotate(170 89.0 53.6)" opacity="0.78"/><ellipse cx="23.4" cy="4.1" rx="1.4" ry="1.1" transform="rotate(28 23.4 4.1)" opacity="0.79"/><ellipse cx="26.6" cy="94.7" rx="2.1" ry="1.7" transform="rotate(53 26.6 94.7)" opacity="0.55"/><ellipse cx="18.0" cy="20.1" rx="1.7" ry="1.6" transform="rotate(78 18.0 20.1)" opacity="0.53"/><ellipse cx="2.6" cy="105.6" rx="1.5" ry="1.4" transform="rotate(45 2.6 105.6)" opacity="0.52"/><ellipse cx="53.0" cy="61.1" rx="1.2" ry="1.0" transform="rotate(91 53.0 61.1)" opacity="0.54"/><ellipse cx="22.1" cy="5.3" rx="1.4" ry="1.4" transform="rotate(27 22.1 5.3)" opacity="0.44"/><ellipse cx="15.9" cy="73.6" rx="1.4" ry="1.1" transform="rotate(145 15.9 73.6)" opacity="0.92"/><ellipse cx="31.7" cy="53.5" rx="1.3" ry="1.2" transform="rotate(116 31.7 53.5)" opacity="0.93"/><ellipse cx="104.3" cy="18.3" rx="1.7" ry="1.3" transform="rotate(76 104.3 18.3)" opacity="0.41"/><ellipse cx="33.6" cy="7.9" rx="1.7" ry="1.6" transform="rotate(107 33.6 7.9)" opacity="0.49"/><ellipse cx="42.3" cy="83.7" rx="1.3" ry="1.3" transform="rotate(85 42.3 83.7)" opacity="0.48"/><ellipse cx="63.6" cy="9.2" rx="1.8" ry="1.5" transform="rotate(119 63.6 9.2)" opacity="0.47"/><ellipse cx="92.5" cy="81.5" rx="1.4" ry="1.1" transform="rotate(17 92.5 81.5)" opacity="0.86"/><ellipse cx="90.4" cy="54.3" rx="1.5" ry="1.2" transform="rotate(95 90.4 54.3)" opacity="0.65"/><ellipse cx="7.7" cy="94.0" rx="1.3" ry="1.1" transform="rotate(13 7.7 94.0)" opacity="0.46"/><ellipse cx="3.4" cy="95.5" rx="1.5" ry="1.2" transform="rotate(36 3.4 95.5)" opacity="0.79"/><ellipse cx="99.2" cy="85.4" rx="1.1" ry="1.1" transform="rotate(114 99.2 85.4)" opacity="0.59"/><ellipse cx="43.6" cy="17.4" rx="1.5" ry="1.4" transform="rotate(132 43.6 17.4)" opacity="0.89"/><ellipse cx="6.1" cy="52.4" rx="1.6" ry="1.3" transform="rotate(1 6.1 52.4)" opacity="0.77"/><ellipse cx="44.2" cy="49.5" rx="1.6" ry="1.5" transform="rotate(114 44.2 49.5)" opacity="0.36"/><ellipse cx="103.8" cy="86.8" rx="1.7" ry="1.3" transform="rotate(132 103.8 86.8)" opacity="0.81"/><ellipse cx="3.3" cy="28.9" rx="1.8" ry="1.7" transform="rotate(95 3.3 28.9)" opacity="0.90"/><ellipse cx="17.7" cy="78.7" rx="1.6" ry="1.4" transform="rotate(9 17.7 78.7)" opacity="0.77"/><ellipse cx="94.8" cy="2.3" rx="1.6" ry="1.3" transform="rotate(36 94.8 2.3)" opacity="0.47"/><ellipse cx="65.4" cy="4.2" rx="1.2" ry="1.2" transform="rotate(160 65.4 4.2)" opacity="0.34"/><ellipse cx="42.3" cy="87.4" rx="1.2" ry="1.0" transform="rotate(64 42.3 87.4)" opacity="0.76"/><ellipse cx="83.0" cy="86.6" rx="1.5" ry="1.3" transform="rotate(70 83.0 86.6)" opacity="0.92"/><ellipse cx="18.0" cy="77.9" rx="1.1" ry="1.0" transform="rotate(85 18.0 77.9)" opacity="0.69"/><ellipse cx="47.9" cy="49.4" rx="1.2" ry="1.1" transform="rotate(142 47.9 49.4)" opacity="0.72"/><ellipse cx="73.9" cy="91.2" rx="1.1" ry="1.1" transform="rotate(11 73.9 91.2)" opacity="0.60"/><ellipse cx="96.6" cy="14.7" rx="1.5" ry="1.3" transform="rotate(13 96.6 14.7)" opacity="0.70"/><ellipse cx="9.6" cy="45.1" rx="1.5" ry="1.3" transform="rotate(104 9.6 45.1)" opacity="0.58"/><ellipse cx="58.4" cy="49.9" rx="1.4" ry="1.3" transform="rotate(30 58.4 49.9)" opacity="0.43"/><ellipse cx="8.7" cy="93.0" rx="1.4" ry="1.2" transform="rotate(48 8.7 93.0)" opacity="0.31"/><ellipse cx="16.2" cy="43.0" rx="1.1" ry="1.0" transform="rotate(68 16.2 43.0)" opacity="0.77"/><ellipse cx="38.5" cy="57.8" rx="1.2" ry="1.1" transform="rotate(123 38.5 57.8)" opacity="0.87"/><ellipse cx="64.6" cy="29.3" rx="1.5" ry="1.2" transform="rotate(90 64.6 29.3)" opacity="0.93"/><ellipse cx="45.0" cy="17.1" rx="1.7" ry="1.7" transform="rotate(153 45.0 17.1)" opacity="0.76"/><ellipse cx="76.6" cy="81.0" rx="1.2" ry="1.1" transform="rotate(168 76.6 81.0)" opacity="0.74"/><ellipse cx="-1.3" cy="19.3" rx="1.6" ry="1.5" transform="rotate(12 -1.3 19.3)" opacity="0.82"/><ellipse cx="106.7" cy="19.3" rx="1.6" ry="1.5" transform="rotate(12 106.7 19.3)" opacity="0.82"/><ellipse cx="64.4" cy="20.0" rx="1.9" ry="1.6" transform="rotate(178 64.4 20.0)" opacity="0.72"/><ellipse cx="76.9" cy="26.5" rx="1.5" ry="1.2" transform="rotate(136 76.9 26.5)" opacity="0.59"/><ellipse cx="99.5" cy="44.1" rx="1.3" ry="1.1" transform="rotate(41 99.5 44.1)" opacity="0.35"/><ellipse cx="55.7" cy="60.8" rx="1.8" ry="1.6" transform="rotate(62 55.7 60.8)" opacity="0.37"/><ellipse cx="58.4" cy="70.2" rx="1.2" ry="1.1" transform="rotate(83 58.4 70.2)" opacity="0.83"/><ellipse cx="15.0" cy="37.5" rx="1.7" ry="1.3" transform="rotate(141 15.0 37.5)" opacity="0.82"/><ellipse cx="48.6" cy="94.7" rx="1.2" ry="1.0" transform="rotate(108 48.6 94.7)" opacity="0.45"/><ellipse cx="28.8" cy="69.8" rx="1.2" ry="1.1" transform="rotate(134 28.8 69.8)" opacity="0.33"/><ellipse cx="58.9" cy="13.7" rx="1.3" ry="1.1" transform="rotate(171 58.9 13.7)" opacity="0.92"/><ellipse cx="2.8" cy="53.1" rx="1.2" ry="1.1" transform="rotate(38 2.8 53.1)" opacity="0.55"/><ellipse cx="27.8" cy="-1.8" rx="1.4" ry="1.1" transform="rotate(31 27.8 -1.8)" opacity="0.49"/><ellipse cx="27.8" cy="106.2" rx="1.4" ry="1.1" transform="rotate(31 27.8 106.2)" opacity="0.49"/><ellipse cx="65.0" cy="31.5" rx="1.5" ry="1.3" transform="rotate(73 65.0 31.5)" opacity="0.46"/><ellipse cx="62.8" cy="15.1" rx="1.5" ry="1.5" transform="rotate(128 62.8 15.1)" opacity="0.87"/><ellipse cx="48.9" cy="102.5" rx="1.8" ry="1.7" transform="rotate(96 48.9 102.5)" opacity="0.75"/><ellipse cx="54.1" cy="69.7" rx="1.7" ry="1.6" transform="rotate(54 54.1 69.7)" opacity="0.60"/><ellipse cx="88.0" cy="10.7" rx="1.5" ry="1.3" transform="rotate(54 88.0 10.7)" opacity="0.59"/><ellipse cx="1.5" cy="31.9" rx="1.3" ry="1.1" transform="rotate(154 1.5 31.9)" opacity="0.74"/><ellipse cx="109.5" cy="31.9" rx="1.3" ry="1.1" transform="rotate(154 109.5 31.9)" opacity="0.74"/><ellipse cx="57.9" cy="53.0" rx="1.2" ry="1.2" transform="rotate(52 57.9 53.0)" opacity="0.60"/><ellipse cx="46.8" cy="64.5" rx="1.4" ry="1.3" transform="rotate(125 46.8 64.5)" opacity="0.87"/><ellipse cx="80.6" cy="69.1" rx="2.0" ry="1.7" transform="rotate(75 80.6 69.1)" opacity="0.45"/><ellipse cx="54.1" cy="50.8" rx="1.2" ry="1.1" transform="rotate(47 54.1 50.8)" opacity="0.57"/><ellipse cx="66.9" cy="6.1" rx="1.2" ry="1.1" transform="rotate(20 66.9 6.1)" opacity="0.76"/><ellipse cx="91.1" cy="1.1" rx="1.3" ry="1.3" transform="rotate(152 91.1 1.1)" opacity="0.78"/><ellipse cx="91.1" cy="109.1" rx="1.3" ry="1.3" transform="rotate(152 91.1 109.1)" opacity="0.78"/><ellipse cx="104.6" cy="7.5" rx="1.3" ry="1.2" transform="rotate(116 104.6 7.5)" opacity="0.93"/><ellipse cx="86.6" cy="0.4" rx="1.7" ry="1.3" transform="rotate(20 86.6 0.4)" opacity="0.51"/><ellipse cx="86.6" cy="108.4" rx="1.7" ry="1.3" transform="rotate(20 86.6 108.4)" opacity="0.51"/><ellipse cx="79.0" cy="87.5" rx="1.8" ry="1.7" transform="rotate(60 79.0 87.5)" opacity="0.67"/><ellipse cx="88.8" cy="75.5" rx="1.4" ry="1.3" transform="rotate(33 88.8 75.5)" opacity="0.68"/><ellipse cx="105.4" cy="71.2" rx="1.3" ry="1.1" transform="rotate(88 105.4 71.2)" opacity="0.66"/><ellipse cx="34.7" cy="42.8" rx="1.7" ry="1.5" transform="rotate(154 34.7 42.8)" opacity="0.69"/><ellipse cx="29.4" cy="82.7" rx="1.6" ry="1.5" transform="rotate(35 29.4 82.7)" opacity="0.74"/><ellipse cx="42.9" cy="36.2" rx="1.8" ry="1.7" transform="rotate(75 42.9 36.2)" opacity="0.89"/><ellipse cx="36.9" cy="5.6" rx="2.0" ry="1.6" transform="rotate(111 36.9 5.6)" opacity="0.64"/><ellipse cx="58.9" cy="67.5" rx="2.2" ry="1.7" transform="rotate(58 58.9 67.5)" opacity="0.71"/><ellipse cx="49.3" cy="21.9" rx="1.4" ry="1.3" transform="rotate(78 49.3 21.9)" opacity="0.37"/><ellipse cx="104.6" cy="11.3" rx="1.3" ry="1.1" transform="rotate(145 104.6 11.3)" opacity="0.93"/><ellipse cx="19.5" cy="40.3" rx="1.6" ry="1.4" transform="rotate(100 19.5 40.3)" opacity="0.61"/><ellipse cx="38.6" cy="54.3" rx="1.3" ry="1.1" transform="rotate(124 38.6 54.3)" opacity="0.37"/><ellipse cx="34.2" cy="36.4" rx="2.0" ry="1.7" transform="rotate(20 34.2 36.4)" opacity="0.83"/><ellipse cx="66.2" cy="7.8" rx="1.5" ry="1.4" transform="rotate(145 66.2 7.8)" opacity="0.77"/><ellipse cx="74.0" cy="55.5" rx="1.2" ry="1.1" transform="rotate(100 74.0 55.5)" opacity="0.38"/><ellipse cx="41.6" cy="17.9" rx="1.2" ry="1.1" transform="rotate(130 41.6 17.9)" opacity="0.59"/><ellipse cx="24.1" cy="0.6" rx="1.6" ry="1.4" transform="rotate(130 24.1 0.6)" opacity="0.57"/><ellipse cx="24.1" cy="108.6" rx="1.6" ry="1.4" transform="rotate(130 24.1 108.6)" opacity="0.57"/><ellipse cx="81.2" cy="45.9" rx="1.5" ry="1.4" transform="rotate(139 81.2 45.9)" opacity="0.83"/><ellipse cx="97.9" cy="103.3" rx="1.7" ry="1.5" transform="rotate(134 97.9 103.3)" opacity="0.70"/><ellipse cx="23.1" cy="80.4" rx="1.8" ry="1.6" transform="rotate(132 23.1 80.4)" opacity="0.48"/><ellipse cx="27.0" cy="68.9" rx="1.6" ry="1.5" transform="rotate(21 27.0 68.9)" opacity="0.62"/><ellipse cx="103.6" cy="25.3" rx="1.2" ry="1.2" transform="rotate(63 103.6 25.3)" opacity="0.63"/><ellipse cx="29.2" cy="98.0" rx="1.2" ry="1.2" transform="rotate(76 29.2 98.0)" opacity="0.94"/><ellipse cx="80.6" cy="90.6" rx="1.3" ry="1.1" transform="rotate(26 80.6 90.6)" opacity="0.58"/><ellipse cx="30.6" cy="40.9" rx="1.6" ry="1.5" transform="rotate(50 30.6 40.9)" opacity="0.34"/><ellipse cx="60.0" cy="54.6" rx="1.9" ry="1.6" transform="rotate(146 60.0 54.6)" opacity="0.46"/><ellipse cx="103.7" cy="64.5" rx="1.9" ry="1.5" transform="rotate(113 103.7 64.5)" opacity="0.88"/><ellipse cx="37.0" cy="12.7" rx="1.3" ry="1.2" transform="rotate(131 37.0 12.7)" opacity="0.51"/><ellipse cx="27.2" cy="34.1" rx="1.6" ry="1.3" transform="rotate(0 27.2 34.1)" opacity="0.31"/><ellipse cx="9.4" cy="99.4" rx="1.8" ry="1.6" transform="rotate(102 9.4 99.4)" opacity="0.84"/><ellipse cx="44.6" cy="2.0" rx="1.5" ry="1.2" transform="rotate(13 44.6 2.0)" opacity="0.52"/><ellipse cx="4.8" cy="40.8" rx="1.3" ry="1.0" transform="rotate(22 4.8 40.8)" opacity="0.39"/><ellipse cx="6.7" cy="105.1" rx="1.8" ry="1.6" transform="rotate(1 6.7 105.1)" opacity="0.50"/><ellipse cx="70.0" cy="44.8" rx="2.0" ry="1.6" transform="rotate(52 70.0 44.8)" opacity="0.52"/><ellipse cx="6.8" cy="19.9" rx="1.3" ry="1.0" transform="rotate(108 6.8 19.9)" opacity="0.39"/><ellipse cx="82.0" cy="25.5" rx="1.3" ry="1.2" transform="rotate(36 82.0 25.5)" opacity="0.47"/><ellipse cx="90.4" cy="48.3" rx="1.8" ry="1.4" transform="rotate(14 90.4 48.3)" opacity="0.63"/><ellipse cx="86.5" cy="57.5" rx="1.9" ry="1.5" transform="rotate(132 86.5 57.5)" opacity="0.44"/><ellipse cx="83.3" cy="1.2" rx="2.0" ry="1.6" transform="rotate(11 83.3 1.2)" opacity="0.59"/><ellipse cx="83.3" cy="109.2" rx="2.0" ry="1.6" transform="rotate(11 83.3 109.2)" opacity="0.59"/><ellipse cx="-1.6" cy="46.2" rx="1.5" ry="1.4" transform="rotate(82 -1.6 46.2)" opacity="0.54"/><ellipse cx="106.4" cy="46.2" rx="1.5" ry="1.4" transform="rotate(82 106.4 46.2)" opacity="0.54"/><ellipse cx="82.7" cy="96.1" rx="1.4" ry="1.4" transform="rotate(30 82.7 96.1)" opacity="0.64"/><ellipse cx="99.1" cy="15.0" rx="1.1" ry="1.0" transform="rotate(63 99.1 15.0)" opacity="0.77"/><ellipse cx="52.6" cy="55.7" rx="1.3" ry="1.2" transform="rotate(4 52.6 55.7)" opacity="0.66"/><ellipse cx="21.0" cy="16.0" rx="1.7" ry="1.7" transform="rotate(52 21.0 16.0)" opacity="0.31"/><ellipse cx="5.2" cy="23.0" rx="1.3" ry="1.3" transform="rotate(117 5.2 23.0)" opacity="0.31"/><ellipse cx="50.8" cy="70.7" rx="1.4" ry="1.1" transform="rotate(86 50.8 70.7)" opacity="0.89"/><ellipse cx="24.2" cy="39.9" rx="1.3" ry="1.2" transform="rotate(125 24.2 39.9)" opacity="0.84"/><ellipse cx="97.2" cy="66.4" rx="1.6" ry="1.6" transform="rotate(44 97.2 66.4)" opacity="0.72"/><ellipse cx="83.0" cy="4.2" rx="1.2" ry="1.0" transform="rotate(19 83.0 4.2)" opacity="0.93"/><ellipse cx="48.5" cy="58.9" rx="1.6" ry="1.4" transform="rotate(92 48.5 58.9)" opacity="0.74"/><ellipse cx="7.3" cy="32.2" rx="1.6" ry="1.3" transform="rotate(30 7.3 32.2)" opacity="0.51"/><ellipse cx="82.2" cy="30.8" rx="2.0" ry="1.7" transform="rotate(128 82.2 30.8)" opacity="0.77"/><ellipse cx="87.0" cy="56.0" rx="2.0" ry="1.5" transform="rotate(88 87.0 56.0)" opacity="0.52"/><ellipse cx="2.3" cy="-0.3" rx="1.1" ry="1.0" transform="rotate(60 2.3 -0.3)" opacity="0.49"/><ellipse cx="2.3" cy="107.7" rx="1.1" ry="1.0" transform="rotate(60 2.3 107.7)" opacity="0.49"/><ellipse cx="36.9" cy="31.2" rx="1.7" ry="1.3" transform="rotate(176 36.9 31.2)" opacity="0.71"/><ellipse cx="67.7" cy="24.2" rx="1.3" ry="1.2" transform="rotate(45 67.7 24.2)" opacity="0.32"/><ellipse cx="98.7" cy="90.8" rx="2.0" ry="1.7" transform="rotate(107 98.7 90.8)" opacity="0.50"/><ellipse cx="89.9" cy="65.2" rx="1.8" ry="1.6" transform="rotate(150 89.9 65.2)" opacity="0.73"/><ellipse cx="44.3" cy="11.3" rx="2.0" ry="1.6" transform="rotate(143 44.3 11.3)" opacity="0.54"/><ellipse cx="74.4" cy="35.1" rx="1.7" ry="1.4" transform="rotate(80 74.4 35.1)" opacity="0.56"/><ellipse cx="43.1" cy="23.1" rx="1.6" ry="1.4" transform="rotate(145 43.1 23.1)" opacity="0.32"/><ellipse cx="73.2" cy="73.5" rx="1.4" ry="1.2" transform="rotate(91 73.2 73.5)" opacity="0.88"/><ellipse cx="19.7" cy="41.1" rx="1.1" ry="1.0" transform="rotate(91 19.7 41.1)" opacity="0.54"/><ellipse cx="3.3" cy="5.7" rx="1.1" ry="1.1" transform="rotate(78 3.3 5.7)" opacity="0.44"/><ellipse cx="12.4" cy="21.9" rx="1.3" ry="1.1" transform="rotate(36 12.4 21.9)" opacity="0.85"/><ellipse cx="25.0" cy="70.3" rx="1.3" ry="1.2" transform="rotate(23 25.0 70.3)" opacity="0.58"/><ellipse cx="8.7" cy="88.4" rx="1.4" ry="1.3" transform="rotate(153 8.7 88.4)" opacity="0.73"/><ellipse cx="11.1" cy="24.6" rx="1.3" ry="1.1" transform="rotate(79 11.1 24.6)" opacity="0.54"/><ellipse cx="95.8" cy="102.4" rx="1.4" ry="1.3" transform="rotate(110 95.8 102.4)" opacity="0.63"/><ellipse cx="97.3" cy="50.9" rx="1.4" ry="1.4" transform="rotate(159 97.3 50.9)" opacity="0.62"/><ellipse cx="89.1" cy="59.6" rx="1.2" ry="1.1" transform="rotate(8 89.1 59.6)" opacity="0.95"/><ellipse cx="51.3" cy="12.7" rx="1.5" ry="1.4" transform="rotate(85 51.3 12.7)" opacity="0.49"/><ellipse cx="97.3" cy="62.2" rx="1.7" ry="1.5" transform="rotate(155 97.3 62.2)" opacity="0.73"/><ellipse cx="86.9" cy="10.2" rx="1.2" ry="1.1" transform="rotate(150 86.9 10.2)" opacity="0.67"/><ellipse cx="16.4" cy="33.0" rx="1.2" ry="1.1" transform="rotate(142 16.4 33.0)" opacity="0.86"/><ellipse cx="23.5" cy="4.8" rx="1.6" ry="1.3" transform="rotate(82 23.5 4.8)" opacity="0.80"/><ellipse cx="51.2" cy="63.2" rx="1.8" ry="1.7" transform="rotate(62 51.2 63.2)" opacity="0.53"/><ellipse cx="49.5" cy="21.3" rx="1.1" ry="1.1" transform="rotate(97 49.5 21.3)" opacity="0.89"/><ellipse cx="22.7" cy="56.4" rx="1.7" ry="1.3" transform="rotate(68 22.7 56.4)" opacity="0.80"/><ellipse cx="103.6" cy="104.1" rx="1.2" ry="1.0" transform="rotate(132 103.6 104.1)" opacity="0.39"/><ellipse cx="28.9" cy="57.0" rx="1.8" ry="1.6" transform="rotate(57 28.9 57.0)" opacity="0.47"/><ellipse cx="45.5" cy="79.9" rx="1.9" ry="1.5" transform="rotate(78 45.5 79.9)" opacity="0.82"/><ellipse cx="92.3" cy="3.5" rx="2.0" ry="1.6" transform="rotate(22 92.3 3.5)" opacity="0.64"/><ellipse cx="13.1" cy="25.1" rx="1.3" ry="1.3" transform="rotate(79 13.1 25.1)" opacity="0.42"/><ellipse cx="54.5" cy="52.5" rx="1.5" ry="1.3" transform="rotate(129 54.5 52.5)" opacity="0.42"/><ellipse cx="44.5" cy="59.1" rx="1.7" ry="1.6" transform="rotate(85 44.5 59.1)" opacity="0.63"/><ellipse cx="25.0" cy="36.0" rx="1.7" ry="1.5" transform="rotate(9 25.0 36.0)" opacity="0.40"/><ellipse cx="36.2" cy="84.5" rx="1.1" ry="1.0" transform="rotate(27 36.2 84.5)" opacity="0.45"/><ellipse cx="4.2" cy="39.8" rx="1.6" ry="1.6" transform="rotate(51 4.2 39.8)" opacity="0.47"/><ellipse cx="68.9" cy="16.1" rx="1.8" ry="1.4" transform="rotate(145 68.9 16.1)" opacity="0.70"/><ellipse cx="74.3" cy="62.2" rx="1.8" ry="1.6" transform="rotate(37 74.3 62.2)" opacity="0.90"/><ellipse cx="58.6" cy="72.5" rx="1.8" ry="1.4" transform="rotate(169 58.6 72.5)" opacity="0.31"/><ellipse cx="87.9" cy="82.3" rx="1.9" ry="1.5" transform="rotate(56 87.9 82.3)" opacity="0.76"/><ellipse cx="34.0" cy="98.4" rx="1.5" ry="1.2" transform="rotate(163 34.0 98.4)" opacity="0.60"/><ellipse cx="5.2" cy="98.3" rx="1.7" ry="1.4" transform="rotate(0 5.2 98.3)" opacity="0.83"/><ellipse cx="105.6" cy="28.1" rx="1.7" ry="1.7" transform="rotate(117 105.6 28.1)" opacity="0.90"/><ellipse cx="18.1" cy="15.5" rx="1.6" ry="1.4" transform="rotate(110 18.1 15.5)" opacity="0.87"/><ellipse cx="69.2" cy="13.7" rx="1.6" ry="1.5" transform="rotate(117 69.2 13.7)" opacity="0.49"/><ellipse cx="18.8" cy="46.4" rx="1.8" ry="1.6" transform="rotate(111 18.8 46.4)" opacity="0.50"/><ellipse cx="96.2" cy="64.4" rx="1.9" ry="1.7" transform="rotate(121 96.2 64.4)" opacity="0.33"/><ellipse cx="84.8" cy="67.1" rx="1.7" ry="1.6" transform="rotate(48 84.8 67.1)" opacity="0.84"/><ellipse cx="35.8" cy="92.7" rx="1.7" ry="1.7" transform="rotate(45 35.8 92.7)" opacity="0.55"/><ellipse cx="4.4" cy="54.1" rx="1.5" ry="1.3" transform="rotate(106 4.4 54.1)" opacity="0.94"/><ellipse cx="21.8" cy="105.5" rx="2.0" ry="1.7" transform="rotate(140 21.8 105.5)" opacity="0.40"/><ellipse cx="19.1" cy="90.4" rx="1.7" ry="1.4" transform="rotate(57 19.1 90.4)" opacity="0.77"/><ellipse cx="27.0" cy="60.7" rx="1.4" ry="1.2" transform="rotate(108 27.0 60.7)" opacity="0.43"/><ellipse cx="88.7" cy="14.0" rx="2.0" ry="1.7" transform="rotate(25 88.7 14.0)" opacity="0.51"/><ellipse cx="26.3" cy="94.9" rx="1.4" ry="1.2" transform="rotate(138 26.3 94.9)" opacity="0.65"/><ellipse cx="76.9" cy="53.8" rx="2.0" ry="1.6" transform="rotate(174 76.9 53.8)" opacity="0.40"/><ellipse cx="55.1" cy="50.8" rx="1.6" ry="1.3" transform="rotate(67 55.1 50.8)" opacity="0.42"/><ellipse cx="29.7" cy="63.5" rx="1.8" ry="1.5" transform="rotate(154 29.7 63.5)" opacity="0.42"/><ellipse cx="87.1" cy="17.7" rx="1.7" ry="1.7" transform="rotate(78 87.1 17.7)" opacity="0.90"/><ellipse cx="42.6" cy="83.0" rx="1.9" ry="1.6" transform="rotate(48 42.6 83.0)" opacity="0.43"/><ellipse cx="99.7" cy="57.9" rx="1.5" ry="1.2" transform="rotate(172 99.7 57.9)" opacity="0.44"/><ellipse cx="53.4" cy="95.8" rx="1.3" ry="1.1" transform="rotate(33 53.4 95.8)" opacity="0.49"/><ellipse cx="62.0" cy="42.2" rx="1.6" ry="1.3" transform="rotate(139 62.0 42.2)" opacity="0.55"/><ellipse cx="23.2" cy="1.2" rx="1.9" ry="1.6" transform="rotate(1 23.2 1.2)" opacity="0.79"/><ellipse cx="23.2" cy="109.2" rx="1.9" ry="1.6" transform="rotate(1 23.2 109.2)" opacity="0.79"/><ellipse cx="66.5" cy="90.1" rx="1.7" ry="1.3" transform="rotate(50 66.5 90.1)" opacity="0.35"/><ellipse cx="29.7" cy="102.0" rx="2.1" ry="1.7" transform="rotate(13 29.7 102.0)" opacity="0.94"/><ellipse cx="56.6" cy="62.5" rx="1.2" ry="1.1" transform="rotate(65 56.6 62.5)" opacity="0.50"/><ellipse cx="60.4" cy="42.4" rx="1.5" ry="1.4" transform="rotate(152 60.4 42.4)" opacity="0.93"/><ellipse cx="59.8" cy="11.3" rx="1.3" ry="1.1" transform="rotate(70 59.8 11.3)" opacity="0.93"/><ellipse cx="59.0" cy="27.1" rx="1.4" ry="1.1" transform="rotate(1 59.0 27.1)" opacity="0.64"/><ellipse cx="44.7" cy="26.4" rx="1.5" ry="1.2" transform="rotate(35 44.7 26.4)" opacity="0.38"/><ellipse cx="33.6" cy="79.6" rx="1.3" ry="1.0" transform="rotate(54 33.6 79.6)" opacity="0.60"/><ellipse cx="46.8" cy="47.9" rx="1.9" ry="1.6" transform="rotate(162 46.8 47.9)" opacity="0.46"/><ellipse cx="21.2" cy="72.9" rx="1.7" ry="1.3" transform="rotate(79 21.2 72.9)" opacity="0.93"/><ellipse cx="-2.1" cy="95.6" rx="1.9" ry="1.6" transform="rotate(32 -2.1 95.6)" opacity="0.33"/><ellipse cx="105.9" cy="95.6" rx="1.9" ry="1.6" transform="rotate(32 105.9 95.6)" opacity="0.33"/><ellipse cx="18.5" cy="12.0" rx="1.7" ry="1.6" transform="rotate(91 18.5 12.0)" opacity="0.41"/><ellipse cx="82.0" cy="98.2" rx="1.7" ry="1.7" transform="rotate(8 82.0 98.2)" opacity="0.87"/><ellipse cx="3.8" cy="51.8" rx="1.7" ry="1.7" transform="rotate(145 3.8 51.8)" opacity="0.83"/><ellipse cx="55.1" cy="23.8" rx="1.4" ry="1.3" transform="rotate(72 55.1 23.8)" opacity="0.85"/><ellipse cx="1.7" cy="1.8" rx="1.3" ry="1.2" transform="rotate(155 1.7 1.8)" opacity="0.54"/><ellipse cx="1.7" cy="109.8" rx="1.3" ry="1.2" transform="rotate(155 1.7 109.8)" opacity="0.54"/><ellipse cx="109.7" cy="1.8" rx="1.3" ry="1.2" transform="rotate(155 109.7 1.8)" opacity="0.54"/><ellipse cx="109.7" cy="109.8" rx="1.3" ry="1.2" transform="rotate(155 109.7 109.8)" opacity="0.54"/><ellipse cx="50.3" cy="-1.6" rx="1.1" ry="1.0" transform="rotate(68 50.3 -1.6)" opacity="0.60"/><ellipse cx="50.3" cy="106.4" rx="1.1" ry="1.0" transform="rotate(68 50.3 106.4)" opacity="0.60"/><ellipse cx="96.9" cy="12.5" rx="1.5" ry="1.2" transform="rotate(102 96.9 12.5)" opacity="0.93"/><ellipse cx="76.3" cy="17.5" rx="1.9" ry="1.7" transform="rotate(119 76.3 17.5)" opacity="0.93"/><ellipse cx="98.5" cy="3.2" rx="1.4" ry="1.2" transform="rotate(138 98.5 3.2)" opacity="0.57"/><ellipse cx="4.5" cy="78.2" rx="1.3" ry="1.1" transform="rotate(107 4.5 78.2)" opacity="0.33"/><ellipse cx="11.3" cy="71.8" rx="1.3" ry="1.3" transform="rotate(27 11.3 71.8)" opacity="0.85"/><ellipse cx="15.4" cy="7.3" rx="1.3" ry="1.1" transform="rotate(68 15.4 7.3)" opacity="0.33"/><ellipse cx="84.0" cy="85.4" rx="1.4" ry="1.3" transform="rotate(177 84.0 85.4)" opacity="0.53"/><ellipse cx="7.4" cy="33.6" rx="1.5" ry="1.5" transform="rotate(23 7.4 33.6)" opacity="0.70"/><ellipse cx="0.6" cy="96.9" rx="1.6" ry="1.6" transform="rotate(96 0.6 96.9)" opacity="0.58"/><ellipse cx="108.6" cy="96.9" rx="1.6" ry="1.6" transform="rotate(96 108.6 96.9)" opacity="0.58"/><ellipse cx="20.9" cy="68.0" rx="2.1" ry="1.7" transform="rotate(19 20.9 68.0)" opacity="0.79"/><ellipse cx="54.6" cy="78.6" rx="1.5" ry="1.2" transform="rotate(148 54.6 78.6)" opacity="0.78"/><ellipse cx="16.4" cy="80.8" rx="1.6" ry="1.3" transform="rotate(145 16.4 80.8)" opacity="0.44"/><ellipse cx="63.7" cy="5.2" rx="1.8" ry="1.7" transform="rotate(93 63.7 5.2)" opacity="0.56"/><ellipse cx="42.3" cy="53.9" rx="1.3" ry="1.0" transform="rotate(117 42.3 53.9)" opacity="0.59"/><ellipse cx="11.9" cy="102.9" rx="1.3" ry="1.2" transform="rotate(111 11.9 102.9)" opacity="0.91"/><ellipse cx="65.2" cy="51.5" rx="1.5" ry="1.2" transform="rotate(105 65.2 51.5)" opacity="0.43"/><ellipse cx="75.4" cy="24.5" rx="1.8" ry="1.5" transform="rotate(112 75.4 24.5)" opacity="0.74"/><ellipse cx="36.7" cy="98.9" rx="1.6" ry="1.3" transform="rotate(56 36.7 98.9)" opacity="0.44"/><ellipse cx="-1.1" cy="35.3" rx="1.3" ry="1.1" transform="rotate(91 -1.1 35.3)" opacity="0.39"/><ellipse cx="106.9" cy="35.3" rx="1.3" ry="1.1" transform="rotate(91 106.9 35.3)" opacity="0.39"/><ellipse cx="97.7" cy="39.2" rx="1.9" ry="1.6" transform="rotate(54 97.7 39.2)" opacity="0.59"/><ellipse cx="2.4" cy="0.8" rx="1.5" ry="1.2" transform="rotate(51 2.4 0.8)" opacity="0.65"/><ellipse cx="2.4" cy="108.8" rx="1.5" ry="1.2" transform="rotate(51 2.4 108.8)" opacity="0.65"/><ellipse cx="75.7" cy="63.5" rx="1.5" ry="1.3" transform="rotate(96 75.7 63.5)" opacity="0.45"/><ellipse cx="45.3" cy="28.6" rx="1.2" ry="1.1" transform="rotate(54 45.3 28.6)" opacity="0.59"/><ellipse cx="51.2" cy="60.2" rx="1.6" ry="1.5" transform="rotate(23 51.2 60.2)" opacity="0.32"/><ellipse cx="6.4" cy="77.2" rx="1.8" ry="1.4" transform="rotate(75 6.4 77.2)" opacity="0.69"/><ellipse cx="75.0" cy="26.0" rx="1.6" ry="1.6" transform="rotate(158 75.0 26.0)" opacity="0.42"/><ellipse cx="33.1" cy="49.4" rx="1.4" ry="1.1" transform="rotate(143 33.1 49.4)" opacity="0.69"/><ellipse cx="50.5" cy="45.9" rx="2.0" ry="1.7" transform="rotate(140 50.5 45.9)" opacity="0.48"/><ellipse cx="65.1" cy="21.4" rx="1.6" ry="1.6" transform="rotate(179 65.1 21.4)" opacity="0.93"/><ellipse cx="2.6" cy="53.1" rx="1.8" ry="1.6" transform="rotate(84 2.6 53.1)" opacity="0.79"/><ellipse cx="10.9" cy="95.2" rx="1.8" ry="1.7" transform="rotate(26 10.9 95.2)" opacity="0.54"/><ellipse cx="12.4" cy="85.3" rx="1.5" ry="1.4" transform="rotate(9 12.4 85.3)" opacity="0.67"/><ellipse cx="9.3" cy="53.7" rx="1.6" ry="1.6" transform="rotate(34 9.3 53.7)" opacity="0.37"/><ellipse cx="7.4" cy="12.3" rx="1.1" ry="1.0" transform="rotate(142 7.4 12.3)" opacity="0.46"/><ellipse cx="37.5" cy="8.6" rx="1.2" ry="1.2" transform="rotate(105 37.5 8.6)" opacity="0.39"/><ellipse cx="25.7" cy="41.3" rx="1.3" ry="1.2" transform="rotate(28 25.7 41.3)" opacity="0.55"/><ellipse cx="43.8" cy="30.6" rx="2.0" ry="1.5" transform="rotate(110 43.8 30.6)" opacity="0.71"/><ellipse cx="7.9" cy="96.5" rx="1.2" ry="1.1" transform="rotate(60 7.9 96.5)" opacity="0.51"/><ellipse cx="31.2" cy="15.7" rx="1.9" ry="1.5" transform="rotate(62 31.2 15.7)" opacity="0.57"/><ellipse cx="106.0" cy="5.7" rx="1.1" ry="1.1" transform="rotate(83 106.0 5.7)" opacity="0.40"/><ellipse cx="88.1" cy="51.2" rx="1.7" ry="1.7" transform="rotate(45 88.1 51.2)" opacity="0.33"/><ellipse cx="61.8" cy="35.8" rx="1.2" ry="1.1" transform="rotate(152 61.8 35.8)" opacity="0.77"/><ellipse cx="79.2" cy="66.3" rx="1.6" ry="1.2" transform="rotate(106 79.2 66.3)" opacity="0.73"/><ellipse cx="99.8" cy="7.2" rx="1.9" ry="1.6" transform="rotate(124 99.8 7.2)" opacity="0.68"/><ellipse cx="24.7" cy="28.2" rx="1.9" ry="1.5" transform="rotate(165 24.7 28.2)" opacity="0.31"/><ellipse cx="70.6" cy="53.4" rx="1.4" ry="1.3" transform="rotate(159 70.6 53.4)" opacity="0.92"/><ellipse cx="53.8" cy="11.8" rx="1.9" ry="1.7" transform="rotate(150 53.8 11.8)" opacity="0.40"/><ellipse cx="24.9" cy="52.6" rx="1.2" ry="1.0" transform="rotate(164 24.9 52.6)" opacity="0.89"/><ellipse cx="16.4" cy="10.2" rx="1.9" ry="1.7" transform="rotate(113 16.4 10.2)" opacity="0.36"/><ellipse cx="85.6" cy="30.5" rx="1.7" ry="1.6" transform="rotate(139 85.6 30.5)" opacity="0.31"/><ellipse cx="86.8" cy="64.8" rx="1.2" ry="1.2" transform="rotate(174 86.8 64.8)" opacity="0.63"/><ellipse cx="93.4" cy="18.8" rx="1.7" ry="1.6" transform="rotate(120 93.4 18.8)" opacity="0.55"/><ellipse cx="25.1" cy="104.0" rx="1.1" ry="1.1" transform="rotate(87 25.1 104.0)" opacity="0.34"/><ellipse cx="28.9" cy="26.0" rx="1.5" ry="1.3" transform="rotate(106 28.9 26.0)" opacity="0.32"/><ellipse cx="4.7" cy="11.8" rx="1.9" ry="1.7" transform="rotate(60 4.7 11.8)" opacity="0.92"/><ellipse cx="39.1" cy="101.3" rx="1.4" ry="1.4" transform="rotate(164 39.1 101.3)" opacity="0.35"/><ellipse cx="-0.8" cy="2.3" rx="1.4" ry="1.1" transform="rotate(38 -0.8 2.3)" opacity="0.80"/><ellipse cx="107.2" cy="2.3" rx="1.4" ry="1.1" transform="rotate(38 107.2 2.3)" opacity="0.80"/><ellipse cx="13.8" cy="22.5" rx="1.8" ry="1.5" transform="rotate(122 13.8 22.5)" opacity="0.43"/><ellipse cx="101.5" cy="96.8" rx="1.3" ry="1.2" transform="rotate(83 101.5 96.8)" opacity="0.94"/><ellipse cx="15.3" cy="18.8" rx="1.2" ry="1.1" transform="rotate(29 15.3 18.8)" opacity="0.81"/><ellipse cx="52.7" cy="47.3" rx="1.8" ry="1.5" transform="rotate(12 52.7 47.3)" opacity="0.82"/><ellipse cx="-1.7" cy="35.4" rx="1.5" ry="1.5" transform="rotate(3 -1.7 35.4)" opacity="0.65"/><ellipse cx="106.3" cy="35.4" rx="1.5" ry="1.5" transform="rotate(3 106.3 35.4)" opacity="0.65"/><ellipse cx="42.5" cy="77.5" rx="1.8" ry="1.5" transform="rotate(62 42.5 77.5)" opacity="0.80"/><ellipse cx="79.2" cy="45.0" rx="1.4" ry="1.4" transform="rotate(33 79.2 45.0)" opacity="0.85"/><ellipse cx="21.1" cy="17.0" rx="1.6" ry="1.4" transform="rotate(147 21.1 17.0)" opacity="0.39"/><ellipse cx="6.7" cy="13.6" rx="1.1" ry="1.0" transform="rotate(139 6.7 13.6)" opacity="0.70"/><ellipse cx="40.9" cy="105.0" rx="1.7" ry="1.4" transform="rotate(105 40.9 105.0)" opacity="0.36"/><ellipse cx="52.6" cy="66.1" rx="1.8" ry="1.6" transform="rotate(89 52.6 66.1)" opacity="0.35"/><ellipse cx="25.1" cy="70.7" rx="1.5" ry="1.2" transform="rotate(165 25.1 70.7)" opacity="0.43"/><ellipse cx="92.6" cy="94.0" rx="1.3" ry="1.1" transform="rotate(111 92.6 94.0)" opacity="0.34"/><ellipse cx="3.8" cy="49.1" rx="1.6" ry="1.3" transform="rotate(92 3.8 49.1)" opacity="0.81"/><ellipse cx="85.6" cy="1.9" rx="1.6" ry="1.5" transform="rotate(9 85.6 1.9)" opacity="0.85"/><ellipse cx="85.6" cy="109.9" rx="1.6" ry="1.5" transform="rotate(9 85.6 109.9)" opacity="0.85"/><ellipse cx="92.3" cy="15.4" rx="1.3" ry="1.0" transform="rotate(172 92.3 15.4)" opacity="0.78"/><ellipse cx="76.8" cy="52.9" rx="1.7" ry="1.6" transform="rotate(154 76.8 52.9)" opacity="0.84"/><ellipse cx="65.7" cy="15.1" rx="1.9" ry="1.5" transform="rotate(94 65.7 15.1)" opacity="0.60"/><ellipse cx="99.3" cy="88.2" rx="1.5" ry="1.3" transform="rotate(2 99.3 88.2)" opacity="0.39"/><ellipse cx="66.1" cy="6.0" rx="1.3" ry="1.1" transform="rotate(92 66.1 6.0)" opacity="0.45"/><ellipse cx="105.2" cy="33.6" rx="1.4" ry="1.2" transform="rotate(120 105.2 33.6)" opacity="0.90"/><ellipse cx="49.3" cy="54.1" rx="1.5" ry="1.5" transform="rotate(93 49.3 54.1)" opacity="0.50"/><ellipse cx="61.5" cy="43.7" rx="1.8" ry="1.5" transform="rotate(27 61.5 43.7)" opacity="0.77"/><ellipse cx="48.4" cy="33.4" rx="1.3" ry="1.0" transform="rotate(8 48.4 33.4)" opacity="0.57"/><ellipse cx="76.4" cy="23.7" rx="1.6" ry="1.3" transform="rotate(111 76.4 23.7)" opacity="0.66"/><ellipse cx="21.4" cy="27.8" rx="1.7" ry="1.6" transform="rotate(131 21.4 27.8)" opacity="0.76"/><ellipse cx="42.6" cy="12.4" rx="1.8" ry="1.4" transform="rotate(168 42.6 12.4)" opacity="0.41"/><ellipse cx="68.3" cy="62.0" rx="1.9" ry="1.7" transform="rotate(12 68.3 62.0)" opacity="0.68"/><ellipse cx="80.3" cy="74.0" rx="1.2" ry="1.0" transform="rotate(34 80.3 74.0)" opacity="0.67"/><ellipse cx="17.7" cy="42.1" rx="1.4" ry="1.3" transform="rotate(55 17.7 42.1)" opacity="0.72"/><ellipse cx="12.1" cy="101.8" rx="1.6" ry="1.4" transform="rotate(108 12.1 101.8)" opacity="0.57"/><ellipse cx="67.9" cy="24.3" rx="2.0" ry="1.6" transform="rotate(45 67.9 24.3)" opacity="0.68"/><ellipse cx="68.0" cy="19.5" rx="1.5" ry="1.2" transform="rotate(91 68.0 19.5)" opacity="0.70"/><ellipse cx="94.1" cy="69.0" rx="1.7" ry="1.4" transform="rotate(117 94.1 69.0)" opacity="0.31"/><ellipse cx="87.0" cy="11.6" rx="2.0" ry="1.6" transform="rotate(145 87.0 11.6)" opacity="0.43"/><ellipse cx="18.9" cy="60.1" rx="2.1" ry="1.7" transform="rotate(52 18.9 60.1)" opacity="0.94"/><ellipse cx="32.7" cy="75.2" rx="1.8" ry="1.6" transform="rotate(60 32.7 75.2)" opacity="0.31"/><ellipse cx="96.4" cy="25.0" rx="2.1" ry="1.7" transform="rotate(109 96.4 25.0)" opacity="0.68"/><ellipse cx="29.8" cy="42.9" rx="1.6" ry="1.5" transform="rotate(107 29.8 42.9)" opacity="0.54"/><ellipse cx="41.1" cy="-1.6" rx="1.3" ry="1.1" transform="rotate(132 41.1 -1.6)" opacity="0.36"/><ellipse cx="41.1" cy="106.4" rx="1.3" ry="1.1" transform="rotate(132 41.1 106.4)" opacity="0.36"/><ellipse cx="63.0" cy="48.6" rx="1.8" ry="1.6" transform="rotate(67 63.0 48.6)" opacity="0.38"/><ellipse cx="37.7" cy="75.9" rx="1.5" ry="1.1" transform="rotate(29 37.7 75.9)" opacity="0.60"/><ellipse cx="3.6" cy="62.8" rx="1.7" ry="1.6" transform="rotate(63 3.6 62.8)" opacity="0.43"/><ellipse cx="53.8" cy="89.6" rx="1.2" ry="1.1" transform="rotate(90 53.8 89.6)" opacity="0.39"/><ellipse cx="67.4" cy="77.6" rx="1.5" ry="1.4" transform="rotate(146 67.4 77.6)" opacity="0.72"/><ellipse cx="68.0" cy="19.4" rx="1.5" ry="1.2" transform="rotate(69 68.0 19.4)" opacity="0.43"/><ellipse cx="61.4" cy="29.1" rx="1.1" ry="1.1" transform="rotate(175 61.4 29.1)" opacity="0.77"/><ellipse cx="42.4" cy="64.8" rx="1.5" ry="1.4" transform="rotate(65 42.4 64.8)" opacity="0.90"/><ellipse cx="20.3" cy="59.8" rx="1.6" ry="1.5" transform="rotate(104 20.3 59.8)" opacity="0.31"/><ellipse cx="40.1" cy="69.5" rx="1.7" ry="1.5" transform="rotate(127 40.1 69.5)" opacity="0.75"/><ellipse cx="75.0" cy="85.4" rx="1.7" ry="1.4" transform="rotate(106 75.0 85.4)" opacity="0.69"/><ellipse cx="59.0" cy="1.8" rx="1.4" ry="1.2" transform="rotate(134 59.0 1.8)" opacity="0.78"/><ellipse cx="59.0" cy="109.8" rx="1.4" ry="1.2" transform="rotate(134 59.0 109.8)" opacity="0.78"/><ellipse cx="48.1" cy="77.8" rx="1.6" ry="1.4" transform="rotate(177 48.1 77.8)" opacity="0.32"/><ellipse cx="47.3" cy="35.4" rx="1.2" ry="1.2" transform="rotate(122 47.3 35.4)" opacity="0.79"/><ellipse cx="30.6" cy="52.1" rx="1.9" ry="1.6" transform="rotate(44 30.6 52.1)" opacity="0.82"/><ellipse cx="64.6" cy="28.4" rx="1.6" ry="1.6" transform="rotate(157 64.6 28.4)" opacity="0.68"/><ellipse cx="41.7" cy="90.8" rx="1.9" ry="1.5" transform="rotate(120 41.7 90.8)" opacity="0.58"/><ellipse cx="29.7" cy="20.8" rx="1.7" ry="1.4" transform="rotate(88 29.7 20.8)" opacity="0.34"/><ellipse cx="45.8" cy="0.5" rx="1.0" ry="1.0" transform="rotate(108 45.8 0.5)" opacity="0.83"/><ellipse cx="45.8" cy="108.5" rx="1.0" ry="1.0" transform="rotate(108 45.8 108.5)" opacity="0.83"/><ellipse cx="1.2" cy="98.7" rx="1.7" ry="1.4" transform="rotate(68 1.2 98.7)" opacity="0.33"/><ellipse cx="109.2" cy="98.7" rx="1.7" ry="1.4" transform="rotate(68 109.2 98.7)" opacity="0.33"/><ellipse cx="38.1" cy="56.7" rx="2.0" ry="1.6" transform="rotate(1 38.1 56.7)" opacity="0.68"/><ellipse cx="52.3" cy="62.2" rx="1.2" ry="1.0" transform="rotate(69 52.3 62.2)" opacity="0.95"/><ellipse cx="12.0" cy="15.7" rx="1.2" ry="1.2" transform="rotate(164 12.0 15.7)" opacity="0.81"/><ellipse cx="95.8" cy="39.5" rx="1.5" ry="1.3" transform="rotate(44 95.8 39.5)" opacity="0.70"/><ellipse cx="61.9" cy="60.9" rx="1.9" ry="1.5" transform="rotate(131 61.9 60.9)" opacity="0.62"/><ellipse cx="25.1" cy="95.0" rx="1.8" ry="1.6" transform="rotate(169 25.1 95.0)" opacity="0.36"/><ellipse cx="42.4" cy="9.1" rx="1.6" ry="1.2" transform="rotate(117 42.4 9.1)" opacity="0.47"/><ellipse cx="39.1" cy="66.0" rx="1.5" ry="1.5" transform="rotate(148 39.1 66.0)" opacity="0.48"/><ellipse cx="103.9" cy="42.7" rx="1.9" ry="1.6" transform="rotate(131 103.9 42.7)" opacity="0.41"/><ellipse cx="53.6" cy="58.8" rx="1.4" ry="1.2" transform="rotate(75 53.6 58.8)" opacity="0.85"/><ellipse cx="31.9" cy="37.0" rx="2.2" ry="1.7" transform="rotate(17 31.9 37.0)" opacity="0.51"/><ellipse cx="83.7" cy="75.2" rx="1.7" ry="1.5" transform="rotate(154 83.7 75.2)" opacity="0.81"/><ellipse cx="2.6" cy="19.7" rx="1.4" ry="1.4" transform="rotate(172 2.6 19.7)" opacity="0.45"/><ellipse cx="52.1" cy="18.2" rx="1.1" ry="1.1" transform="rotate(132 52.1 18.2)" opacity="0.34"/><ellipse cx="94.6" cy="29.1" rx="1.0" ry="1.0" transform="rotate(90 94.6 29.1)" opacity="0.36"/><ellipse cx="59.6" cy="66.1" rx="1.8" ry="1.5" transform="rotate(173 59.6 66.1)" opacity="0.78"/><ellipse cx="84.0" cy="105.7" rx="1.6" ry="1.5" transform="rotate(130 84.0 105.7)" opacity="0.50"/><ellipse cx="38.3" cy="85.2" rx="1.6" ry="1.6" transform="rotate(59 38.3 85.2)" opacity="0.49"/><ellipse cx="13.3" cy="48.6" rx="1.2" ry="1.0" transform="rotate(112 13.3 48.6)" opacity="0.41"/><ellipse cx="52.9" cy="37.3" rx="1.2" ry="1.0" transform="rotate(179 52.9 37.3)" opacity="0.55"/><ellipse cx="0.2" cy="86.8" rx="1.6" ry="1.3" transform="rotate(1 0.2 86.8)" opacity="0.43"/><ellipse cx="108.2" cy="86.8" rx="1.6" ry="1.3" transform="rotate(1 108.2 86.8)" opacity="0.43"/><ellipse cx="86.5" cy="32.1" rx="1.8" ry="1.5" transform="rotate(132 86.5 32.1)" opacity="0.63"/><ellipse cx="52.2" cy="30.3" rx="1.2" ry="1.0" transform="rotate(39 52.2 30.3)" opacity="0.63"/><ellipse cx="40.4" cy="-0.4" rx="1.8" ry="1.7" transform="rotate(100 40.4 -0.4)" opacity="0.46"/><ellipse cx="40.4" cy="107.6" rx="1.8" ry="1.7" transform="rotate(100 40.4 107.6)" opacity="0.46"/><ellipse cx="62.8" cy="76.1" rx="1.9" ry="1.5" transform="rotate(36 62.8 76.1)" opacity="0.47"/><ellipse cx="23.4" cy="15.0" rx="1.3" ry="1.1" transform="rotate(8 23.4 15.0)" opacity="0.55"/><ellipse cx="89.1" cy="101.4" rx="1.6" ry="1.4" transform="rotate(116 89.1 101.4)" opacity="0.95"/><ellipse cx="6.8" cy="61.9" rx="1.7" ry="1.4" transform="rotate(92 6.8 61.9)" opacity="0.57"/><ellipse cx="25.7" cy="39.2" rx="1.8" ry="1.5" transform="rotate(44 25.7 39.2)" opacity="0.34"/><ellipse cx="34.0" cy="38.5" rx="1.4" ry="1.3" transform="rotate(44 34.0 38.5)" opacity="0.60"/><ellipse cx="67.0" cy="18.6" rx="1.4" ry="1.2" transform="rotate(151 67.0 18.6)" opacity="0.33"/><ellipse cx="26.0" cy="18.9" rx="1.8" ry="1.7" transform="rotate(144 26.0 18.9)" opacity="0.37"/><ellipse cx="15.3" cy="73.8" rx="1.2" ry="1.1" transform="rotate(31 15.3 73.8)" opacity="0.30"/><ellipse cx="72.0" cy="0.9" rx="1.8" ry="1.6" transform="rotate(168 72.0 0.9)" opacity="0.86"/><ellipse cx="72.0" cy="108.9" rx="1.8" ry="1.6" transform="rotate(168 72.0 108.9)" opacity="0.86"/><ellipse cx="65.2" cy="29.2" rx="1.8" ry="1.6" transform="rotate(149 65.2 29.2)" opacity="0.71"/><ellipse cx="19.7" cy="102.1" rx="1.8" ry="1.5" transform="rotate(74 19.7 102.1)" opacity="0.39"/><ellipse cx="47.0" cy="91.6" rx="1.4" ry="1.2" transform="rotate(1 47.0 91.6)" opacity="0.84"/><ellipse cx="26.2" cy="8.1" rx="1.4" ry="1.3" transform="rotate(175 26.2 8.1)" opacity="0.63"/><ellipse cx="100.2" cy="17.1" rx="1.3" ry="1.2" transform="rotate(110 100.2 17.1)" opacity="0.43"/><ellipse cx="76.5" cy="53.5" rx="1.7" ry="1.5" transform="rotate(80 76.5 53.5)" opacity="0.69"/><ellipse cx="54.1" cy="58.0" rx="1.5" ry="1.3" transform="rotate(83 54.1 58.0)" opacity="0.47"/><ellipse cx="48.1" cy="100.9" rx="1.8" ry="1.7" transform="rotate(35 48.1 100.9)" opacity="0.47"/><ellipse cx="22.7" cy="17.6" rx="1.4" ry="1.1" transform="rotate(56 22.7 17.6)" opacity="0.78"/><ellipse cx="-1.6" cy="38.7" rx="1.7" ry="1.6" transform="rotate(35 -1.6 38.7)" opacity="0.64"/><ellipse cx="106.4" cy="38.7" rx="1.7" ry="1.6" transform="rotate(35 106.4 38.7)" opacity="0.64"/><ellipse cx="61.4" cy="53.7" rx="1.8" ry="1.7" transform="rotate(11 61.4 53.7)" opacity="0.59"/><ellipse cx="70.0" cy="26.5" rx="1.7" ry="1.6" transform="rotate(83 70.0 26.5)" opacity="0.33"/><ellipse cx="17.6" cy="86.6" rx="1.4" ry="1.3" transform="rotate(121 17.6 86.6)" opacity="0.70"/><ellipse cx="34.4" cy="28.8" rx="1.5" ry="1.2" transform="rotate(126 34.4 28.8)" opacity="0.37"/><ellipse cx="71.0" cy="15.0" rx="2.0" ry="1.7" transform="rotate(55 71.0 15.0)" opacity="0.64"/><ellipse cx="1.3" cy="39.7" rx="1.8" ry="1.6" transform="rotate(167 1.3 39.7)" opacity="0.79"/><ellipse cx="109.3" cy="39.7" rx="1.8" ry="1.6" transform="rotate(167 109.3 39.7)" opacity="0.79"/><ellipse cx="60.9" cy="59.5" rx="1.3" ry="1.3" transform="rotate(51 60.9 59.5)" opacity="0.73"/><ellipse cx="98.1" cy="50.1" rx="1.5" ry="1.3" transform="rotate(98 98.1 50.1)" opacity="0.64"/><ellipse cx="83.6" cy="37.7" rx="1.2" ry="1.1" transform="rotate(162 83.6 37.7)" opacity="0.91"/><ellipse cx="57.2" cy="27.6" rx="1.4" ry="1.2" transform="rotate(139 57.2 27.6)" opacity="0.39"/><ellipse cx="80.6" cy="97.5" rx="1.5" ry="1.4" transform="rotate(2 80.6 97.5)" opacity="0.58"/><ellipse cx="25.6" cy="70.5" rx="1.5" ry="1.3" transform="rotate(22 25.6 70.5)" opacity="0.39"/><ellipse cx="76.2" cy="101.9" rx="1.5" ry="1.4" transform="rotate(18 76.2 101.9)" opacity="0.80"/><ellipse cx="25.3" cy="73.7" rx="1.8" ry="1.7" transform="rotate(52 25.3 73.7)" opacity="0.79"/><ellipse cx="93.1" cy="73.6" rx="1.6" ry="1.3" transform="rotate(13 93.1 73.6)" opacity="0.91"/><ellipse cx="58.7" cy="4.7" rx="1.2" ry="1.2" transform="rotate(56 58.7 4.7)" opacity="0.54"/><ellipse cx="11.1" cy="97.3" rx="1.4" ry="1.3" transform="rotate(93 11.1 97.3)" opacity="0.80"/><ellipse cx="2.6" cy="1.2" rx="1.6" ry="1.2" transform="rotate(106 2.6 1.2)" opacity="0.49"/><ellipse cx="2.6" cy="109.2" rx="1.6" ry="1.2" transform="rotate(106 2.6 109.2)" opacity="0.49"/><ellipse cx="102.3" cy="56.4" rx="1.8" ry="1.5" transform="rotate(101 102.3 56.4)" opacity="0.84"/><ellipse cx="2.1" cy="38.0" rx="1.3" ry="1.2" transform="rotate(88 2.1 38.0)" opacity="0.55"/><ellipse cx="55.4" cy="95.8" rx="1.7" ry="1.4" transform="rotate(88 55.4 95.8)" opacity="0.75"/><ellipse cx="71.0" cy="80.4" rx="1.4" ry="1.2" transform="rotate(110 71.0 80.4)" opacity="0.75"/><ellipse cx="30.3" cy="95.1" rx="1.4" ry="1.4" transform="rotate(58 30.3 95.1)" opacity="0.81"/><ellipse cx="57.2" cy="60.0" rx="1.2" ry="1.1" transform="rotate(49 57.2 60.0)" opacity="0.94"/><ellipse cx="58.4" cy="30.4" rx="1.7" ry="1.6" transform="rotate(86 58.4 30.4)" opacity="0.57"/><ellipse cx="36.3" cy="29.6" rx="2.0" ry="1.6" transform="rotate(153 36.3 29.6)" opacity="0.90"/><ellipse cx="69.0" cy="91.1" rx="1.2" ry="1.0" transform="rotate(74 69.0 91.1)" opacity="0.63"/><ellipse cx="41.5" cy="52.4" rx="1.3" ry="1.1" transform="rotate(173 41.5 52.4)" opacity="0.56"/><ellipse cx="86.2" cy="17.8" rx="2.0" ry="1.6" transform="rotate(143 86.2 17.8)" opacity="0.60"/><ellipse cx="75.3" cy="74.1" rx="1.2" ry="1.1" transform="rotate(102 75.3 74.1)" opacity="0.70"/><ellipse cx="27.2" cy="81.4" rx="1.9" ry="1.5" transform="rotate(146 27.2 81.4)" opacity="0.91"/><ellipse cx="42.3" cy="23.0" rx="1.7" ry="1.6" transform="rotate(162 42.3 23.0)" opacity="0.71"/><ellipse cx="3.6" cy="65.0" rx="1.7" ry="1.7" transform="rotate(73 3.6 65.0)" opacity="0.43"/><ellipse cx="46.1" cy="67.1" rx="1.5" ry="1.2" transform="rotate(58 46.1 67.1)" opacity="0.52"/><ellipse cx="61.0" cy="57.2" rx="1.4" ry="1.3" transform="rotate(148 61.0 57.2)" opacity="0.87"/><ellipse cx="51.3" cy="84.6" rx="1.6" ry="1.6" transform="rotate(50 51.3 84.6)" opacity="0.43"/><ellipse cx="1.6" cy="62.1" rx="1.3" ry="1.1" transform="rotate(165 1.6 62.1)" opacity="0.56"/><ellipse cx="109.6" cy="62.1" rx="1.3" ry="1.1" transform="rotate(165 109.6 62.1)" opacity="0.56"/><ellipse cx="42.8" cy="93.3" rx="1.7" ry="1.4" transform="rotate(4 42.8 93.3)" opacity="0.82"/><ellipse cx="36.3" cy="43.6" rx="1.6" ry="1.5" transform="rotate(100 36.3 43.6)" opacity="0.93"/><ellipse cx="49.1" cy="56.3" rx="1.4" ry="1.4" transform="rotate(100 49.1 56.3)" opacity="0.54"/><ellipse cx="21.3" cy="11.1" rx="1.2" ry="1.0" transform="rotate(179 21.3 11.1)" opacity="0.79"/><ellipse cx="92.3" cy="2.7" rx="1.8" ry="1.6" transform="rotate(108 92.3 2.7)" opacity="0.69"/><ellipse cx="28.3" cy="42.0" rx="1.1" ry="1.0" transform="rotate(160 28.3 42.0)" opacity="0.89"/><ellipse cx="63.3" cy="0.2" rx="1.4" ry="1.4" transform="rotate(109 63.3 0.2)" opacity="0.67"/><ellipse cx="63.3" cy="108.2" rx="1.4" ry="1.4" transform="rotate(109 63.3 108.2)" opacity="0.67"/><ellipse cx="92.5" cy="25.6" rx="1.8" ry="1.7" transform="rotate(107 92.5 25.6)" opacity="0.66"/><ellipse cx="17.7" cy="55.4" rx="1.4" ry="1.3" transform="rotate(161 17.7 55.4)" opacity="0.36"/><ellipse cx="35.7" cy="81.6" rx="1.6" ry="1.6" transform="rotate(63 35.7 81.6)" opacity="0.74"/><ellipse cx="98.6" cy="98.0" rx="1.6" ry="1.2" transform="rotate(102 98.6 98.0)" opacity="0.38"/><ellipse cx="85.4" cy="28.5" rx="1.2" ry="1.1" transform="rotate(161 85.4 28.5)" opacity="0.78"/><ellipse cx="46.9" cy="1.8" rx="1.6" ry="1.6" transform="rotate(117 46.9 1.8)" opacity="0.79"/><ellipse cx="46.9" cy="109.8" rx="1.6" ry="1.6" transform="rotate(117 46.9 109.8)" opacity="0.79"/><ellipse cx="78.7" cy="26.8" rx="1.6" ry="1.3" transform="rotate(29 78.7 26.8)" opacity="0.67"/><ellipse cx="2.9" cy="100.8" rx="2.1" ry="1.6" transform="rotate(53 2.9 100.8)" opacity="0.60"/><ellipse cx="26.8" cy="82.2" rx="1.7" ry="1.7" transform="rotate(78 26.8 82.2)" opacity="0.78"/><ellipse cx="80.6" cy="28.8" rx="1.2" ry="1.1" transform="rotate(149 80.6 28.8)" opacity="0.86"/><ellipse cx="4.8" cy="13.7" rx="1.7" ry="1.5" transform="rotate(73 4.8 13.7)" opacity="0.91"/><ellipse cx="87.6" cy="45.1" rx="1.5" ry="1.4" transform="rotate(70 87.6 45.1)" opacity="0.50"/><ellipse cx="89.7" cy="72.2" rx="1.1" ry="1.1" transform="rotate(3 89.7 72.2)" opacity="0.78"/><ellipse cx="-1.1" cy="27.5" rx="1.5" ry="1.4" transform="rotate(62 -1.1 27.5)" opacity="0.62"/><ellipse cx="106.9" cy="27.5" rx="1.5" ry="1.4" transform="rotate(62 106.9 27.5)" opacity="0.62"/><ellipse cx="51.1" cy="10.1" rx="2.0" ry="1.6" transform="rotate(174 51.1 10.1)" opacity="0.45"/><ellipse cx="62.0" cy="23.1" rx="1.5" ry="1.2" transform="rotate(13 62.0 23.1)" opacity="0.52"/><ellipse cx="94.5" cy="9.4" rx="1.7" ry="1.4" transform="rotate(114 94.5 9.4)" opacity="0.59"/><ellipse cx="54.2" cy="69.9" rx="1.7" ry="1.5" transform="rotate(48 54.2 69.9)" opacity="0.33"/><ellipse cx="37.0" cy="78.1" rx="1.1" ry="1.0" transform="rotate(56 37.0 78.1)" opacity="0.71"/><ellipse cx="81.0" cy="60.1" rx="1.5" ry="1.4" transform="rotate(176 81.0 60.1)" opacity="0.49"/><ellipse cx="21.5" cy="61.0" rx="1.8" ry="1.7" transform="rotate(161 21.5 61.0)" opacity="0.50"/><ellipse cx="65.6" cy="46.5" rx="1.6" ry="1.4" transform="rotate(35 65.6 46.5)" opacity="0.75"/><ellipse cx="102.1" cy="100.1" rx="1.1" ry="1.1" transform="rotate(47 102.1 100.1)" opacity="0.79"/><ellipse cx="26.6" cy="23.5" rx="1.5" ry="1.2" transform="rotate(161 26.6 23.5)" opacity="0.33"/><ellipse cx="102.2" cy="15.8" rx="1.3" ry="1.3" transform="rotate(70 102.2 15.8)" opacity="0.78"/><ellipse cx="59.7" cy="12.1" rx="1.8" ry="1.4" transform="rotate(76 59.7 12.1)" opacity="0.85"/><ellipse cx="45.2" cy="104.7" rx="1.6" ry="1.5" transform="rotate(54 45.2 104.7)" opacity="0.55"/><ellipse cx="71.6" cy="26.8" rx="1.6" ry="1.4" transform="rotate(97 71.6 26.8)" opacity="0.74"/><ellipse cx="26.6" cy="42.2" rx="1.8" ry="1.6" transform="rotate(156 26.6 42.2)" opacity="0.54"/><ellipse cx="28.8" cy="82.2" rx="1.7" ry="1.4" transform="rotate(63 28.8 82.2)" opacity="0.87"/><ellipse cx="31.9" cy="24.9" rx="1.9" ry="1.5" transform="rotate(16 31.9 24.9)" opacity="0.33"/><ellipse cx="13.4" cy="5.1" rx="1.7" ry="1.4" transform="rotate(26 13.4 5.1)" opacity="0.75"/><ellipse cx="47.6" cy="68.2" rx="1.5" ry="1.4" transform="rotate(85 47.6 68.2)" opacity="0.83"/><ellipse cx="7.2" cy="93.5" rx="1.1" ry="1.0" transform="rotate(125 7.2 93.5)" opacity="0.87"/><ellipse cx="2.3" cy="90.1" rx="1.6" ry="1.4" transform="rotate(16 2.3 90.1)" opacity="0.80"/><ellipse cx="105.8" cy="12.5" rx="1.6" ry="1.6" transform="rotate(77 105.8 12.5)" opacity="0.68"/><ellipse cx="92.8" cy="3.2" rx="1.3" ry="1.2" transform="rotate(93 92.8 3.2)" opacity="0.73"/><ellipse cx="43.7" cy="47.9" rx="1.9" ry="1.5" transform="rotate(20 43.7 47.9)" opacity="0.64"/><ellipse cx="90.8" cy="73.5" rx="1.1" ry="1.0" transform="rotate(149 90.8 73.5)" opacity="0.40"/><ellipse cx="6.4" cy="34.5" rx="1.6" ry="1.4" transform="rotate(37 6.4 34.5)" opacity="0.34"/><ellipse cx="60.4" cy="25.0" rx="1.6" ry="1.2" transform="rotate(13 60.4 25.0)" opacity="0.79"/><ellipse cx="87.6" cy="72.6" rx="1.3" ry="1.2" transform="rotate(45 87.6 72.6)" opacity="0.73"/><ellipse cx="53.1" cy="74.6" rx="1.9" ry="1.6" transform="rotate(144 53.1 74.6)" opacity="0.63"/><ellipse cx="63.7" cy="100.8" rx="1.3" ry="1.2" transform="rotate(105 63.7 100.8)" opacity="0.91"/><ellipse cx="58.4" cy="-0.7" rx="1.6" ry="1.4" transform="rotate(128 58.4 -0.7)" opacity="0.70"/><ellipse cx="58.4" cy="107.3" rx="1.6" ry="1.4" transform="rotate(128 58.4 107.3)" opacity="0.70"/><ellipse cx="13.5" cy="82.3" rx="1.7" ry="1.6" transform="rotate(8 13.5 82.3)" opacity="0.51"/><ellipse cx="35.9" cy="43.3" rx="1.8" ry="1.7" transform="rotate(83 35.9 43.3)" opacity="0.36"/><ellipse cx="52.2" cy="65.4" rx="1.3" ry="1.2" transform="rotate(121 52.2 65.4)" opacity="0.40"/><ellipse cx="46.2" cy="5.0" rx="1.2" ry="1.1" transform="rotate(167 46.2 5.0)" opacity="0.38"/><ellipse cx="6.3" cy="61.5" rx="1.2" ry="1.1" transform="rotate(154 6.3 61.5)" opacity="0.40"/><ellipse cx="62.9" cy="6.1" rx="1.6" ry="1.3" transform="rotate(76 62.9 6.1)" opacity="0.74"/><ellipse cx="106.2" cy="101.2" rx="1.3" ry="1.1" transform="rotate(118 106.2 101.2)" opacity="0.93"/><ellipse cx="0.8" cy="80.4" rx="1.3" ry="1.2" transform="rotate(131 0.8 80.4)" opacity="0.89"/><ellipse cx="108.8" cy="80.4" rx="1.3" ry="1.2" transform="rotate(131 108.8 80.4)" opacity="0.89"/><ellipse cx="15.1" cy="8.7" rx="2.0" ry="1.7" transform="rotate(22 15.1 8.7)" opacity="0.32"/><ellipse cx="77.3" cy="5.4" rx="2.0" ry="1.6" transform="rotate(146 77.3 5.4)" opacity="0.41"/><ellipse cx="43.1" cy="37.7" rx="1.4" ry="1.1" transform="rotate(88 43.1 37.7)" opacity="0.84"/><ellipse cx="101.2" cy="39.5" rx="1.2" ry="1.1" transform="rotate(89 101.2 39.5)" opacity="0.80"/><ellipse cx="66.0" cy="37.5" rx="1.3" ry="1.0" transform="rotate(140 66.0 37.5)" opacity="0.81"/><ellipse cx="77.2" cy="6.8" rx="1.3" ry="1.1" transform="rotate(113 77.2 6.8)" opacity="0.49"/><ellipse cx="83.0" cy="75.4" rx="2.0" ry="1.6" transform="rotate(61 83.0 75.4)" opacity="0.67"/><ellipse cx="34.9" cy="34.6" rx="2.2" ry="1.7" transform="rotate(86 34.9 34.6)" opacity="0.36"/><ellipse cx="30.4" cy="90.9" rx="2.0" ry="1.5" transform="rotate(88 30.4 90.9)" opacity="0.70"/><ellipse cx="34.6" cy="39.2" rx="1.3" ry="1.3" transform="rotate(11 34.6 39.2)" opacity="0.64"/><ellipse cx="98.9" cy="3.9" rx="1.5" ry="1.3" transform="rotate(73 98.9 3.9)" opacity="0.59"/><ellipse cx="7.8" cy="38.9" rx="1.7" ry="1.6" transform="rotate(121 7.8 38.9)" opacity="0.92"/><ellipse cx="16.0" cy="16.2" rx="1.8" ry="1.7" transform="rotate(70 16.0 16.2)" opacity="0.83"/><ellipse cx="85.2" cy="6.7" rx="1.9" ry="1.6" transform="rotate(54 85.2 6.7)" opacity="0.91"/><ellipse cx="33.2" cy="64.4" rx="2.1" ry="1.7" transform="rotate(131 33.2 64.4)" opacity="0.75"/><ellipse cx="30.1" cy="98.6" rx="2.0" ry="1.6" transform="rotate(81 30.1 98.6)" opacity="0.73"/><ellipse cx="70.7" cy="18.7" rx="1.9" ry="1.5" transform="rotate(73 70.7 18.7)" opacity="0.44"/><ellipse cx="20.9" cy="94.3" rx="1.8" ry="1.6" transform="rotate(37 20.9 94.3)" opacity="0.53"/><ellipse cx="95.7" cy="92.0" rx="2.0" ry="1.6" transform="rotate(137 95.7 92.0)" opacity="0.82"/><ellipse cx="51.0" cy="103.7" rx="1.6" ry="1.3" transform="rotate(47 51.0 103.7)" opacity="0.80"/><ellipse cx="8.0" cy="76.5" rx="1.7" ry="1.5" transform="rotate(116 8.0 76.5)" opacity="0.77"/><ellipse cx="53.4" cy="74.7" rx="1.7" ry="1.3" transform="rotate(27 53.4 74.7)" opacity="0.88"/><ellipse cx="70.8" cy="62.5" rx="1.4" ry="1.2" transform="rotate(113 70.8 62.5)" opacity="0.55"/><ellipse cx="46.6" cy="104.7" rx="2.1" ry="1.7" transform="rotate(1 46.6 104.7)" opacity="0.43"/><ellipse cx="24.4" cy="94.1" rx="1.6" ry="1.2" transform="rotate(137 24.4 94.1)" opacity="0.36"/><ellipse cx="-0.2" cy="35.4" rx="1.5" ry="1.4" transform="rotate(172 -0.2 35.4)" opacity="0.73"/><ellipse cx="107.8" cy="35.4" rx="1.5" ry="1.4" transform="rotate(172 107.8 35.4)" opacity="0.73"/><ellipse cx="104.5" cy="72.0" rx="1.9" ry="1.5" transform="rotate(91 104.5 72.0)" opacity="0.57"/><ellipse cx="69.6" cy="78.0" rx="1.5" ry="1.2" transform="rotate(2 69.6 78.0)" opacity="0.41"/><ellipse cx="87.3" cy="71.3" rx="1.7" ry="1.4" transform="rotate(103 87.3 71.3)" opacity="0.75"/><ellipse cx="64.4" cy="15.0" rx="1.9" ry="1.5" transform="rotate(131 64.4 15.0)" opacity="0.47"/><ellipse cx="8.9" cy="86.3" rx="1.2" ry="1.0" transform="rotate(125 8.9 86.3)" opacity="0.39"/><ellipse cx="69.9" cy="21.1" rx="1.8" ry="1.6" transform="rotate(101 69.9 21.1)" opacity="0.45"/><ellipse cx="16.7" cy="78.0" rx="1.4" ry="1.3" transform="rotate(9 16.7 78.0)" opacity="0.84"/><ellipse cx="77.2" cy="74.2" rx="1.4" ry="1.1" transform="rotate(179 77.2 74.2)" opacity="0.72"/><ellipse cx="78.3" cy="96.6" rx="2.1" ry="1.7" transform="rotate(95 78.3 96.6)" opacity="0.47"/><ellipse cx="57.6" cy="23.8" rx="1.5" ry="1.3" transform="rotate(94 57.6 23.8)" opacity="0.35"/><ellipse cx="0.4" cy="22.7" rx="1.4" ry="1.2" transform="rotate(65 0.4 22.7)" opacity="0.37"/><ellipse cx="108.4" cy="22.7" rx="1.4" ry="1.2" transform="rotate(65 108.4 22.7)" opacity="0.37"/><ellipse cx="23.9" cy="63.9" rx="1.5" ry="1.2" transform="rotate(141 23.9 63.9)" opacity="0.57"/><ellipse cx="39.1" cy="57.6" rx="1.7" ry="1.4" transform="rotate(27 39.1 57.6)" opacity="0.33"/><ellipse cx="16.8" cy="55.9" rx="1.7" ry="1.4" transform="rotate(82 16.8 55.9)" opacity="0.94"/><ellipse cx="53.2" cy="56.9" rx="1.5" ry="1.2" transform="rotate(122 53.2 56.9)" opacity="0.65"/><ellipse cx="80.2" cy="52.6" rx="1.7" ry="1.6" transform="rotate(159 80.2 52.6)" opacity="0.46"/><ellipse cx="36.8" cy="83.1" rx="1.6" ry="1.6" transform="rotate(69 36.8 83.1)" opacity="0.57"/><ellipse cx="75.4" cy="99.5" rx="1.5" ry="1.3" transform="rotate(102 75.4 99.5)" opacity="0.66"/><ellipse cx="1.9" cy="69.9" rx="1.2" ry="1.1" transform="rotate(142 1.9 69.9)" opacity="0.84"/><ellipse cx="64.9" cy="40.1" rx="1.9" ry="1.5" transform="rotate(105 64.9 40.1)" opacity="0.75"/><ellipse cx="52.4" cy="63.3" rx="1.7" ry="1.5" transform="rotate(105 52.4 63.3)" opacity="0.81"/><ellipse cx="42.9" cy="2.3" rx="1.3" ry="1.3" transform="rotate(85 42.9 2.3)" opacity="0.75"/><ellipse cx="97.5" cy="30.2" rx="1.5" ry="1.5" transform="rotate(30 97.5 30.2)" opacity="0.78"/><ellipse cx="31.1" cy="43.1" rx="1.0" ry="1.0" transform="rotate(152 31.1 43.1)" opacity="0.55"/><ellipse cx="15.4" cy="67.3" rx="2.1" ry="1.7" transform="rotate(89 15.4 67.3)" opacity="0.51"/><ellipse cx="75.8" cy="35.2" rx="1.6" ry="1.6" transform="rotate(112 75.8 35.2)" opacity="0.85"/><ellipse cx="17.5" cy="25.7" rx="1.9" ry="1.6" transform="rotate(73 17.5 25.7)" opacity="0.61"/><ellipse cx="40.1" cy="16.8" rx="2.0" ry="1.6" transform="rotate(28 40.1 16.8)" opacity="0.92"/><ellipse cx="84.8" cy="11.8" rx="1.2" ry="1.1" transform="rotate(176 84.8 11.8)" opacity="0.84"/><ellipse cx="15.5" cy="10.4" rx="1.6" ry="1.4" transform="rotate(82 15.5 10.4)" opacity="0.89"/><ellipse cx="81.1" cy="76.0" rx="1.2" ry="1.2" transform="rotate(145 81.1 76.0)" opacity="0.51"/><ellipse cx="59.5" cy="18.9" rx="1.7" ry="1.5" transform="rotate(171 59.5 18.9)" opacity="0.76"/><ellipse cx="65.7" cy="40.4" rx="1.4" ry="1.1" transform="rotate(152 65.7 40.4)" opacity="0.77"/><ellipse cx="43.0" cy="85.6" rx="1.8" ry="1.6" transform="rotate(179 43.0 85.6)" opacity="0.31"/><ellipse cx="25.4" cy="3.7" rx="1.9" ry="1.6" transform="rotate(134 25.4 3.7)" opacity="0.88"/><ellipse cx="20.1" cy="5.2" rx="1.6" ry="1.3" transform="rotate(106 20.1 5.2)" opacity="0.83"/><ellipse cx="18.9" cy="72.6" rx="1.4" ry="1.3" transform="rotate(105 18.9 72.6)" opacity="0.87"/><ellipse cx="3.5" cy="67.7" rx="1.6" ry="1.5" transform="rotate(0 3.5 67.7)" opacity="0.84"/><ellipse cx="83.5" cy="15.8" rx="1.6" ry="1.4" transform="rotate(72 83.5 15.8)" opacity="0.58"/><ellipse cx="103.5" cy="71.7" rx="1.3" ry="1.1" transform="rotate(176 103.5 71.7)" opacity="0.78"/><ellipse cx="14.4" cy="4.8" rx="1.4" ry="1.1" transform="rotate(171 14.4 4.8)" opacity="0.70"/><ellipse cx="24.3" cy="46.9" rx="1.2" ry="1.0" transform="rotate(33 24.3 46.9)" opacity="0.47"/><ellipse cx="-0.0" cy="94.0" rx="1.7" ry="1.5" transform="rotate(159 -0.0 94.0)" opacity="0.91"/><ellipse cx="108.0" cy="94.0" rx="1.7" ry="1.5" transform="rotate(159 108.0 94.0)" opacity="0.91"/><ellipse cx="34.6" cy="10.2" rx="1.2" ry="1.1" transform="rotate(110 34.6 10.2)" opacity="0.73"/><ellipse cx="-0.3" cy="97.4" rx="1.4" ry="1.1" transform="rotate(69 -0.3 97.4)" opacity="0.86"/><ellipse cx="107.7" cy="97.4" rx="1.4" ry="1.1" transform="rotate(69 107.7 97.4)" opacity="0.86"/><ellipse cx="51.1" cy="14.1" rx="1.9" ry="1.5" transform="rotate(2 51.1 14.1)" opacity="0.70"/><ellipse cx="52.2" cy="6.2" rx="1.4" ry="1.2" transform="rotate(81 52.2 6.2)" opacity="0.46"/><ellipse cx="100.1" cy="4.3" rx="1.6" ry="1.3" transform="rotate(44 100.1 4.3)" opacity="0.69"/><ellipse cx="19.9" cy="15.0" rx="1.9" ry="1.6" transform="rotate(7 19.9 15.0)" opacity="0.57"/><ellipse cx="83.0" cy="84.5" rx="1.4" ry="1.2" transform="rotate(74 83.0 84.5)" opacity="0.92"/><ellipse cx="10.9" cy="72.2" rx="1.8" ry="1.4" transform="rotate(14 10.9 72.2)" opacity="0.80"/><ellipse cx="75.6" cy="17.7" rx="1.6" ry="1.4" transform="rotate(11 75.6 17.7)" opacity="0.41"/><ellipse cx="-0.1" cy="90.7" rx="1.2" ry="1.0" transform="rotate(82 -0.1 90.7)" opacity="0.52"/><ellipse cx="107.9" cy="90.7" rx="1.2" ry="1.0" transform="rotate(82 107.9 90.7)" opacity="0.52"/><ellipse cx="103.0" cy="83.4" rx="1.3" ry="1.0" transform="rotate(104 103.0 83.4)" opacity="0.34"/><ellipse cx="25.9" cy="30.5" rx="1.2" ry="1.1" transform="rotate(168 25.9 30.5)" opacity="0.76"/><ellipse cx="43.2" cy="104.0" rx="1.2" ry="1.1" transform="rotate(4 43.2 104.0)" opacity="0.60"/><ellipse cx="72.2" cy="85.6" rx="1.4" ry="1.3" transform="rotate(36 72.2 85.6)" opacity="0.49"/><ellipse cx="68.6" cy="73.0" rx="1.1" ry="1.1" transform="rotate(25 68.6 73.0)" opacity="0.67"/><ellipse cx="76.2" cy="55.6" rx="2.1" ry="1.7" transform="rotate(146 76.2 55.6)" opacity="0.37"/><ellipse cx="14.5" cy="68.4" rx="2.0" ry="1.6" transform="rotate(42 14.5 68.4)" opacity="0.50"/><ellipse cx="72.0" cy="95.9" rx="1.3" ry="1.1" transform="rotate(83 72.0 95.9)" opacity="0.60"/><ellipse cx="23.1" cy="40.8" rx="1.4" ry="1.3" transform="rotate(38 23.1 40.8)" opacity="0.93"/><ellipse cx="84.3" cy="28.2" rx="1.5" ry="1.4" transform="rotate(89 84.3 28.2)" opacity="0.56"/><ellipse cx="38.7" cy="67.7" rx="1.5" ry="1.2" transform="rotate(21 38.7 67.7)" opacity="0.53"/><ellipse cx="64.7" cy="96.8" rx="1.3" ry="1.0" transform="rotate(52 64.7 96.8)" opacity="0.69"/><ellipse cx="101.6" cy="73.6" rx="1.4" ry="1.1" transform="rotate(9 101.6 73.6)" opacity="0.84"/><ellipse cx="56.1" cy="96.4" rx="1.5" ry="1.3" transform="rotate(160 56.1 96.4)" opacity="0.41"/><ellipse cx="28.6" cy="55.1" rx="1.1" ry="1.1" transform="rotate(119 28.6 55.1)" opacity="0.63"/><ellipse cx="5.6" cy="90.1" rx="1.6" ry="1.4" transform="rotate(24 5.6 90.1)" opacity="0.65"/><ellipse cx="33.8" cy="31.4" rx="1.2" ry="1.1" transform="rotate(122 33.8 31.4)" opacity="0.61"/><ellipse cx="99.2" cy="83.2" rx="1.1" ry="1.1" transform="rotate(82 99.2 83.2)" opacity="0.62"/><ellipse cx="71.9" cy="49.6" rx="1.8" ry="1.6" transform="rotate(93 71.9 49.6)" opacity="0.40"/><ellipse cx="104.2" cy="1.7" rx="1.4" ry="1.2" transform="rotate(52 104.2 1.7)" opacity="0.40"/><ellipse cx="104.2" cy="109.7" rx="1.4" ry="1.2" transform="rotate(52 104.2 109.7)" opacity="0.40"/><ellipse cx="103.3" cy="40.3" rx="1.7" ry="1.3" transform="rotate(12 103.3 40.3)" opacity="0.90"/><ellipse cx="77.4" cy="94.3" rx="1.1" ry="1.1" transform="rotate(79 77.4 94.3)" opacity="0.77"/><ellipse cx="73.5" cy="70.5" rx="1.4" ry="1.2" transform="rotate(46 73.5 70.5)" opacity="0.88"/><ellipse cx="95.6" cy="78.9" rx="2.0" ry="1.6" transform="rotate(130 95.6 78.9)" opacity="0.53"/><ellipse cx="9.2" cy="65.2" rx="1.3" ry="1.2" transform="rotate(34 9.2 65.2)" opacity="0.38"/><ellipse cx="43.9" cy="15.1" rx="1.3" ry="1.1" transform="rotate(24 43.9 15.1)" opacity="0.39"/><ellipse cx="45.7" cy="101.8" rx="1.9" ry="1.7" transform="rotate(119 45.7 101.8)" opacity="0.37"/><ellipse cx="56.1" cy="43.0" rx="2.0" ry="1.7" transform="rotate(6 56.1 43.0)" opacity="0.33"/><ellipse cx="90.9" cy="105.6" rx="1.4" ry="1.3" transform="rotate(101 90.9 105.6)" opacity="0.36"/><ellipse cx="54.2" cy="55.2" rx="1.6" ry="1.3" transform="rotate(46 54.2 55.2)" opacity="0.53"/><ellipse cx="72.5" cy="66.8" rx="1.4" ry="1.3" transform="rotate(106 72.5 66.8)" opacity="0.45"/><ellipse cx="47.2" cy="30.0" rx="1.2" ry="1.0" transform="rotate(13 47.2 30.0)" opacity="0.53"/><ellipse cx="27.3" cy="34.0" rx="1.4" ry="1.3" transform="rotate(57 27.3 34.0)" opacity="0.70"/><ellipse cx="21.7" cy="56.3" rx="1.8" ry="1.5" transform="rotate(106 21.7 56.3)" opacity="0.91"/><ellipse cx="83.3" cy="11.5" rx="1.9" ry="1.5" transform="rotate(108 83.3 11.5)" opacity="0.69"/><ellipse cx="76.4" cy="63.2" rx="1.2" ry="1.1" transform="rotate(131 76.4 63.2)" opacity="0.78"/><ellipse cx="57.8" cy="12.3" rx="1.6" ry="1.3" transform="rotate(138 57.8 12.3)" opacity="0.57"/><ellipse cx="27.4" cy="15.7" rx="1.2" ry="1.2" transform="rotate(101 27.4 15.7)" opacity="0.57"/><ellipse cx="101.4" cy="24.6" rx="1.8" ry="1.7" transform="rotate(11 101.4 24.6)" opacity="0.75"/><ellipse cx="84.8" cy="48.9" rx="1.9" ry="1.6" transform="rotate(147 84.8 48.9)" opacity="0.63"/><ellipse cx="51.6" cy="57.4" rx="1.5" ry="1.4" transform="rotate(178 51.6 57.4)" opacity="0.43"/><ellipse cx="34.9" cy="71.4" rx="1.8" ry="1.4" transform="rotate(97 34.9 71.4)" opacity="0.51"/><ellipse cx="1.2" cy="39.3" rx="1.8" ry="1.5" transform="rotate(10 1.2 39.3)" opacity="0.62"/><ellipse cx="109.2" cy="39.3" rx="1.8" ry="1.5" transform="rotate(10 109.2 39.3)" opacity="0.62"/><ellipse cx="54.9" cy="91.6" rx="1.9" ry="1.5" transform="rotate(153 54.9 91.6)" opacity="0.35"/><ellipse cx="26.4" cy="22.5" rx="1.7" ry="1.6" transform="rotate(154 26.4 22.5)" opacity="0.75"/><ellipse cx="67.2" cy="91.5" rx="1.6" ry="1.3" transform="rotate(154 67.2 91.5)" opacity="0.76"/><ellipse cx="16.5" cy="40.9" rx="1.4" ry="1.2" transform="rotate(40 16.5 40.9)" opacity="0.85"/><ellipse cx="3.6" cy="16.2" rx="1.3" ry="1.1" transform="rotate(119 3.6 16.2)" opacity="0.39"/><ellipse cx="94.1" cy="61.1" rx="1.6" ry="1.5" transform="rotate(71 94.1 61.1)" opacity="0.70"/><ellipse cx="94.8" cy="19.2" rx="1.8" ry="1.6" transform="rotate(106 94.8 19.2)" opacity="0.78"/><ellipse cx="39.4" cy="4.4" rx="1.7" ry="1.4" transform="rotate(159 39.4 4.4)" opacity="0.74"/><ellipse cx="96.3" cy="-0.0" rx="2.0" ry="1.6" transform="rotate(12 96.3 -0.0)" opacity="0.76"/><ellipse cx="96.3" cy="108.0" rx="2.0" ry="1.6" transform="rotate(12 96.3 108.0)" opacity="0.76"/><ellipse cx="61.7" cy="23.4" rx="1.5" ry="1.5" transform="rotate(8 61.7 23.4)" opacity="0.73"/><ellipse cx="72.7" cy="-1.6" rx="1.1" ry="1.0" transform="rotate(43 72.7 -1.6)" opacity="0.89"/><ellipse cx="72.7" cy="106.4" rx="1.1" ry="1.0" transform="rotate(43 72.7 106.4)" opacity="0.89"/><ellipse cx="17.7" cy="48.4" rx="2.0" ry="1.7" transform="rotate(27 17.7 48.4)" opacity="0.53"/><ellipse cx="44.8" cy="4.7" rx="1.6" ry="1.6" transform="rotate(63 44.8 4.7)" opacity="0.65"/><ellipse cx="22.7" cy="25.3" rx="1.4" ry="1.3" transform="rotate(37 22.7 25.3)" opacity="0.75"/><ellipse cx="2.0" cy="23.6" rx="2.0" ry="1.6" transform="rotate(151 2.0 23.6)" opacity="0.36"/><ellipse cx="110.0" cy="23.6" rx="2.0" ry="1.6" transform="rotate(151 110.0 23.6)" opacity="0.36"/><ellipse cx="85.6" cy="81.1" rx="1.6" ry="1.3" transform="rotate(173 85.6 81.1)" opacity="0.44"/><ellipse cx="32.0" cy="51.7" rx="1.7" ry="1.5" transform="rotate(144 32.0 51.7)" opacity="0.41"/><ellipse cx="71.0" cy="16.1" rx="1.6" ry="1.3" transform="rotate(88 71.0 16.1)" opacity="0.54"/><ellipse cx="49.5" cy="48.2" rx="1.4" ry="1.2" transform="rotate(40 49.5 48.2)" opacity="0.64"/><ellipse cx="36.6" cy="11.3" rx="1.5" ry="1.3" transform="rotate(108 36.6 11.3)" opacity="0.63"/><ellipse cx="26.4" cy="39.6" rx="1.3" ry="1.2" transform="rotate(60 26.4 39.6)" opacity="0.51"/><ellipse cx="17.9" cy="88.4" rx="1.8" ry="1.5" transform="rotate(115 17.9 88.4)" opacity="0.43"/><ellipse cx="57.1" cy="44.6" rx="1.4" ry="1.2" transform="rotate(100 57.1 44.6)" opacity="0.75"/><ellipse cx="67.1" cy="100.4" rx="2.0" ry="1.5" transform="rotate(66 67.1 100.4)" opacity="0.81"/><ellipse cx="9.7" cy="78.1" rx="1.5" ry="1.4" transform="rotate(22 9.7 78.1)" opacity="0.31"/><ellipse cx="77.0" cy="87.7" rx="1.7" ry="1.7" transform="rotate(81 77.0 87.7)" opacity="0.62"/><ellipse cx="2.0" cy="19.1" rx="1.7" ry="1.4" transform="rotate(163 2.0 19.1)" opacity="0.63"/><ellipse cx="110.0" cy="19.1" rx="1.7" ry="1.4" transform="rotate(163 110.0 19.1)" opacity="0.63"/><ellipse cx="98.0" cy="63.2" rx="1.4" ry="1.3" transform="rotate(114 98.0 63.2)" opacity="0.89"/><ellipse cx="94.5" cy="6.8" rx="1.4" ry="1.2" transform="rotate(28 94.5 6.8)" opacity="0.36"/><ellipse cx="50.7" cy="45.2" rx="2.0" ry="1.6" transform="rotate(133 50.7 45.2)" opacity="0.35"/><ellipse cx="64.0" cy="12.3" rx="1.4" ry="1.3" transform="rotate(47 64.0 12.3)" opacity="0.53"/><ellipse cx="97.8" cy="66.3" rx="2.0" ry="1.7" transform="rotate(35 97.8 66.3)" opacity="0.36"/><ellipse cx="1.8" cy="102.3" rx="1.6" ry="1.5" transform="rotate(41 1.8 102.3)" opacity="0.92"/><ellipse cx="109.8" cy="102.3" rx="1.6" ry="1.5" transform="rotate(41 109.8 102.3)" opacity="0.92"/><ellipse cx="87.7" cy="40.5" rx="1.3" ry="1.2" transform="rotate(41 87.7 40.5)" opacity="0.43"/><ellipse cx="21.1" cy="95.4" rx="1.2" ry="1.1" transform="rotate(56 21.1 95.4)" opacity="0.36"/><ellipse cx="21.7" cy="39.9" rx="1.7" ry="1.6" transform="rotate(67 21.7 39.9)" opacity="0.46"/><ellipse cx="97.8" cy="63.2" rx="1.8" ry="1.6" transform="rotate(94 97.8 63.2)" opacity="0.61"/><ellipse cx="84.0" cy="66.2" rx="1.8" ry="1.7" transform="rotate(22 84.0 66.2)" opacity="0.88"/><ellipse cx="97.7" cy="83.4" rx="2.1" ry="1.6" transform="rotate(167 97.7 83.4)" opacity="0.33"/><ellipse cx="104.9" cy="65.3" rx="1.5" ry="1.5" transform="rotate(174 104.9 65.3)" opacity="0.65"/><ellipse cx="14.9" cy="54.0" rx="1.7" ry="1.3" transform="rotate(101 14.9 54.0)" opacity="0.56"/><ellipse cx="74.5" cy="26.7" rx="1.3" ry="1.1" transform="rotate(60 74.5 26.7)" opacity="0.37"/><ellipse cx="71.6" cy="86.8" rx="1.5" ry="1.2" transform="rotate(30 71.6 86.8)" opacity="0.51"/><ellipse cx="10.6" cy="-1.8" rx="1.3" ry="1.0" transform="rotate(173 10.6 -1.8)" opacity="0.94"/><ellipse cx="10.6" cy="106.2" rx="1.3" ry="1.0" transform="rotate(173 10.6 106.2)" opacity="0.94"/><ellipse cx="62.5" cy="83.6" rx="1.1" ry="1.1" transform="rotate(163 62.5 83.6)" opacity="0.92"/><ellipse cx="53.7" cy="53.4" rx="1.7" ry="1.6" transform="rotate(67 53.7 53.4)" opacity="0.76"/><ellipse cx="13.7" cy="9.5" rx="1.7" ry="1.4" transform="rotate(115 13.7 9.5)" opacity="0.67"/><ellipse cx="50.6" cy="40.6" rx="1.5" ry="1.4" transform="rotate(75 50.6 40.6)" opacity="0.68"/><ellipse cx="92.9" cy="70.1" rx="1.7" ry="1.4" transform="rotate(177 92.9 70.1)" opacity="0.85"/><ellipse cx="104.3" cy="47.6" rx="1.9" ry="1.6" transform="rotate(106 104.3 47.6)" opacity="0.91"/><ellipse cx="78.7" cy="9.7" rx="1.7" ry="1.5" transform="rotate(85 78.7 9.7)" opacity="0.83"/><ellipse cx="45.3" cy="56.2" rx="1.3" ry="1.0" transform="rotate(2 45.3 56.2)" opacity="0.40"/><ellipse cx="100.5" cy="63.5" rx="1.4" ry="1.1" transform="rotate(157 100.5 63.5)" opacity="0.56"/><ellipse cx="84.0" cy="51.7" rx="1.7" ry="1.5" transform="rotate(148 84.0 51.7)" opacity="0.68"/><ellipse cx="22.9" cy="13.5" rx="2.0" ry="1.6" transform="rotate(3 22.9 13.5)" opacity="0.81"/><ellipse cx="7.5" cy="8.2" rx="1.9" ry="1.5" transform="rotate(109 7.5 8.2)" opacity="0.71"/><ellipse cx="27.0" cy="49.9" rx="1.9" ry="1.7" transform="rotate(124 27.0 49.9)" opacity="0.93"/><ellipse cx="53.9" cy="70.9" rx="1.6" ry="1.3" transform="rotate(123 53.9 70.9)" opacity="0.39"/></g></pattern><pattern id="q8" href="#dpb4" patternTransform="translate(124.7 964.4)"/><pattern id="dpg" width="108" height="108" patternUnits="userSpaceOnUse"><g fill="#3cd078"><ellipse cx="37.3" cy="93.8" rx="1.2" ry="1.2" transform="rotate(160 37.3 93.8)" opacity="0.93"/><ellipse cx="40.2" cy="52.9" rx="1.1" ry="1.0" transform="rotate(155 40.2 52.9)" opacity="0.53"/><ellipse cx="90.3" cy="17.8" rx="1.3" ry="0.9" transform="rotate(9 90.3 17.8)" opacity="0.57"/><ellipse cx="39.2" cy="66.5" rx="1.0" ry="1.0" transform="rotate(21 39.2 66.5)" opacity="0.79"/><ellipse cx="20.2" cy="38.7" rx="1.6" ry="1.2" transform="rotate(146 20.2 38.7)" opacity="0.72"/><ellipse cx="9.8" cy="94.6" rx="1.8" ry="1.2" transform="rotate(93 9.8 94.6)" opacity="0.64"/><ellipse cx="36.9" cy="36.7" rx="1.3" ry="1.2" transform="rotate(80 36.9 36.7)" opacity="0.67"/><ellipse cx="52.5" cy="76.6" rx="1.3" ry="1.1" transform="rotate(46 52.5 76.6)" opacity="0.79"/><ellipse cx="71.5" cy="8.2" rx="1.4" ry="1.1" transform="rotate(174 71.5 8.2)" opacity="0.58"/><ellipse cx="92.6" cy="104.9" rx="1.3" ry="1.2" transform="rotate(86 92.6 104.9)" opacity="0.48"/><ellipse cx="95.1" cy="95.3" rx="1.3" ry="1.2" transform="rotate(71 95.1 95.3)" opacity="0.73"/><ellipse cx="46.9" cy="86.6" rx="1.4" ry="0.9" transform="rotate(174 46.9 86.6)" opacity="0.89"/><ellipse cx="83.2" cy="21.6" rx="1.2" ry="0.9" transform="rotate(75 83.2 21.6)" opacity="0.47"/><ellipse cx="76.0" cy="71.3" rx="1.6" ry="0.9" transform="rotate(123 76.0 71.3)" opacity="0.70"/><ellipse cx="92.9" cy="95.9" rx="1.7" ry="1.1" transform="rotate(6 92.9 95.9)" opacity="0.84"/><ellipse cx="11.8" cy="80.3" rx="1.4" ry="1.2" transform="rotate(134 11.8 80.3)" opacity="0.54"/><ellipse cx="82.7" cy="75.7" rx="0.9" ry="0.9" transform="rotate(134 82.7 75.7)" opacity="0.99"/><ellipse cx="80.8" cy="73.2" rx="1.1" ry="0.9" transform="rotate(6 80.8 73.2)" opacity="0.55"/><ellipse cx="18.1" cy="52.6" rx="1.2" ry="1.2" transform="rotate(97 18.1 52.6)" opacity="0.45"/><ellipse cx="65.1" cy="18.2" rx="1.3" ry="1.1" transform="rotate(172 65.1 18.2)" opacity="0.74"/><ellipse cx="62.3" cy="67.5" rx="1.3" ry="0.9" transform="rotate(119 62.3 67.5)" opacity="0.79"/><ellipse cx="89.7" cy="57.4" rx="1.2" ry="1.0" transform="rotate(6 89.7 57.4)" opacity="0.71"/><ellipse cx="98.6" cy="0.3" rx="1.3" ry="0.9" transform="rotate(154 98.6 0.3)" opacity="0.51"/><ellipse cx="98.6" cy="108.3" rx="1.3" ry="0.9" transform="rotate(154 98.6 108.3)" opacity="0.51"/><ellipse cx="13.6" cy="9.9" rx="1.5" ry="1.2" transform="rotate(18 13.6 9.9)" opacity="0.66"/><ellipse cx="15.7" cy="22.8" rx="1.8" ry="1.1" transform="rotate(140 15.7 22.8)" opacity="0.57"/><ellipse cx="17.2" cy="73.6" rx="1.7" ry="1.0" transform="rotate(59 17.2 73.6)" opacity="0.52"/><ellipse cx="20.8" cy="10.9" rx="1.5" ry="1.2" transform="rotate(42 20.8 10.9)" opacity="0.98"/><ellipse cx="44.8" cy="13.5" rx="1.4" ry="0.9" transform="rotate(96 44.8 13.5)" opacity="0.81"/><ellipse cx="60.9" cy="39.8" rx="1.4" ry="1.1" transform="rotate(108 60.9 39.8)" opacity="0.67"/><ellipse cx="84.9" cy="21.8" rx="1.0" ry="0.9" transform="rotate(157 84.9 21.8)" opacity="0.55"/><ellipse cx="18.8" cy="83.6" rx="1.4" ry="1.1" transform="rotate(32 18.8 83.6)" opacity="0.72"/><ellipse cx="29.1" cy="43.8" rx="1.1" ry="1.0" transform="rotate(73 29.1 43.8)" opacity="1.00"/><ellipse cx="58.1" cy="10.2" rx="2.0" ry="1.1" transform="rotate(162 58.1 10.2)" opacity="0.65"/><ellipse cx="105.1" cy="2.9" rx="2.0" ry="1.1" transform="rotate(53 105.1 2.9)" opacity="0.94"/><ellipse cx="39.4" cy="22.6" rx="1.2" ry="0.9" transform="rotate(161 39.4 22.6)" opacity="0.63"/><ellipse cx="77.9" cy="42.4" rx="1.2" ry="1.0" transform="rotate(21 77.9 42.4)" opacity="0.61"/><ellipse cx="9.0" cy="7.1" rx="1.6" ry="1.0" transform="rotate(142 9.0 7.1)" opacity="0.70"/><ellipse cx="92.1" cy="23.5" rx="1.0" ry="0.8" transform="rotate(56 92.1 23.5)" opacity="0.77"/><ellipse cx="29.7" cy="19.6" rx="1.7" ry="1.0" transform="rotate(165 29.7 19.6)" opacity="0.58"/><ellipse cx="94.1" cy="28.3" rx="1.2" ry="1.0" transform="rotate(73 94.1 28.3)" opacity="0.70"/><ellipse cx="1.3" cy="101.4" rx="1.9" ry="1.1" transform="rotate(101 1.3 101.4)" opacity="0.81"/><ellipse cx="109.3" cy="101.4" rx="1.9" ry="1.1" transform="rotate(101 109.3 101.4)" opacity="0.81"/><ellipse cx="40.4" cy="2.2" rx="1.8" ry="1.1" transform="rotate(164 40.4 2.2)" opacity="0.79"/><ellipse cx="40.4" cy="110.2" rx="1.8" ry="1.1" transform="rotate(164 40.4 110.2)" opacity="0.79"/><ellipse cx="29.5" cy="8.3" rx="1.3" ry="1.2" transform="rotate(2 29.5 8.3)" opacity="0.95"/><ellipse cx="45.6" cy="86.4" rx="1.3" ry="1.1" transform="rotate(47 45.6 86.4)" opacity="0.67"/><ellipse cx="0.9" cy="58.0" rx="1.7" ry="1.2" transform="rotate(130 0.9 58.0)" opacity="0.49"/><ellipse cx="108.9" cy="58.0" rx="1.7" ry="1.2" transform="rotate(130 108.9 58.0)" opacity="0.49"/><ellipse cx="49.1" cy="59.6" rx="1.6" ry="1.2" transform="rotate(88 49.1 59.6)" opacity="0.97"/><ellipse cx="35.6" cy="17.9" rx="1.5" ry="1.2" transform="rotate(132 35.6 17.9)" opacity="0.72"/><ellipse cx="72.6" cy="44.3" rx="1.1" ry="1.1" transform="rotate(142 72.6 44.3)" opacity="0.97"/><ellipse cx="73.3" cy="6.8" rx="1.5" ry="0.8" transform="rotate(166 73.3 6.8)" opacity="0.85"/><ellipse cx="22.9" cy="60.6" rx="1.3" ry="0.8" transform="rotate(95 22.9 60.6)" opacity="0.89"/><ellipse cx="91.5" cy="61.6" rx="0.9" ry="0.8" transform="rotate(16 91.5 61.6)" opacity="0.65"/><ellipse cx="32.0" cy="87.4" rx="1.2" ry="1.1" transform="rotate(64 32.0 87.4)" opacity="0.96"/><ellipse cx="72.0" cy="17.1" rx="1.4" ry="0.9" transform="rotate(169 72.0 17.1)" opacity="0.90"/><ellipse cx="89.1" cy="80.3" rx="1.1" ry="1.0" transform="rotate(30 89.1 80.3)" opacity="0.94"/><ellipse cx="95.5" cy="99.4" rx="1.4" ry="1.0" transform="rotate(92 95.5 99.4)" opacity="0.97"/><ellipse cx="88.0" cy="64.6" rx="1.5" ry="1.0" transform="rotate(8 88.0 64.6)" opacity="0.51"/><ellipse cx="0.6" cy="102.1" rx="1.8" ry="1.1" transform="rotate(153 0.6 102.1)" opacity="0.52"/><ellipse cx="108.6" cy="102.1" rx="1.8" ry="1.1" transform="rotate(153 108.6 102.1)" opacity="0.52"/><ellipse cx="3.2" cy="15.9" rx="2.1" ry="1.2" transform="rotate(68 3.2 15.9)" opacity="0.81"/><ellipse cx="46.3" cy="-1.9" rx="1.9" ry="1.1" transform="rotate(20 46.3 -1.9)" opacity="0.47"/><ellipse cx="46.3" cy="106.1" rx="1.9" ry="1.1" transform="rotate(20 46.3 106.1)" opacity="0.47"/><ellipse cx="40.2" cy="72.3" rx="1.8" ry="1.2" transform="rotate(152 40.2 72.3)" opacity="0.47"/><ellipse cx="26.5" cy="10.3" rx="1.5" ry="0.9" transform="rotate(1 26.5 10.3)" opacity="0.88"/><ellipse cx="97.1" cy="64.0" rx="1.1" ry="1.0" transform="rotate(51 97.1 64.0)" opacity="0.74"/><ellipse cx="18.9" cy="43.0" rx="1.8" ry="1.0" transform="rotate(128 18.9 43.0)" opacity="0.81"/><ellipse cx="43.4" cy="3.2" rx="1.4" ry="1.1" transform="rotate(172 43.4 3.2)" opacity="0.89"/><ellipse cx="75.0" cy="76.7" rx="1.0" ry="0.9" transform="rotate(2 75.0 76.7)" opacity="0.98"/><ellipse cx="29.7" cy="71.8" rx="2.1" ry="1.2" transform="rotate(93 29.7 71.8)" opacity="0.67"/><ellipse cx="70.4" cy="84.5" rx="1.4" ry="1.0" transform="rotate(71 70.4 84.5)" opacity="0.79"/><ellipse cx="67.6" cy="31.8" rx="1.6" ry="0.9" transform="rotate(7 67.6 31.8)" opacity="0.53"/><ellipse cx="62.2" cy="46.1" rx="2.0" ry="1.2" transform="rotate(155 62.2 46.1)" opacity="0.96"/><ellipse cx="88.0" cy="66.1" rx="1.5" ry="0.9" transform="rotate(49 88.0 66.1)" opacity="0.46"/><ellipse cx="90.6" cy="92.4" rx="1.0" ry="0.9" transform="rotate(162 90.6 92.4)" opacity="0.80"/><ellipse cx="47.3" cy="61.9" rx="1.0" ry="0.8" transform="rotate(161 47.3 61.9)" opacity="0.82"/><ellipse cx="69.5" cy="105.3" rx="1.9" ry="1.2" transform="rotate(133 69.5 105.3)" opacity="0.70"/><ellipse cx="75.7" cy="67.1" rx="2.2" ry="1.2" transform="rotate(55 75.7 67.1)" opacity="0.70"/><ellipse cx="44.3" cy="10.0" rx="1.3" ry="0.8" transform="rotate(110 44.3 10.0)" opacity="0.88"/><ellipse cx="36.8" cy="74.6" rx="1.7" ry="1.1" transform="rotate(87 36.8 74.6)" opacity="0.84"/><ellipse cx="83.1" cy="43.7" rx="1.5" ry="1.0" transform="rotate(109 83.1 43.7)" opacity="0.97"/><ellipse cx="11.2" cy="44.7" rx="1.0" ry="0.8" transform="rotate(22 11.2 44.7)" opacity="0.48"/><ellipse cx="89.0" cy="18.4" rx="1.2" ry="1.1" transform="rotate(54 89.0 18.4)" opacity="0.93"/><ellipse cx="36.4" cy="26.6" rx="1.6" ry="1.2" transform="rotate(170 36.4 26.6)" opacity="0.88"/><ellipse cx="33.7" cy="18.7" rx="0.9" ry="0.9" transform="rotate(52 33.7 18.7)" opacity="0.58"/><ellipse cx="63.5" cy="78.1" rx="1.9" ry="1.2" transform="rotate(5 63.5 78.1)" opacity="0.56"/><ellipse cx="88.6" cy="105.2" rx="1.1" ry="1.0" transform="rotate(74 88.6 105.2)" opacity="0.47"/><ellipse cx="59.6" cy="16.2" rx="1.0" ry="0.9" transform="rotate(53 59.6 16.2)" opacity="0.79"/><ellipse cx="51.6" cy="11.0" rx="1.3" ry="1.1" transform="rotate(179 51.6 11.0)" opacity="0.65"/><ellipse cx="24.1" cy="60.9" rx="1.7" ry="0.9" transform="rotate(111 24.1 60.9)" opacity="0.55"/><ellipse cx="76.9" cy="86.0" rx="1.1" ry="1.1" transform="rotate(72 76.9 86.0)" opacity="0.77"/><ellipse cx="56.2" cy="45.0" rx="0.8" ry="0.8" transform="rotate(133 56.2 45.0)" opacity="0.57"/><ellipse cx="79.6" cy="34.9" rx="1.8" ry="1.0" transform="rotate(62 79.6 34.9)" opacity="0.61"/><ellipse cx="-0.9" cy="95.7" rx="1.3" ry="0.8" transform="rotate(133 -0.9 95.7)" opacity="1.00"/><ellipse cx="107.1" cy="95.7" rx="1.3" ry="0.8" transform="rotate(133 107.1 95.7)" opacity="1.00"/><ellipse cx="12.1" cy="72.6" rx="1.3" ry="1.1" transform="rotate(113 12.1 72.6)" opacity="0.58"/><ellipse cx="66.5" cy="22.5" rx="1.3" ry="1.2" transform="rotate(31 66.5 22.5)" opacity="0.56"/><ellipse cx="82.0" cy="85.3" rx="1.7" ry="1.0" transform="rotate(23 82.0 85.3)" opacity="0.54"/><ellipse cx="6.5" cy="69.8" rx="1.8" ry="1.2" transform="rotate(100 6.5 69.8)" opacity="0.97"/><ellipse cx="53.1" cy="16.0" rx="1.3" ry="0.8" transform="rotate(73 53.1 16.0)" opacity="0.46"/><ellipse cx="52.7" cy="83.5" rx="1.3" ry="0.9" transform="rotate(110 52.7 83.5)" opacity="0.56"/><ellipse cx="106.3" cy="43.9" rx="0.9" ry="0.8" transform="rotate(154 106.3 43.9)" opacity="0.62"/><ellipse cx="57.1" cy="31.9" rx="1.0" ry="0.8" transform="rotate(104 57.1 31.9)" opacity="0.59"/><ellipse cx="28.4" cy="56.1" rx="1.2" ry="0.9" transform="rotate(50 28.4 56.1)" opacity="0.58"/><ellipse cx="96.1" cy="101.2" rx="1.3" ry="1.1" transform="rotate(61 96.1 101.2)" opacity="0.79"/><ellipse cx="63.2" cy="82.4" rx="1.9" ry="1.2" transform="rotate(12 63.2 82.4)" opacity="0.46"/><ellipse cx="43.7" cy="39.8" rx="1.7" ry="1.1" transform="rotate(125 43.7 39.8)" opacity="0.93"/><ellipse cx="19.3" cy="28.7" rx="1.4" ry="1.0" transform="rotate(45 19.3 28.7)" opacity="0.99"/><ellipse cx="0.6" cy="74.0" rx="2.0" ry="1.2" transform="rotate(159 0.6 74.0)" opacity="0.74"/><ellipse cx="108.6" cy="74.0" rx="2.0" ry="1.2" transform="rotate(159 108.6 74.0)" opacity="0.74"/><ellipse cx="52.2" cy="21.3" rx="2.0" ry="1.2" transform="rotate(23 52.2 21.3)" opacity="0.64"/><ellipse cx="58.4" cy="20.9" rx="1.3" ry="0.9" transform="rotate(79 58.4 20.9)" opacity="0.46"/><ellipse cx="24.8" cy="30.2" rx="1.3" ry="0.8" transform="rotate(81 24.8 30.2)" opacity="0.67"/><ellipse cx="100.3" cy="11.4" rx="1.5" ry="1.0" transform="rotate(44 100.3 11.4)" opacity="0.53"/><ellipse cx="83.1" cy="93.2" rx="2.0" ry="1.1" transform="rotate(49 83.1 93.2)" opacity="0.73"/><ellipse cx="35.6" cy="24.9" rx="1.6" ry="1.1" transform="rotate(110 35.6 24.9)" opacity="0.49"/><ellipse cx="7.3" cy="63.9" rx="1.6" ry="1.2" transform="rotate(122 7.3 63.9)" opacity="0.97"/><ellipse cx="21.1" cy="19.5" rx="1.5" ry="0.9" transform="rotate(81 21.1 19.5)" opacity="0.66"/><ellipse cx="17.5" cy="67.4" rx="1.2" ry="1.0" transform="rotate(167 17.5 67.4)" opacity="0.48"/><ellipse cx="23.0" cy="28.2" rx="1.9" ry="1.1" transform="rotate(68 23.0 28.2)" opacity="0.65"/><ellipse cx="1.7" cy="79.3" rx="1.4" ry="0.9" transform="rotate(64 1.7 79.3)" opacity="0.50"/><ellipse cx="109.7" cy="79.3" rx="1.4" ry="0.9" transform="rotate(64 109.7 79.3)" opacity="0.50"/><ellipse cx="3.7" cy="69.3" rx="1.5" ry="0.9" transform="rotate(165 3.7 69.3)" opacity="0.77"/><ellipse cx="92.7" cy="20.3" rx="1.6" ry="1.0" transform="rotate(84 92.7 20.3)" opacity="0.59"/><ellipse cx="34.4" cy="60.3" rx="1.2" ry="0.9" transform="rotate(39 34.4 60.3)" opacity="0.48"/><ellipse cx="86.8" cy="52.6" rx="1.8" ry="1.2" transform="rotate(101 86.8 52.6)" opacity="0.95"/><ellipse cx="16.7" cy="5.2" rx="1.3" ry="0.8" transform="rotate(153 16.7 5.2)" opacity="0.55"/><ellipse cx="91.0" cy="88.0" rx="1.5" ry="1.0" transform="rotate(94 91.0 88.0)" opacity="0.88"/><ellipse cx="94.8" cy="81.0" rx="1.0" ry="0.9" transform="rotate(152 94.8 81.0)" opacity="0.61"/><ellipse cx="32.9" cy="8.8" rx="1.3" ry="0.9" transform="rotate(31 32.9 8.8)" opacity="0.98"/><ellipse cx="87.8" cy="42.5" rx="1.0" ry="1.0" transform="rotate(75 87.8 42.5)" opacity="0.55"/><ellipse cx="57.3" cy="84.3" rx="1.4" ry="0.9" transform="rotate(139 57.3 84.3)" opacity="0.59"/><ellipse cx="46.6" cy="85.4" rx="1.6" ry="1.1" transform="rotate(6 46.6 85.4)" opacity="0.57"/><ellipse cx="43.8" cy="24.8" rx="1.7" ry="1.2" transform="rotate(141 43.8 24.8)" opacity="0.83"/><ellipse cx="105.4" cy="2.6" rx="1.9" ry="1.1" transform="rotate(30 105.4 2.6)" opacity="0.47"/><ellipse cx="72.0" cy="75.0" rx="1.5" ry="1.1" transform="rotate(104 72.0 75.0)" opacity="0.59"/><ellipse cx="17.1" cy="64.7" rx="2.1" ry="1.2" transform="rotate(150 17.1 64.7)" opacity="0.69"/><ellipse cx="54.4" cy="91.1" rx="1.4" ry="0.9" transform="rotate(137 54.4 91.1)" opacity="0.96"/><ellipse cx="1.9" cy="18.3" rx="1.8" ry="1.1" transform="rotate(119 1.9 18.3)" opacity="0.78"/><ellipse cx="109.9" cy="18.3" rx="1.8" ry="1.1" transform="rotate(119 109.9 18.3)" opacity="0.78"/><ellipse cx="28.2" cy="79.7" rx="1.5" ry="1.1" transform="rotate(43 28.2 79.7)" opacity="0.67"/><ellipse cx="44.2" cy="37.8" rx="1.7" ry="1.0" transform="rotate(29 44.2 37.8)" opacity="0.88"/><ellipse cx="35.7" cy="10.1" rx="1.0" ry="0.8" transform="rotate(172 35.7 10.1)" opacity="0.88"/><ellipse cx="-1.1" cy="10.1" rx="1.4" ry="0.8" transform="rotate(14 -1.1 10.1)" opacity="0.73"/><ellipse cx="106.9" cy="10.1" rx="1.4" ry="0.8" transform="rotate(14 106.9 10.1)" opacity="0.73"/><ellipse cx="18.6" cy="47.6" rx="1.0" ry="0.8" transform="rotate(0 18.6 47.6)" opacity="0.83"/><ellipse cx="97.6" cy="44.2" rx="1.2" ry="1.0" transform="rotate(112 97.6 44.2)" opacity="0.82"/><ellipse cx="104.2" cy="41.4" rx="1.2" ry="1.2" transform="rotate(151 104.2 41.4)" opacity="0.92"/><ellipse cx="57.6" cy="28.8" rx="1.3" ry="1.0" transform="rotate(97 57.6 28.8)" opacity="0.74"/><ellipse cx="9.2" cy="38.4" rx="1.4" ry="1.1" transform="rotate(171 9.2 38.4)" opacity="0.67"/><ellipse cx="51.5" cy="63.1" rx="1.2" ry="1.0" transform="rotate(98 51.5 63.1)" opacity="0.50"/><ellipse cx="36.9" cy="27.1" rx="1.7" ry="1.1" transform="rotate(135 36.9 27.1)" opacity="0.99"/><ellipse cx="21.6" cy="4.8" rx="1.2" ry="0.9" transform="rotate(159 21.6 4.8)" opacity="0.46"/><ellipse cx="91.9" cy="80.2" rx="1.9" ry="1.2" transform="rotate(52 91.9 80.2)" opacity="0.80"/><ellipse cx="8.7" cy="13.5" rx="1.5" ry="1.0" transform="rotate(76 8.7 13.5)" opacity="0.52"/><ellipse cx="48.0" cy="70.2" rx="0.9" ry="0.8" transform="rotate(41 48.0 70.2)" opacity="0.94"/><ellipse cx="66.2" cy="34.5" rx="1.9" ry="1.2" transform="rotate(14 66.2 34.5)" opacity="0.47"/><ellipse cx="93.8" cy="10.5" rx="1.0" ry="0.8" transform="rotate(122 93.8 10.5)" opacity="0.94"/><ellipse cx="5.2" cy="103.5" rx="1.4" ry="0.9" transform="rotate(131 5.2 103.5)" opacity="0.56"/><ellipse cx="101.5" cy="38.9" rx="1.5" ry="0.9" transform="rotate(34 101.5 38.9)" opacity="0.73"/><ellipse cx="79.4" cy="65.8" rx="1.5" ry="1.2" transform="rotate(31 79.4 65.8)" opacity="0.53"/><ellipse cx="36.2" cy="16.9" rx="2.0" ry="1.1" transform="rotate(13 36.2 16.9)" opacity="0.78"/><ellipse cx="41.9" cy="81.9" rx="1.4" ry="1.1" transform="rotate(38 41.9 81.9)" opacity="0.54"/><ellipse cx="23.1" cy="105.1" rx="1.3" ry="0.8" transform="rotate(46 23.1 105.1)" opacity="0.85"/><ellipse cx="45.8" cy="37.6" rx="1.7" ry="1.2" transform="rotate(61 45.8 37.6)" opacity="0.54"/><ellipse cx="17.8" cy="39.0" rx="1.5" ry="1.2" transform="rotate(166 17.8 39.0)" opacity="0.84"/><ellipse cx="43.3" cy="19.2" rx="1.2" ry="1.1" transform="rotate(129 43.3 19.2)" opacity="0.78"/><ellipse cx="11.2" cy="10.2" rx="1.5" ry="1.1" transform="rotate(65 11.2 10.2)" opacity="0.47"/><ellipse cx="102.7" cy="56.8" rx="1.5" ry="0.9" transform="rotate(81 102.7 56.8)" opacity="0.71"/><ellipse cx="57.3" cy="76.1" rx="1.4" ry="0.9" transform="rotate(24 57.3 76.1)" opacity="0.70"/><ellipse cx="101.9" cy="81.1" rx="1.9" ry="1.1" transform="rotate(126 101.9 81.1)" opacity="0.73"/><ellipse cx="87.3" cy="4.4" rx="1.8" ry="1.2" transform="rotate(46 87.3 4.4)" opacity="0.59"/><ellipse cx="7.1" cy="62.9" rx="1.7" ry="1.2" transform="rotate(93 7.1 62.9)" opacity="0.82"/><ellipse cx="71.1" cy="68.5" rx="1.9" ry="1.2" transform="rotate(64 71.1 68.5)" opacity="0.82"/><ellipse cx="79.8" cy="63.7" rx="1.3" ry="0.8" transform="rotate(83 79.8 63.7)" opacity="0.77"/><ellipse cx="4.4" cy="90.8" rx="1.4" ry="1.0" transform="rotate(136 4.4 90.8)" opacity="0.75"/><ellipse cx="88.5" cy="77.4" rx="1.2" ry="1.0" transform="rotate(43 88.5 77.4)" opacity="0.56"/><ellipse cx="12.0" cy="56.8" rx="1.6" ry="0.9" transform="rotate(164 12.0 56.8)" opacity="0.55"/><ellipse cx="33.7" cy="97.3" rx="1.2" ry="1.0" transform="rotate(81 33.7 97.3)" opacity="0.74"/></g></pattern><pattern id="q9" href="#dpg" patternTransform="translate(53.7 917.4)"/><filter id="n27" x="0" y="0" width="1" height="1" color-interpolation-filters="sRGB"><feTurbulence type="fractalNoise" baseFrequency="0.05" numOctaves="2" seed="356"/><feColorMatrix type="matrix" values="0 0 0 0 0.0 0 0 0 0 0.0 0 0 0 0 0.0 1.5 0 0 0 -0.675"/><feGaussianBlur stdDeviation="1"/></filter><clipPath id="c31"><rect x="161.8" y="908.4" width="108.10" height="107.60"/></clipPath><pattern id="q10" href="#dpb4" patternTransform="translate(207.8 978.4)"/><pattern id="q11" href="#dpg" patternTransform="translate(244.8 931.4)"/><clipPath id="c32"><rect x="280.0" y="908.4" width="107.10" height="107.60"/></clipPath><pattern id="q12" href="#dpb4" patternTransform="translate(292.0 992.4)"/><pattern id="q13" href="#dpg" patternTransform="translate(329.0 945.4)"/><clipPath id="c33"><rect x="397.1" y="908.4" width="107.70" height="107.60"/></clipPath><pattern id="q14" href="#dpb4" patternTransform="translate(483.1 1006.4)"/><pattern id="q15" href="#dpg" patternTransform="translate(412.1 959.4)"/></defs>
<g clip-path="url(#c00)">
<rect x="44.7" y="558.3" width="107.40" height="107.90" fill="#140a28"/>
<g><rect x="44.7" y="558.3" width="107.40" height="107.90" filter="url(#n1)"/></g>
<g><rect x="44.7" y="558.3" width="107.40" height="107.90" filter="url(#n2)"/></g>
<g><rect x="44.7" y="558.3" width="107.40" height="107.90" filter="url(#n3)"/></g>
<path d="M44,558 H153 V574.5 Q120,575.5 90,576.5 Q75,576 60,570 Q52,566 44,565 Z" fill="#000" filter="url(#blur1)"/><path d="M44,562 Q58,565 72,573 L74,578 Q60,573 44,572 Z" fill="#3a0c16" filter="url(#blur1)"/><path d="M71,578 Q72,575 76,576 Q110,578 153,575 L153,579.5 Q110,581.5 71,581.5 Z" fill="#b81616" opacity="0.9" filter="url(#blur1)"/><ellipse cx="86" cy="578.5" rx="6" ry="2" fill="#e02020" opacity="0.8" filter="url(#blur1)"/><ellipse cx="121" cy="577.5" rx="4" ry="2.2" fill="#e02020" opacity="0.8" filter="url(#blur1)"/><ellipse cx="146" cy="576.5" rx="6" ry="2.2" fill="#e02020" opacity="0.8" filter="url(#blur1)"/><path d="M72,582 Q115,584 153,579.5 L153,585.5 Q115,588 72,585.5 Z" fill="url(#bandg)" filter="url(#blur1)"/>
</g>
<g clip-path="url(#c01)">
<rect x="161.8" y="558.3" width="108.10" height="107.90" fill="#05052e"/>
<g><rect x="161.8" y="558.3" width="108.10" height="107.90" filter="url(#n4)"/></g>
<g><rect x="161.8" y="558.3" width="108.10" height="107.90" filter="url(#n5)"/></g>
<g><rect x="161.8" y="558.3" width="108.10" height="107.90" filter="url(#n6)"/></g>
<path d="M160,556 L160,566 C172,584 182,590 203,590 C222,590 240,578 255,556 Z" fill="#000"/><path d="M164,560 C172,571 182,578 200,580" fill="none" stroke="#b01212" stroke-width="4.5" filter="url(#clump)"/><path d="M200,580.5 C222,580 238,570 249,556" fill="none" stroke="#e01a1a" stroke-width="6.5" filter="url(#clump)"/><path d="M218,576 C232,570 240,563 245,556" fill="none" stroke="#f02222" stroke-width="7" filter="url(#clump)"/><path d="M160,566 C172,580 182,588 203,588 C222,588 240,576 253,556" fill="none" stroke="#2a2af0" stroke-width="4" filter="url(#blur1)"/>
</g>
<g clip-path="url(#c02)">
<rect x="280.0" y="558.3" width="107.10" height="107.90" fill="#030320"/>
<g><rect x="280.0" y="558.3" width="107.10" height="107.90" filter="url(#n7)"/></g>
<g><rect x="280.0" y="558.3" width="107.10" height="107.90" filter="url(#n8)"/></g>
<path d="M279,557 H388 V571 Q360,574 340,576 Q310,578 279,578 Z" fill="#000" filter="url(#blur1)"/><path d="M279,579 Q330,576 388,573 V588 Q330,590 279,590 Z" fill="#0a0a50" opacity="0.35" filter="url(#blur4)"/><path d="M279,572.5 Q290,571 298,566 Q304,561 310,557" fill="none" stroke="#2a2aff" stroke-width="4" filter="url(#blur1)"/><path d="M364,573.5 Q376,570 388,568" fill="none" stroke="#2424e0" stroke-width="3" filter="url(#blur1)"/>
</g>
<g clip-path="url(#c03)">
<rect x="397.1" y="558.3" width="107.70" height="107.90" fill="#05052e"/>
<g><rect x="397.1" y="558.3" width="107.70" height="107.90" filter="url(#n9)"/></g>
<g><rect x="397.1" y="558.3" width="107.70" height="107.90" filter="url(#n10)"/></g>
<path d="M396,557 H506 V569 Q470,573 440,576 Q420,579 396,579 Z" fill="#000" filter="url(#blur1)"/><path d="M396,580 Q450,576 506,570 V586 Q450,590 396,592 Z" fill="#0c0c58" opacity="0.35" filter="url(#blur4)"/><path d="M408,569.5 Q417,567 423,562 Q430,558.5 440,558.5 L476,559" fill="none" stroke="#2a2aff" stroke-width="4" filter="url(#blur1)"/>
</g>
<g clip-path="url(#c10)">
<rect x="44.7" y="675.2" width="107.40" height="107.40" fill="#060312"/>
<rect x="44.7" y="675.2" width="107.40" height="107.40" fill="url(#q1)" opacity="0.55" filter="url(#bdot)"/>
<rect x="44.7" y="675.2" width="107.40" height="107.40" fill="url(#q2)" opacity="0.8" filter="url(#bdot)"/>
</g>
<g clip-path="url(#c11)">
<rect x="161.8" y="675.2" width="108.10" height="107.40" fill="#020212"/>
<rect x="161.8" y="675.2" width="108.10" height="107.40" fill="url(#q3)" opacity="0.9" filter="url(#bdot)"/>
</g>
<g clip-path="url(#c12)">
<rect x="280.0" y="675.2" width="107.10" height="107.40" fill="#020206"/>
<rect x="280.0" y="675.2" width="107.10" height="107.40" fill="url(#q4)" opacity="0.5" filter="url(#bdot)"/>
</g>
<g clip-path="url(#c13)">
<rect x="397.1" y="675.2" width="107.70" height="107.40" fill="#05051e"/>
<rect x="397.1" y="675.2" width="107.70" height="107.40" fill="url(#q5)" opacity="1.0" filter="url(#bdot)"/>
<rect x="397.1" y="675.2" width="107.70" height="107.40" fill="url(#q6)" opacity="0.45" filter="url(#bdot)"/>
<rect x="397.1" y="675.2" width="107.70" height="107.40" fill="url(#q7)" opacity="0.15" filter="url(#bdot)"/>
</g>
<g clip-path="url(#c20)">
<rect x="44.7" y="792.1" width="107.40" height="106.50" fill="url(#g20)"/>
<ellipse cx="58" cy="830" rx="19" ry="19" fill="#2222e6" opacity="0.75" filter="url(#blur4)"/><ellipse cx="50" cy="878" rx="14" ry="26" fill="#1212a8" opacity="0.55" filter="url(#blur6)"/>
<g><rect x="44.7" y="792.1" width="107.40" height="106.50" filter="url(#n11)"/></g>
<g><rect x="44.7" y="792.1" width="107.40" height="106.50" filter="url(#n12)"/></g>
<g><rect x="44.7" y="792.1" width="107.40" height="106.50" filter="url(#n13)"/></g>
<path d="M44,791 H153 V812 Q146,811 140,814 Q133,822 125,819 Q118,812 113,808 Q100,805 88,805 Q78,807 71,810.5 Q58,813 44,816 Z" fill="#000" filter="url(#blur1)"/><path d="M114,809 Q120,818 128,820 Q134,818 136,810" fill="none" stroke="#1818a0" stroke-width="1.5" filter="url(#blur1)"/><ellipse cx="55" cy="842" rx="4.5" ry="8.5" transform="rotate(30 55 842)" fill="#000" filter="url(#blur1)"/><ellipse cx="46" cy="831.5" rx="2" ry="2" fill="#000" filter="url(#blur1)"/>
</g>
<g clip-path="url(#c21)">
<rect x="161.8" y="792.1" width="108.10" height="106.50" fill="#05052e"/>
<g><rect x="161.8" y="792.1" width="108.10" height="106.50" filter="url(#n14)"/></g>
<g><rect x="161.8" y="792.1" width="108.10" height="106.50" filter="url(#n15)"/></g>
<g><rect x="161.8" y="792.1" width="108.10" height="106.50" filter="url(#n16)"/></g>
<g mask="url(#fadem)"><rect x="161.8" y="802" width="108.10" height="40.00" filter="url(#n17)"/></g>
<path d="M161,791 H271 V800 Q262,800 255,803 Q240,806 210,804 Q185,806 161,806 Z" fill="#000" filter="url(#blur1)"/><ellipse cx="253" cy="857" rx="5" ry="7" fill="#000" opacity="0.7" filter="url(#blur2)"/>
</g>
<g clip-path="url(#c22)">
<rect x="280.0" y="792.1" width="107.10" height="106.50" fill="#040428"/>
<g><rect x="280.0" y="792.1" width="107.10" height="106.50" filter="url(#n18)"/></g>
<g><rect x="280.0" y="792.1" width="107.10" height="106.50" filter="url(#n19)"/></g>
<g><rect x="280.0" y="792.1" width="107.10" height="106.50" filter="url(#n20)"/></g>
<g mask="url(#fadem)"><rect x="280" y="800" width="107.10" height="44.00" filter="url(#n21)"/></g>
<path d="M279,791 H388 V803 Q330,805 279,803 Z" fill="#000" filter="url(#blur1)"/>
</g>
<g clip-path="url(#c23)">
<rect x="397.1" y="792.1" width="107.70" height="106.50" fill="#030320"/>
<g><rect x="397.1" y="792.1" width="107.70" height="106.50" filter="url(#n22)"/></g>
<g><rect x="397.1" y="792.1" width="107.70" height="106.50" filter="url(#n23)"/></g>
<g><rect x="397.1" y="792.1" width="107.70" height="106.50" filter="url(#n24)"/></g>
<g mask="url(#fadem)"><rect x="397.1" y="795" width="107.70" height="40.00" filter="url(#n25)"/></g>
<g mask="url(#fadem)"><rect x="397.1" y="850" width="70.00" height="50.00" filter="url(#n26)"/></g>
<path d="M396,791 H506 V797 Q450,799 396,797 Z" fill="#000" filter="url(#blur1)"/>
</g>
<g clip-path="url(#c30)">
<rect x="44.7" y="908.4" width="107.40" height="107.60" fill="#030318"/>
<rect x="44.7" y="908.4" width="107.40" height="107.60" fill="url(#q8)" opacity="0.95" filter="url(#bdot)"/>
<rect x="44.7" y="908.4" width="107.40" height="107.60" fill="url(#q9)" opacity="0.8" filter="url(#bdot)"/>
<g><rect x="44.7" y="908.4" width="107.40" height="107.60" filter="url(#n27)"/></g>
</g>
<g clip-path="url(#c31)">
<rect x="161.8" y="908.4" width="108.10" height="107.60" fill="#030318"/>
<rect x="161.8" y="908.4" width="108.10" height="107.60" fill="url(#q10)" opacity="1.0" filter="url(#bdot)"/>
<rect x="161.8" y="908.4" width="108.10" height="107.60" fill="url(#q11)" opacity="0.9" filter="url(#bdot)"/>
</g>
<g clip-path="url(#c32)">
<rect x="280.0" y="908.4" width="107.10" height="107.60" fill="#030318"/>
<rect x="280.0" y="908.4" width="107.10" height="107.60" fill="url(#q12)" opacity="0.85" filter="url(#bdot)"/>
<rect x="280.0" y="908.4" width="107.10" height="107.60" fill="url(#q13)" opacity="1.0" filter="url(#bdot)"/>
</g>
<g clip-path="url(#c33)">
<rect x="397.1" y="908.4" width="107.70" height="107.60" fill="#030318"/>
<rect x="397.1" y="908.4" width="107.70" height="107.60" fill="url(#q14)" opacity="0.85" filter="url(#bdot)"/>
<rect x="397.1" y="908.4" width="107.70" height="107.60" fill="url(#q15)" opacity="1.0" filter="url(#bdot)"/>
</g>
<rect x="66.5" y="609.6" width="31.80" height="29.00" stroke="#b87238" stroke-width="1.2" stroke-dasharray="5,3" fill="none"/>
<line x1="66.5" y1="638.6" x2="44.7" y2="675.2" stroke="#b87238" stroke-width="1.2" stroke-dasharray="5,3" fill="none"/>
<line x1="98.3" y1="638.6" x2="152.1" y2="675.2" stroke="#b87238" stroke-width="1.2" stroke-dasharray="5,3" fill="none"/>
<rect x="197.1" y="598.4" width="31.90" height="28.90" stroke="#b87238" stroke-width="1.2" stroke-dasharray="5,3" fill="none"/>
<line x1="197.1" y1="627.3" x2="161.8" y2="675.2" stroke="#b87238" stroke-width="1.2" stroke-dasharray="5,3" fill="none"/>
<line x1="229" y1="627.3" x2="269.9" y2="675.2" stroke="#b87238" stroke-width="1.2" stroke-dasharray="5,3" fill="none"/>
<rect x="319.4" y="598" width="30.90" height="29.00" stroke="#b87238" stroke-width="1.2" stroke-dasharray="5,3" fill="none"/>
<line x1="319.4" y1="627" x2="280.0" y2="675.2" stroke="#b87238" stroke-width="1.2" stroke-dasharray="5,3" fill="none"/>
<line x1="350.3" y1="627" x2="387.1" y2="675.2" stroke="#b87238" stroke-width="1.2" stroke-dasharray="5,3" fill="none"/>
<rect x="436.4" y="589.3" width="31.20" height="28.90" stroke="#b87238" stroke-width="1.2" stroke-dasharray="5,3" fill="none"/>
<line x1="436.4" y1="618.2" x2="397.1" y2="675.2" stroke="#b87238" stroke-width="1.2" stroke-dasharray="5,3" fill="none"/>
<line x1="467.6" y1="618.2" x2="504.8" y2="675.2" stroke="#b87238" stroke-width="1.2" stroke-dasharray="5,3" fill="none"/>
<rect x="112.5" y="829.7" width="31.40" height="29.50" stroke="#b87238" stroke-width="1.2" stroke-dasharray="5,3" fill="none"/>
<line x1="112.5" y1="859.2" x2="44.7" y2="908.4" stroke="#b87238" stroke-width="1.2" stroke-dasharray="5,3" fill="none"/>
<line x1="143.9" y1="859.2" x2="152.1" y2="908.4" stroke="#b87238" stroke-width="1.2" stroke-dasharray="5,3" fill="none"/>
<rect x="201.4" y="830.7" width="31.20" height="29.00" stroke="#b87238" stroke-width="1.2" stroke-dasharray="5,3" fill="none"/>
<line x1="201.4" y1="859.7" x2="161.8" y2="908.4" stroke="#b87238" stroke-width="1.2" stroke-dasharray="5,3" fill="none"/>
<line x1="232.6" y1="859.7" x2="269.9" y2="908.4" stroke="#b87238" stroke-width="1.2" stroke-dasharray="5,3" fill="none"/>
<rect x="338.7" y="821.4" width="31.50" height="29.20" stroke="#b87238" stroke-width="1.2" stroke-dasharray="5,3" fill="none"/>
<line x1="338.7" y1="850.6" x2="280.0" y2="908.4" stroke="#b87238" stroke-width="1.2" stroke-dasharray="5,3" fill="none"/>
<line x1="370.2" y1="850.6" x2="387.1" y2="908.4" stroke="#b87238" stroke-width="1.2" stroke-dasharray="5,3" fill="none"/>
<rect x="418.2" y="813.2" width="31.40" height="29.10" stroke="#b87238" stroke-width="1.2" stroke-dasharray="5,3" fill="none"/>
<line x1="418.2" y1="842.3" x2="397.1" y2="908.4" stroke="#b87238" stroke-width="1.2" stroke-dasharray="5,3" fill="none"/>
<line x1="449.6" y1="842.3" x2="504.8" y2="908.4" stroke="#b87238" stroke-width="1.2" stroke-dasharray="5,3" fill="none"/>
<text x="114" y="654.3" font-size="11" fill="#fff">100 µm</text>
<rect x="136.8" y="659.3" width="7.8" height="2" fill="#fff"/>
<text x="117.8" y="769" font-size="11" fill="#fff">20 µm</text>
<rect x="134" y="775.4" width="12.6" height="2.1" fill="#fff"/>
</svg></body></html>
